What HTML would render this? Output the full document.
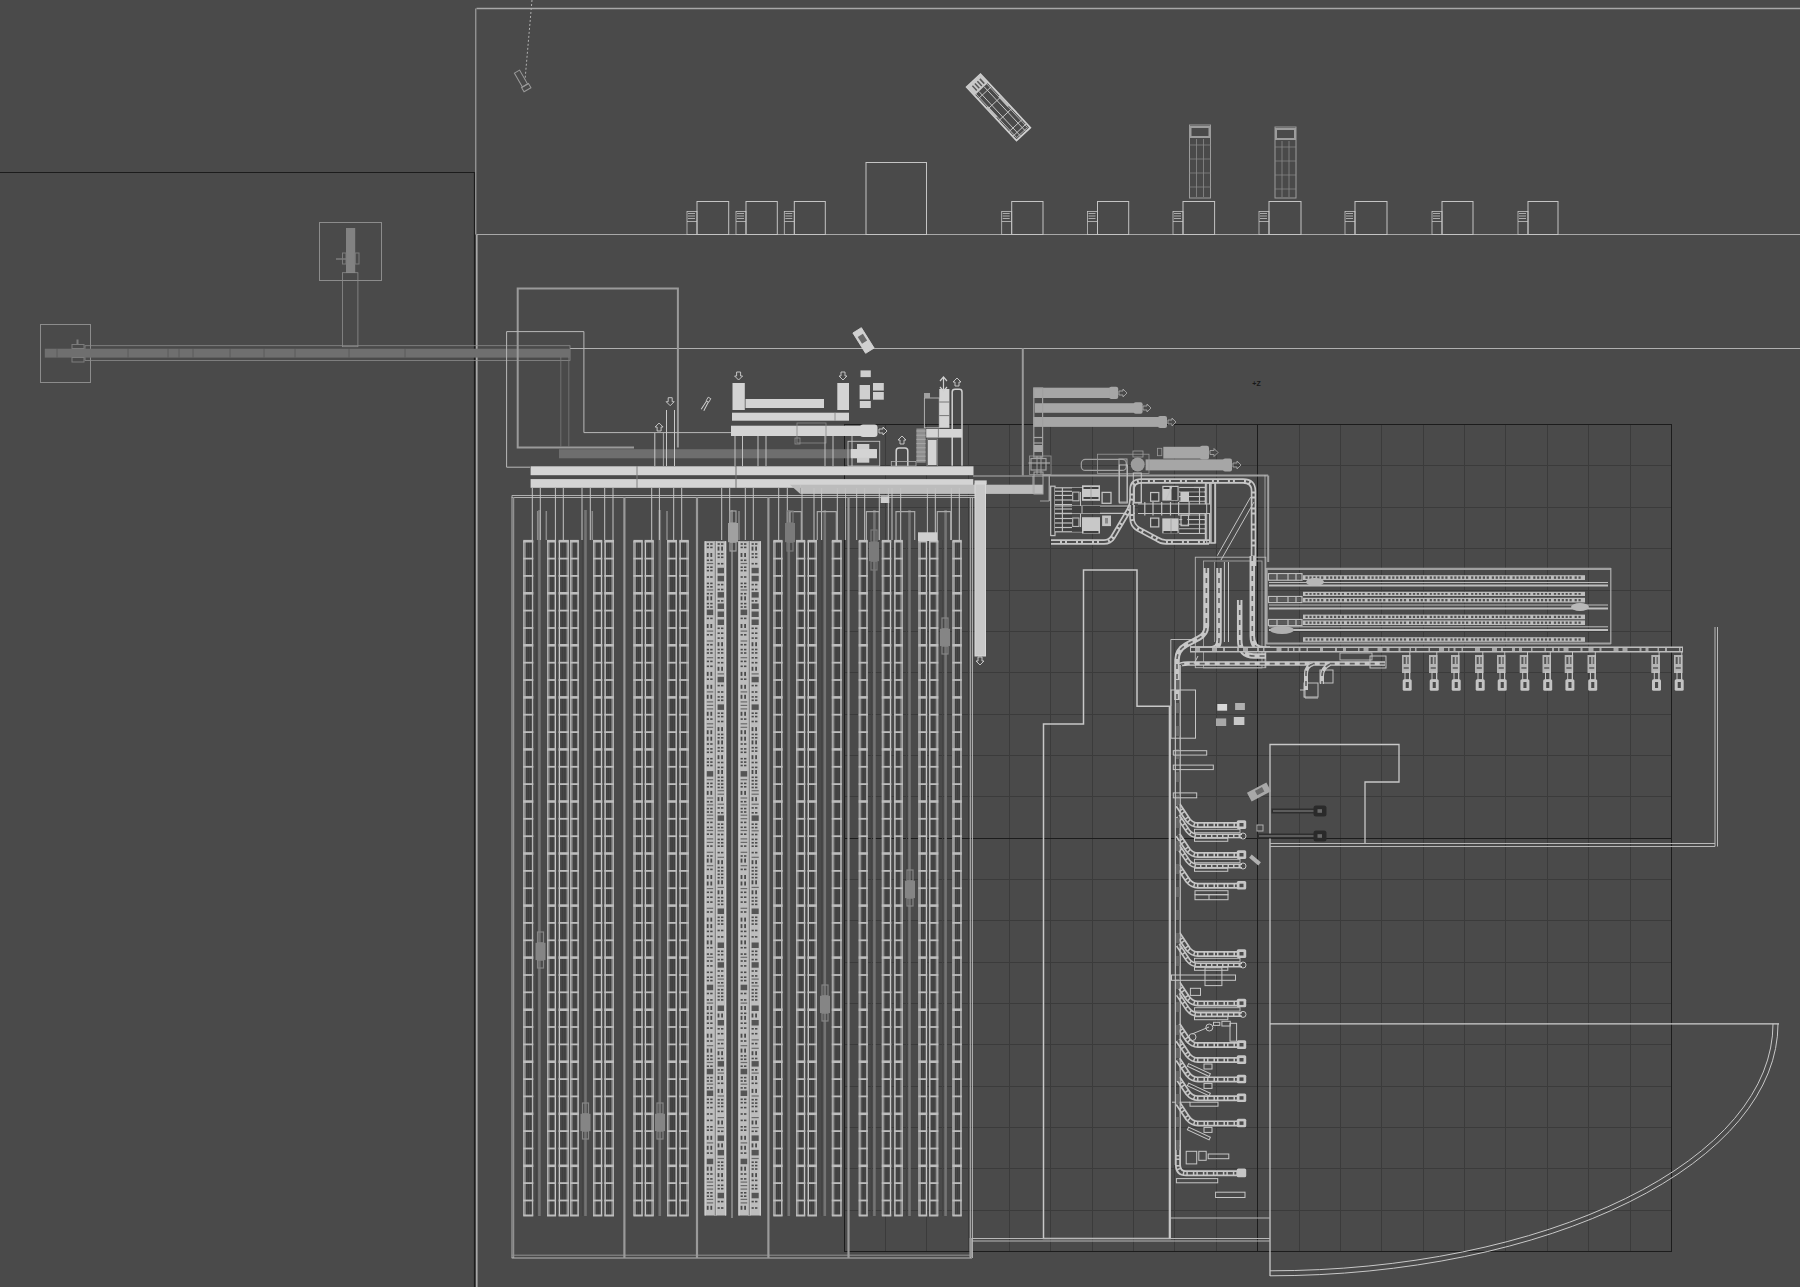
<!DOCTYPE html>
<html><head><meta charset="utf-8"><style>
html,body{margin:0;padding:0;background:#4a4a4a;width:1800px;height:1287px;overflow:hidden;}
svg{display:block;}
</style></head><body>
<svg width="1800" height="1287" viewBox="0 0 1800 1287" font-family="Liberation Sans, sans-serif">
<rect x="0" y="0" width="1800" height="1287" fill="#4a4a4a"/>
<line x1="885.5" y1="424.5" x2="885.5" y2="1251.5" stroke="#3b3b3b" stroke-width="1"/>
<line x1="926.5" y1="424.5" x2="926.5" y2="1251.5" stroke="#3b3b3b" stroke-width="1"/>
<line x1="968.5" y1="424.5" x2="968.5" y2="1251.5" stroke="#3b3b3b" stroke-width="1"/>
<line x1="1009.5" y1="424.5" x2="1009.5" y2="1251.5" stroke="#3b3b3b" stroke-width="1"/>
<line x1="1050.5" y1="424.5" x2="1050.5" y2="1251.5" stroke="#3b3b3b" stroke-width="1"/>
<line x1="1092.5" y1="424.5" x2="1092.5" y2="1251.5" stroke="#3b3b3b" stroke-width="1"/>
<line x1="1133.5" y1="424.5" x2="1133.5" y2="1251.5" stroke="#3b3b3b" stroke-width="1"/>
<line x1="1174.5" y1="424.5" x2="1174.5" y2="1251.5" stroke="#3b3b3b" stroke-width="1"/>
<line x1="1216.5" y1="424.5" x2="1216.5" y2="1251.5" stroke="#3b3b3b" stroke-width="1"/>
<line x1="1299.5" y1="424.5" x2="1299.5" y2="1251.5" stroke="#3b3b3b" stroke-width="1"/>
<line x1="1340.5" y1="424.5" x2="1340.5" y2="1251.5" stroke="#3b3b3b" stroke-width="1"/>
<line x1="1381.5" y1="424.5" x2="1381.5" y2="1251.5" stroke="#3b3b3b" stroke-width="1"/>
<line x1="1423.5" y1="424.5" x2="1423.5" y2="1251.5" stroke="#3b3b3b" stroke-width="1"/>
<line x1="1464.5" y1="424.5" x2="1464.5" y2="1251.5" stroke="#3b3b3b" stroke-width="1"/>
<line x1="1505.5" y1="424.5" x2="1505.5" y2="1251.5" stroke="#3b3b3b" stroke-width="1"/>
<line x1="1547.5" y1="424.5" x2="1547.5" y2="1251.5" stroke="#3b3b3b" stroke-width="1"/>
<line x1="1588.5" y1="424.5" x2="1588.5" y2="1251.5" stroke="#3b3b3b" stroke-width="1"/>
<line x1="1630.5" y1="424.5" x2="1630.5" y2="1251.5" stroke="#3b3b3b" stroke-width="1"/>
<line x1="844.5" y1="465.5" x2="1671.5" y2="465.5" stroke="#3b3b3b" stroke-width="1"/>
<line x1="844.5" y1="507.5" x2="1671.5" y2="507.5" stroke="#3b3b3b" stroke-width="1"/>
<line x1="844.5" y1="548.5" x2="1671.5" y2="548.5" stroke="#3b3b3b" stroke-width="1"/>
<line x1="844.5" y1="590.5" x2="1671.5" y2="590.5" stroke="#3b3b3b" stroke-width="1"/>
<line x1="844.5" y1="631.5" x2="1671.5" y2="631.5" stroke="#3b3b3b" stroke-width="1"/>
<line x1="844.5" y1="672.5" x2="1671.5" y2="672.5" stroke="#3b3b3b" stroke-width="1"/>
<line x1="844.5" y1="714.5" x2="1671.5" y2="714.5" stroke="#3b3b3b" stroke-width="1"/>
<line x1="844.5" y1="755.5" x2="1671.5" y2="755.5" stroke="#3b3b3b" stroke-width="1"/>
<line x1="844.5" y1="796.5" x2="1671.5" y2="796.5" stroke="#3b3b3b" stroke-width="1"/>
<line x1="844.5" y1="879.5" x2="1671.5" y2="879.5" stroke="#3b3b3b" stroke-width="1"/>
<line x1="844.5" y1="920.5" x2="1671.5" y2="920.5" stroke="#3b3b3b" stroke-width="1"/>
<line x1="844.5" y1="962.5" x2="1671.5" y2="962.5" stroke="#3b3b3b" stroke-width="1"/>
<line x1="844.5" y1="1003.5" x2="1671.5" y2="1003.5" stroke="#3b3b3b" stroke-width="1"/>
<line x1="844.5" y1="1044.5" x2="1671.5" y2="1044.5" stroke="#3b3b3b" stroke-width="1"/>
<line x1="844.5" y1="1086.5" x2="1671.5" y2="1086.5" stroke="#3b3b3b" stroke-width="1"/>
<line x1="844.5" y1="1127.5" x2="1671.5" y2="1127.5" stroke="#3b3b3b" stroke-width="1"/>
<line x1="844.5" y1="1168.5" x2="1671.5" y2="1168.5" stroke="#3b3b3b" stroke-width="1"/>
<line x1="844.5" y1="1210.5" x2="1671.5" y2="1210.5" stroke="#3b3b3b" stroke-width="1"/>
<rect x="844.5" y="424.5" width="827.0" height="827.0" stroke="#1c1c1c" stroke-width="1" fill="none"/>
<line x1="1257.5" y1="424.5" x2="1257.5" y2="1251.5" stroke="#1c1c1c" stroke-width="1"/>
<line x1="844.5" y1="838.5" x2="1671.5" y2="838.5" stroke="#1c1c1c" stroke-width="1"/>
<line x1="0.0" y1="172.5" x2="475.0" y2="172.5" stroke="#1c1c1c" stroke-width="1.2"/>
<line x1="474.5" y1="172.0" x2="474.5" y2="1287.0" stroke="#1c1c1c" stroke-width="1.2"/>
<line x1="475.8" y1="8.5" x2="475.8" y2="234.5" stroke="#b0b0b0" stroke-width="1"/>
<line x1="476.8" y1="234.5" x2="476.8" y2="1287.0" stroke="#a8a8a8" stroke-width="1.6"/>
<line x1="476.5" y1="8.5" x2="1800.0" y2="8.5" stroke="#a8a8a8" stroke-width="1.6"/>
<line x1="476.5" y1="234.5" x2="1800.0" y2="234.5" stroke="#a8a8a8" stroke-width="1"/>
<line x1="570.0" y1="348.5" x2="1800.0" y2="348.5" stroke="#b0b0b0" stroke-width="1"/>
<rect x="697.0" y="201.5" width="31.7" height="33.0" stroke="#c4c4c4" stroke-width="1" fill="none"/>
<rect x="687.0" y="211.5" width="10.0" height="23.0" stroke="#c4c4c4" stroke-width="0.8" fill="none"/>
<line x1="688.0" y1="213.5" x2="695.0" y2="213.5" stroke="#c4c4c4" stroke-width="0.8"/>
<line x1="688.0" y1="216.0" x2="695.0" y2="216.0" stroke="#c4c4c4" stroke-width="0.8"/>
<line x1="688.0" y1="218.5" x2="695.0" y2="218.5" stroke="#c4c4c4" stroke-width="0.8"/>
<line x1="687.0" y1="221.5" x2="697.0" y2="221.5" stroke="#c4c4c4" stroke-width="0.8"/>
<rect x="746.0" y="201.5" width="31.3" height="33.0" stroke="#c4c4c4" stroke-width="1" fill="none"/>
<rect x="736.0" y="211.5" width="10.0" height="23.0" stroke="#c4c4c4" stroke-width="0.8" fill="none"/>
<line x1="737.0" y1="213.5" x2="744.0" y2="213.5" stroke="#c4c4c4" stroke-width="0.8"/>
<line x1="737.0" y1="216.0" x2="744.0" y2="216.0" stroke="#c4c4c4" stroke-width="0.8"/>
<line x1="737.0" y1="218.5" x2="744.0" y2="218.5" stroke="#c4c4c4" stroke-width="0.8"/>
<line x1="736.0" y1="221.5" x2="746.0" y2="221.5" stroke="#c4c4c4" stroke-width="0.8"/>
<rect x="794.3" y="201.5" width="31.0" height="33.0" stroke="#c4c4c4" stroke-width="1" fill="none"/>
<rect x="784.3" y="211.5" width="10.0" height="23.0" stroke="#c4c4c4" stroke-width="0.8" fill="none"/>
<line x1="785.3" y1="213.5" x2="792.3" y2="213.5" stroke="#c4c4c4" stroke-width="0.8"/>
<line x1="785.3" y1="216.0" x2="792.3" y2="216.0" stroke="#c4c4c4" stroke-width="0.8"/>
<line x1="785.3" y1="218.5" x2="792.3" y2="218.5" stroke="#c4c4c4" stroke-width="0.8"/>
<line x1="784.3" y1="221.5" x2="794.3" y2="221.5" stroke="#c4c4c4" stroke-width="0.8"/>
<rect x="1011.7" y="201.5" width="31.3" height="33.0" stroke="#c4c4c4" stroke-width="1" fill="none"/>
<rect x="1001.7" y="211.5" width="10.0" height="23.0" stroke="#c4c4c4" stroke-width="0.8" fill="none"/>
<line x1="1002.7" y1="213.5" x2="1009.7" y2="213.5" stroke="#c4c4c4" stroke-width="0.8"/>
<line x1="1002.7" y1="216.0" x2="1009.7" y2="216.0" stroke="#c4c4c4" stroke-width="0.8"/>
<line x1="1002.7" y1="218.5" x2="1009.7" y2="218.5" stroke="#c4c4c4" stroke-width="0.8"/>
<line x1="1001.7" y1="221.5" x2="1011.7" y2="221.5" stroke="#c4c4c4" stroke-width="0.8"/>
<rect x="1097.5" y="201.5" width="31.2" height="33.0" stroke="#c4c4c4" stroke-width="1" fill="none"/>
<rect x="1087.5" y="211.5" width="10.0" height="23.0" stroke="#c4c4c4" stroke-width="0.8" fill="none"/>
<line x1="1088.5" y1="213.5" x2="1095.5" y2="213.5" stroke="#c4c4c4" stroke-width="0.8"/>
<line x1="1088.5" y1="216.0" x2="1095.5" y2="216.0" stroke="#c4c4c4" stroke-width="0.8"/>
<line x1="1088.5" y1="218.5" x2="1095.5" y2="218.5" stroke="#c4c4c4" stroke-width="0.8"/>
<line x1="1087.5" y1="221.5" x2="1097.5" y2="221.5" stroke="#c4c4c4" stroke-width="0.8"/>
<rect x="1183.0" y="201.5" width="31.6" height="33.0" stroke="#c4c4c4" stroke-width="1" fill="none"/>
<rect x="1173.0" y="211.5" width="10.0" height="23.0" stroke="#c4c4c4" stroke-width="0.8" fill="none"/>
<line x1="1174.0" y1="213.5" x2="1181.0" y2="213.5" stroke="#c4c4c4" stroke-width="0.8"/>
<line x1="1174.0" y1="216.0" x2="1181.0" y2="216.0" stroke="#c4c4c4" stroke-width="0.8"/>
<line x1="1174.0" y1="218.5" x2="1181.0" y2="218.5" stroke="#c4c4c4" stroke-width="0.8"/>
<line x1="1173.0" y1="221.5" x2="1183.0" y2="221.5" stroke="#c4c4c4" stroke-width="0.8"/>
<rect x="1269.0" y="201.5" width="32.0" height="33.0" stroke="#c4c4c4" stroke-width="1" fill="none"/>
<rect x="1259.0" y="211.5" width="10.0" height="23.0" stroke="#c4c4c4" stroke-width="0.8" fill="none"/>
<line x1="1260.0" y1="213.5" x2="1267.0" y2="213.5" stroke="#c4c4c4" stroke-width="0.8"/>
<line x1="1260.0" y1="216.0" x2="1267.0" y2="216.0" stroke="#c4c4c4" stroke-width="0.8"/>
<line x1="1260.0" y1="218.5" x2="1267.0" y2="218.5" stroke="#c4c4c4" stroke-width="0.8"/>
<line x1="1259.0" y1="221.5" x2="1269.0" y2="221.5" stroke="#c4c4c4" stroke-width="0.8"/>
<rect x="1355.0" y="201.5" width="32.0" height="33.0" stroke="#c4c4c4" stroke-width="1" fill="none"/>
<rect x="1345.0" y="211.5" width="10.0" height="23.0" stroke="#c4c4c4" stroke-width="0.8" fill="none"/>
<line x1="1346.0" y1="213.5" x2="1353.0" y2="213.5" stroke="#c4c4c4" stroke-width="0.8"/>
<line x1="1346.0" y1="216.0" x2="1353.0" y2="216.0" stroke="#c4c4c4" stroke-width="0.8"/>
<line x1="1346.0" y1="218.5" x2="1353.0" y2="218.5" stroke="#c4c4c4" stroke-width="0.8"/>
<line x1="1345.0" y1="221.5" x2="1355.0" y2="221.5" stroke="#c4c4c4" stroke-width="0.8"/>
<rect x="1442.0" y="201.5" width="31.0" height="33.0" stroke="#c4c4c4" stroke-width="1" fill="none"/>
<rect x="1432.0" y="211.5" width="10.0" height="23.0" stroke="#c4c4c4" stroke-width="0.8" fill="none"/>
<line x1="1433.0" y1="213.5" x2="1440.0" y2="213.5" stroke="#c4c4c4" stroke-width="0.8"/>
<line x1="1433.0" y1="216.0" x2="1440.0" y2="216.0" stroke="#c4c4c4" stroke-width="0.8"/>
<line x1="1433.0" y1="218.5" x2="1440.0" y2="218.5" stroke="#c4c4c4" stroke-width="0.8"/>
<line x1="1432.0" y1="221.5" x2="1442.0" y2="221.5" stroke="#c4c4c4" stroke-width="0.8"/>
<rect x="1528.0" y="201.5" width="30.0" height="33.0" stroke="#c4c4c4" stroke-width="1" fill="none"/>
<rect x="1518.0" y="211.5" width="10.0" height="23.0" stroke="#c4c4c4" stroke-width="0.8" fill="none"/>
<line x1="1519.0" y1="213.5" x2="1526.0" y2="213.5" stroke="#c4c4c4" stroke-width="0.8"/>
<line x1="1519.0" y1="216.0" x2="1526.0" y2="216.0" stroke="#c4c4c4" stroke-width="0.8"/>
<line x1="1519.0" y1="218.5" x2="1526.0" y2="218.5" stroke="#c4c4c4" stroke-width="0.8"/>
<line x1="1518.0" y1="221.5" x2="1528.0" y2="221.5" stroke="#c4c4c4" stroke-width="0.8"/>
<rect x="866.0" y="162.5" width="60.5" height="72.0" stroke="#c4c4c4" stroke-width="1" fill="none"/>
<rect x="1189.5" y="125.0" width="21.0" height="73.0" stroke="#9c9c9c" stroke-width="1" fill="none"/>
<rect x="1190.5" y="127.0" width="19.0" height="10.0" stroke="#9c9c9c" stroke-width="2" fill="none"/>
<line x1="1196.5" y1="139.0" x2="1196.5" y2="197.0" stroke="#8a8a8a" stroke-width="0.8"/>
<line x1="1203.5" y1="139.0" x2="1203.5" y2="197.0" stroke="#8a8a8a" stroke-width="0.8"/>
<line x1="1189.5" y1="145.0" x2="1210.5" y2="145.0" stroke="#8a8a8a" stroke-width="0.7"/>
<line x1="1189.5" y1="159.0" x2="1210.5" y2="159.0" stroke="#8a8a8a" stroke-width="0.7"/>
<line x1="1189.5" y1="173.0" x2="1210.5" y2="173.0" stroke="#8a8a8a" stroke-width="0.7"/>
<line x1="1189.5" y1="187.0" x2="1210.5" y2="187.0" stroke="#8a8a8a" stroke-width="0.7"/>
<rect x="1275.0" y="127.0" width="21.0" height="71.0" stroke="#9c9c9c" stroke-width="1" fill="none"/>
<rect x="1276.0" y="129.0" width="19.0" height="10.0" stroke="#9c9c9c" stroke-width="2" fill="none"/>
<line x1="1282.0" y1="141.0" x2="1282.0" y2="197.0" stroke="#8a8a8a" stroke-width="0.8"/>
<line x1="1289.0" y1="141.0" x2="1289.0" y2="197.0" stroke="#8a8a8a" stroke-width="0.8"/>
<line x1="1275.0" y1="147.0" x2="1296.0" y2="147.0" stroke="#8a8a8a" stroke-width="0.7"/>
<line x1="1275.0" y1="161.0" x2="1296.0" y2="161.0" stroke="#8a8a8a" stroke-width="0.7"/>
<line x1="1275.0" y1="175.0" x2="1296.0" y2="175.0" stroke="#8a8a8a" stroke-width="0.7"/>
<line x1="1275.0" y1="189.0" x2="1296.0" y2="189.0" stroke="#8a8a8a" stroke-width="0.7"/>
<g transform="translate(998.5,107.3) rotate(47)">
<rect x="-36.5" y="-9.4" width="73.0" height="18.8" stroke="#d0d0d0" stroke-width="1.8" fill="none"/>
<rect x="-34.5" y="-7.4" width="69.0" height="14.8" stroke="#c0c0c0" stroke-width="0.8" fill="none"/>
<rect x="-36.5" y="-9.4" width="11.5" height="18.8" fill="#c8c8c8"/>
<rect x="-33.5" y="-6.5" width="6.5" height="1.5" fill="#585858"/>
<rect x="-33.5" y="-3.1" width="6.5" height="1.5" fill="#585858"/>
<rect x="-33.5" y="0.3" width="6.5" height="1.5" fill="#585858"/>
<rect x="-33.5" y="3.7" width="6.5" height="1.5" fill="#585858"/>
<line x1="-25.0" y1="-3.5" x2="36.5" y2="-3.5" stroke="#c8c8c8" stroke-width="0.9"/>
<line x1="-25.0" y1="3.5" x2="36.5" y2="3.5" stroke="#c8c8c8" stroke-width="0.9"/>
<line x1="-20.0" y1="-9.4" x2="-20.0" y2="9.4" stroke="#c8c8c8" stroke-width="0.9"/>
<line x1="-6.0" y1="-9.4" x2="-6.0" y2="9.4" stroke="#c8c8c8" stroke-width="0.9"/>
<line x1="10.0" y1="-9.4" x2="10.0" y2="9.4" stroke="#c8c8c8" stroke-width="0.9"/>
<line x1="25.0" y1="-9.4" x2="25.0" y2="9.4" stroke="#c8c8c8" stroke-width="0.9"/>
<line x1="31.0" y1="-9.4" x2="31.0" y2="9.4" stroke="#c8c8c8" stroke-width="0.9"/>
<rect x="-8.0" y="-9.4" width="14.0" height="2.4" fill="#bcbcbc"/>
<rect x="-8.0" y="7.0" width="14.0" height="2.4" fill="#bcbcbc"/>
</g>
<path d="M532,0 L525,80" stroke="#b0b0b0" stroke-width="1" fill="none" stroke-dasharray="2,2"/>
<g transform="translate(523,82) rotate(-30)">
<rect x="-3.0" y="-12.0" width="6.0" height="16.0" stroke="#9a9a9a" stroke-width="1" fill="none"/>
<rect x="-4.0" y="4.0" width="8.0" height="5.0" stroke="#9a9a9a" stroke-width="1" fill="none"/>
</g>
<rect x="40.5" y="324.5" width="50.0" height="58.0" stroke="#8c8c8c" stroke-width="1" fill="none"/>
<rect x="85.0" y="345.7" width="485.0" height="14.8" stroke="#8c8c8c" stroke-width="0.8" fill="none"/>
<rect x="44.8" y="348.7" width="525.2" height="8.9" fill="#6f6f6f"/>
<line x1="57.0" y1="348.7" x2="57.0" y2="357.6" stroke="#555555" stroke-width="0.8"/>
<line x1="128.0" y1="348.7" x2="128.0" y2="357.6" stroke="#555555" stroke-width="0.8"/>
<line x1="168.0" y1="348.7" x2="168.0" y2="357.6" stroke="#555555" stroke-width="0.8"/>
<line x1="179.0" y1="348.7" x2="179.0" y2="357.6" stroke="#555555" stroke-width="0.8"/>
<line x1="193.0" y1="348.7" x2="193.0" y2="357.6" stroke="#555555" stroke-width="0.8"/>
<line x1="230.0" y1="348.7" x2="230.0" y2="357.6" stroke="#555555" stroke-width="0.8"/>
<line x1="264.0" y1="348.7" x2="264.0" y2="357.6" stroke="#555555" stroke-width="0.8"/>
<line x1="295.0" y1="348.7" x2="295.0" y2="357.6" stroke="#555555" stroke-width="0.8"/>
<line x1="349.0" y1="348.7" x2="349.0" y2="357.6" stroke="#555555" stroke-width="0.8"/>
<line x1="405.0" y1="348.7" x2="405.0" y2="357.6" stroke="#555555" stroke-width="0.8"/>
<rect x="319.5" y="222.5" width="62.0" height="58.0" stroke="#8c8c8c" stroke-width="1" fill="none"/>
<rect x="346.0" y="228.0" width="9.2" height="45.0" fill="#828282"/>
<rect x="342.4" y="272.7" width="15.5" height="74.0" stroke="#8c8c8c" stroke-width="0.8" fill="none"/>
<rect x="342.5" y="253.0" width="3.5" height="11.0" stroke="#7c7c7c" stroke-width="1" fill="none"/>
<rect x="355.2" y="253.0" width="3.8" height="11.0" stroke="#7c7c7c" stroke-width="1" fill="none"/>
<line x1="336.0" y1="259.0" x2="346.0" y2="259.0" stroke="#7c7c7c" stroke-width="1.5"/>
<rect x="72.0" y="344.5" width="12.0" height="4.0" stroke="#7c7c7c" stroke-width="1" fill="none"/>
<rect x="72.0" y="357.5" width="12.0" height="4.5" stroke="#7c7c7c" stroke-width="1" fill="none"/>
<rect x="76.5" y="339.5" width="2.0" height="5.0" fill="#7c7c7c"/>
<polyline points="634.0,447.5 517.7,447.5 517.7,288.5 677.9,288.5 677.9,447.5" stroke="#9a9a9a" stroke-width="2" fill="none"/>
<polyline points="530.0,467.2 506.6,467.2 506.6,331.6 583.9,331.6 583.9,432.6 731.0,432.6" stroke="#b8b8b8" stroke-width="1" fill="none"/>
<line x1="560.8" y1="357.0" x2="560.8" y2="447.0" stroke="#7a7a7a" stroke-width="0.8"/>
<line x1="568.8" y1="357.0" x2="568.8" y2="447.0" stroke="#7a7a7a" stroke-width="0.8"/>
<line x1="511.7" y1="495.5" x2="975.0" y2="495.5" stroke="#b0b0b0" stroke-width="1"/>
<line x1="511.7" y1="497.5" x2="975.0" y2="497.5" stroke="#b0b0b0" stroke-width="1"/>
<line x1="512.0" y1="496.0" x2="512.0" y2="1258.0" stroke="#b0b0b0" stroke-width="1"/>
<line x1="513.5" y1="497.0" x2="513.5" y2="1258.0" stroke="#909090" stroke-width="1.5"/>
<line x1="511.7" y1="1258.0" x2="972.0" y2="1258.0" stroke="#b8b8b8" stroke-width="1"/>
<line x1="511.7" y1="1255.2" x2="972.0" y2="1255.2" stroke="#909090" stroke-width="1"/>
<line x1="624.4" y1="497.0" x2="624.4" y2="1258.0" stroke="#9a9a9a" stroke-width="2.2"/>
<line x1="697.0" y1="497.0" x2="697.0" y2="1258.0" stroke="#9a9a9a" stroke-width="2.2"/>
<line x1="768.4" y1="497.0" x2="768.4" y2="1258.0" stroke="#9a9a9a" stroke-width="2.2"/>
<line x1="848.5" y1="497.0" x2="848.5" y2="1258.0" stroke="#9a9a9a" stroke-width="2.2"/>
<line x1="970.3" y1="497.0" x2="970.3" y2="1258.0" stroke="#b8b8b8" stroke-width="1"/>
<line x1="972.4" y1="497.0" x2="972.4" y2="1258.0" stroke="#b8b8b8" stroke-width="1"/>
<rect x="969.5" y="1238.0" width="2.5" height="19.0" fill="#999999"/>
<polygon points="1043.5,1238.5 1043.5,724.0 1083.5,724.0 1083.5,570.0 1137.0,570.0 1137.0,706.2 1170.0,706.2 1170.0,1238.5" stroke="#c8c8c8" stroke-width="1.5" fill="none"/>
<polyline points="1270.0,1276.0 1270.0,744.5 1399.0,744.5 1399.0,782.0 1365.0,782.0 1365.0,843.5" stroke="#c8c8c8" stroke-width="1.3" fill="none"/>
<line x1="1270.0" y1="843.5" x2="1715.0" y2="843.5" stroke="#b8b8b8" stroke-width="1"/>
<line x1="1270.0" y1="846.5" x2="1715.0" y2="846.5" stroke="#b8b8b8" stroke-width="1"/>
<line x1="1715.0" y1="627.0" x2="1715.0" y2="846.5" stroke="#b8b8b8" stroke-width="1"/>
<line x1="1717.5" y1="627.0" x2="1717.5" y2="846.5" stroke="#b8b8b8" stroke-width="1"/>
<line x1="972.0" y1="1238.5" x2="1270.0" y2="1238.5" stroke="#b8b8b8" stroke-width="1"/>
<line x1="972.0" y1="1241.0" x2="1270.0" y2="1241.0" stroke="#b8b8b8" stroke-width="1"/>
<line x1="1170.0" y1="1218.0" x2="1270.0" y2="1218.0" stroke="#b8b8b8" stroke-width="1.2"/>
<line x1="1270.0" y1="1023.8" x2="1779.0" y2="1023.8" stroke="#d0d0d0" stroke-width="1.2"/>
<path d="M1778,1023.8 A508,252 0 0 1 1270,1275.8" stroke="#c8c8c8" stroke-width="1" fill="none" />
<path d="M1773,1023.8 A503,247 0 0 1 1270,1270.8" stroke="#c8c8c8" stroke-width="1" fill="none" />
<line x1="539.4" y1="510.0" x2="539.4" y2="1216.0" stroke="#747474" stroke-width="2.6"/>
<line x1="536.4" y1="540.0" x2="536.4" y2="1216.0" stroke="#434343" stroke-width="1.2"/>
<line x1="585.5" y1="510.0" x2="585.5" y2="1216.0" stroke="#747474" stroke-width="2.6"/>
<line x1="582.5" y1="540.0" x2="582.5" y2="1216.0" stroke="#434343" stroke-width="1.2"/>
<line x1="659.8" y1="510.0" x2="659.8" y2="1216.0" stroke="#747474" stroke-width="2.6"/>
<line x1="656.8" y1="540.0" x2="656.8" y2="1216.0" stroke="#434343" stroke-width="1.2"/>
<line x1="788.8" y1="510.0" x2="788.8" y2="1216.0" stroke="#747474" stroke-width="2.6"/>
<line x1="785.8" y1="540.0" x2="785.8" y2="1216.0" stroke="#434343" stroke-width="1.2"/>
<line x1="824.8" y1="510.0" x2="824.8" y2="1216.0" stroke="#747474" stroke-width="2.6"/>
<line x1="821.8" y1="540.0" x2="821.8" y2="1216.0" stroke="#434343" stroke-width="1.2"/>
<line x1="874.4" y1="510.0" x2="874.4" y2="1216.0" stroke="#747474" stroke-width="2.6"/>
<line x1="871.4" y1="540.0" x2="871.4" y2="1216.0" stroke="#434343" stroke-width="1.2"/>
<line x1="909.5" y1="510.0" x2="909.5" y2="1216.0" stroke="#747474" stroke-width="2.6"/>
<line x1="906.5" y1="540.0" x2="906.5" y2="1216.0" stroke="#434343" stroke-width="1.2"/>
<line x1="945.6" y1="510.0" x2="945.6" y2="1216.0" stroke="#747474" stroke-width="2.6"/>
<line x1="942.6" y1="540.0" x2="942.6" y2="1216.0" stroke="#434343" stroke-width="1.2"/>
<rect x="523.2" y="541.2" width="10.1" height="674.3" fill="#3f3f3f"/>
<rect x="523.2" y="541.2" width="2.6" height="674.3" fill="#8e8e8e"/>
<line x1="523.7" y1="541.2" x2="523.7" y2="1215.5" stroke="#b0b0b0" stroke-width="1"/>
<line x1="532.5" y1="541.2" x2="532.5" y2="1215.5" stroke="#c8c8c8" stroke-width="1.4"/>
<line x1="527.3" y1="541.2" x2="527.3" y2="1215.5" stroke="#4c4c4c" stroke-width="0.7"/>
<line x1="529.5" y1="541.2" x2="529.5" y2="1215.5" stroke="#4c4c4c" stroke-width="0.7"/>
<line x1="531.7" y1="541.2" x2="531.7" y2="1215.5" stroke="#4c4c4c" stroke-width="0.7"/>
<line x1="523.2" y1="541.2" x2="533.3" y2="541.2" stroke="#bdbdbd" stroke-width="2.6"/>
<line x1="523.2" y1="558.6" x2="533.3" y2="558.6" stroke="#bdbdbd" stroke-width="1.8"/>
<line x1="523.2" y1="575.9" x2="533.3" y2="575.9" stroke="#bdbdbd" stroke-width="1.8"/>
<line x1="523.2" y1="593.3" x2="533.3" y2="593.3" stroke="#bdbdbd" stroke-width="2.6"/>
<line x1="523.2" y1="610.6" x2="533.3" y2="610.6" stroke="#bdbdbd" stroke-width="1.8"/>
<line x1="523.2" y1="628.0" x2="533.3" y2="628.0" stroke="#bdbdbd" stroke-width="1.8"/>
<line x1="523.2" y1="645.3" x2="533.3" y2="645.3" stroke="#bdbdbd" stroke-width="2.6"/>
<line x1="523.2" y1="662.7" x2="533.3" y2="662.7" stroke="#bdbdbd" stroke-width="1.8"/>
<line x1="523.2" y1="680.0" x2="533.3" y2="680.0" stroke="#bdbdbd" stroke-width="1.8"/>
<line x1="523.2" y1="697.4" x2="533.3" y2="697.4" stroke="#bdbdbd" stroke-width="2.6"/>
<line x1="523.2" y1="714.7" x2="533.3" y2="714.7" stroke="#bdbdbd" stroke-width="1.8"/>
<line x1="523.2" y1="732.1" x2="533.3" y2="732.1" stroke="#bdbdbd" stroke-width="1.8"/>
<line x1="523.2" y1="749.4" x2="533.3" y2="749.4" stroke="#bdbdbd" stroke-width="2.6"/>
<line x1="523.2" y1="766.8" x2="533.3" y2="766.8" stroke="#bdbdbd" stroke-width="1.8"/>
<line x1="523.2" y1="784.1" x2="533.3" y2="784.1" stroke="#bdbdbd" stroke-width="1.8"/>
<line x1="523.2" y1="801.5" x2="533.3" y2="801.5" stroke="#bdbdbd" stroke-width="2.6"/>
<line x1="523.2" y1="818.8" x2="533.3" y2="818.8" stroke="#bdbdbd" stroke-width="1.8"/>
<line x1="523.2" y1="836.2" x2="533.3" y2="836.2" stroke="#bdbdbd" stroke-width="1.8"/>
<line x1="523.2" y1="853.5" x2="533.3" y2="853.5" stroke="#bdbdbd" stroke-width="2.6"/>
<line x1="523.2" y1="870.9" x2="533.3" y2="870.9" stroke="#bdbdbd" stroke-width="1.8"/>
<line x1="523.2" y1="888.2" x2="533.3" y2="888.2" stroke="#bdbdbd" stroke-width="1.8"/>
<line x1="523.2" y1="905.6" x2="533.3" y2="905.6" stroke="#bdbdbd" stroke-width="2.6"/>
<line x1="523.2" y1="922.9" x2="533.3" y2="922.9" stroke="#bdbdbd" stroke-width="1.8"/>
<line x1="523.2" y1="940.3" x2="533.3" y2="940.3" stroke="#bdbdbd" stroke-width="1.8"/>
<line x1="523.2" y1="957.6" x2="533.3" y2="957.6" stroke="#bdbdbd" stroke-width="2.6"/>
<line x1="523.2" y1="975.0" x2="533.3" y2="975.0" stroke="#bdbdbd" stroke-width="1.8"/>
<line x1="523.2" y1="992.3" x2="533.3" y2="992.3" stroke="#bdbdbd" stroke-width="1.8"/>
<line x1="523.2" y1="1009.7" x2="533.3" y2="1009.7" stroke="#bdbdbd" stroke-width="2.6"/>
<line x1="523.2" y1="1027.0" x2="533.3" y2="1027.0" stroke="#bdbdbd" stroke-width="1.8"/>
<line x1="523.2" y1="1044.4" x2="533.3" y2="1044.4" stroke="#bdbdbd" stroke-width="1.8"/>
<line x1="523.2" y1="1061.7" x2="533.3" y2="1061.7" stroke="#bdbdbd" stroke-width="2.6"/>
<line x1="523.2" y1="1079.1" x2="533.3" y2="1079.1" stroke="#bdbdbd" stroke-width="1.8"/>
<line x1="523.2" y1="1096.4" x2="533.3" y2="1096.4" stroke="#bdbdbd" stroke-width="1.8"/>
<line x1="523.2" y1="1113.8" x2="533.3" y2="1113.8" stroke="#bdbdbd" stroke-width="2.6"/>
<line x1="523.2" y1="1131.1" x2="533.3" y2="1131.1" stroke="#bdbdbd" stroke-width="1.8"/>
<line x1="523.2" y1="1148.5" x2="533.3" y2="1148.5" stroke="#bdbdbd" stroke-width="1.8"/>
<line x1="523.2" y1="1165.8" x2="533.3" y2="1165.8" stroke="#bdbdbd" stroke-width="2.6"/>
<line x1="523.2" y1="1183.1" x2="533.3" y2="1183.1" stroke="#bdbdbd" stroke-width="1.8"/>
<line x1="523.2" y1="1200.5" x2="533.3" y2="1200.5" stroke="#bdbdbd" stroke-width="1.8"/>
<line x1="523.2" y1="1215.5" x2="533.3" y2="1215.5" stroke="#bdbdbd" stroke-width="2"/>
<rect x="547.0" y="541.2" width="9.1" height="674.3" fill="#3f3f3f"/>
<rect x="547.0" y="541.2" width="2.6" height="674.3" fill="#8e8e8e"/>
<line x1="547.5" y1="541.2" x2="547.5" y2="1215.5" stroke="#b0b0b0" stroke-width="1"/>
<line x1="555.3" y1="541.2" x2="555.3" y2="1215.5" stroke="#c8c8c8" stroke-width="1.4"/>
<line x1="551.1" y1="541.2" x2="551.1" y2="1215.5" stroke="#4c4c4c" stroke-width="0.7"/>
<line x1="553.3" y1="541.2" x2="553.3" y2="1215.5" stroke="#4c4c4c" stroke-width="0.7"/>
<line x1="547.0" y1="541.2" x2="556.1" y2="541.2" stroke="#bdbdbd" stroke-width="2.6"/>
<line x1="547.0" y1="558.6" x2="556.1" y2="558.6" stroke="#bdbdbd" stroke-width="1.8"/>
<line x1="547.0" y1="575.9" x2="556.1" y2="575.9" stroke="#bdbdbd" stroke-width="1.8"/>
<line x1="547.0" y1="593.3" x2="556.1" y2="593.3" stroke="#bdbdbd" stroke-width="2.6"/>
<line x1="547.0" y1="610.6" x2="556.1" y2="610.6" stroke="#bdbdbd" stroke-width="1.8"/>
<line x1="547.0" y1="628.0" x2="556.1" y2="628.0" stroke="#bdbdbd" stroke-width="1.8"/>
<line x1="547.0" y1="645.3" x2="556.1" y2="645.3" stroke="#bdbdbd" stroke-width="2.6"/>
<line x1="547.0" y1="662.7" x2="556.1" y2="662.7" stroke="#bdbdbd" stroke-width="1.8"/>
<line x1="547.0" y1="680.0" x2="556.1" y2="680.0" stroke="#bdbdbd" stroke-width="1.8"/>
<line x1="547.0" y1="697.4" x2="556.1" y2="697.4" stroke="#bdbdbd" stroke-width="2.6"/>
<line x1="547.0" y1="714.7" x2="556.1" y2="714.7" stroke="#bdbdbd" stroke-width="1.8"/>
<line x1="547.0" y1="732.1" x2="556.1" y2="732.1" stroke="#bdbdbd" stroke-width="1.8"/>
<line x1="547.0" y1="749.4" x2="556.1" y2="749.4" stroke="#bdbdbd" stroke-width="2.6"/>
<line x1="547.0" y1="766.8" x2="556.1" y2="766.8" stroke="#bdbdbd" stroke-width="1.8"/>
<line x1="547.0" y1="784.1" x2="556.1" y2="784.1" stroke="#bdbdbd" stroke-width="1.8"/>
<line x1="547.0" y1="801.5" x2="556.1" y2="801.5" stroke="#bdbdbd" stroke-width="2.6"/>
<line x1="547.0" y1="818.8" x2="556.1" y2="818.8" stroke="#bdbdbd" stroke-width="1.8"/>
<line x1="547.0" y1="836.2" x2="556.1" y2="836.2" stroke="#bdbdbd" stroke-width="1.8"/>
<line x1="547.0" y1="853.5" x2="556.1" y2="853.5" stroke="#bdbdbd" stroke-width="2.6"/>
<line x1="547.0" y1="870.9" x2="556.1" y2="870.9" stroke="#bdbdbd" stroke-width="1.8"/>
<line x1="547.0" y1="888.2" x2="556.1" y2="888.2" stroke="#bdbdbd" stroke-width="1.8"/>
<line x1="547.0" y1="905.6" x2="556.1" y2="905.6" stroke="#bdbdbd" stroke-width="2.6"/>
<line x1="547.0" y1="922.9" x2="556.1" y2="922.9" stroke="#bdbdbd" stroke-width="1.8"/>
<line x1="547.0" y1="940.3" x2="556.1" y2="940.3" stroke="#bdbdbd" stroke-width="1.8"/>
<line x1="547.0" y1="957.6" x2="556.1" y2="957.6" stroke="#bdbdbd" stroke-width="2.6"/>
<line x1="547.0" y1="975.0" x2="556.1" y2="975.0" stroke="#bdbdbd" stroke-width="1.8"/>
<line x1="547.0" y1="992.3" x2="556.1" y2="992.3" stroke="#bdbdbd" stroke-width="1.8"/>
<line x1="547.0" y1="1009.7" x2="556.1" y2="1009.7" stroke="#bdbdbd" stroke-width="2.6"/>
<line x1="547.0" y1="1027.0" x2="556.1" y2="1027.0" stroke="#bdbdbd" stroke-width="1.8"/>
<line x1="547.0" y1="1044.4" x2="556.1" y2="1044.4" stroke="#bdbdbd" stroke-width="1.8"/>
<line x1="547.0" y1="1061.7" x2="556.1" y2="1061.7" stroke="#bdbdbd" stroke-width="2.6"/>
<line x1="547.0" y1="1079.1" x2="556.1" y2="1079.1" stroke="#bdbdbd" stroke-width="1.8"/>
<line x1="547.0" y1="1096.4" x2="556.1" y2="1096.4" stroke="#bdbdbd" stroke-width="1.8"/>
<line x1="547.0" y1="1113.8" x2="556.1" y2="1113.8" stroke="#bdbdbd" stroke-width="2.6"/>
<line x1="547.0" y1="1131.1" x2="556.1" y2="1131.1" stroke="#bdbdbd" stroke-width="1.8"/>
<line x1="547.0" y1="1148.5" x2="556.1" y2="1148.5" stroke="#bdbdbd" stroke-width="1.8"/>
<line x1="547.0" y1="1165.8" x2="556.1" y2="1165.8" stroke="#bdbdbd" stroke-width="2.6"/>
<line x1="547.0" y1="1183.1" x2="556.1" y2="1183.1" stroke="#bdbdbd" stroke-width="1.8"/>
<line x1="547.0" y1="1200.5" x2="556.1" y2="1200.5" stroke="#bdbdbd" stroke-width="1.8"/>
<line x1="547.0" y1="1215.5" x2="556.1" y2="1215.5" stroke="#bdbdbd" stroke-width="2"/>
<rect x="558.6" y="541.2" width="10.3" height="674.3" fill="#3f3f3f"/>
<rect x="566.3" y="541.2" width="2.6" height="674.3" fill="#8e8e8e"/>
<line x1="568.4" y1="541.2" x2="568.4" y2="1215.5" stroke="#b0b0b0" stroke-width="1"/>
<line x1="559.4" y1="541.2" x2="559.4" y2="1215.5" stroke="#c8c8c8" stroke-width="1.4"/>
<line x1="561.6" y1="541.2" x2="561.6" y2="1215.5" stroke="#4c4c4c" stroke-width="0.7"/>
<line x1="563.8" y1="541.2" x2="563.8" y2="1215.5" stroke="#4c4c4c" stroke-width="0.7"/>
<line x1="566.0" y1="541.2" x2="566.0" y2="1215.5" stroke="#4c4c4c" stroke-width="0.7"/>
<line x1="558.6" y1="541.2" x2="568.9" y2="541.2" stroke="#bdbdbd" stroke-width="2.6"/>
<line x1="558.6" y1="558.6" x2="568.9" y2="558.6" stroke="#bdbdbd" stroke-width="1.8"/>
<line x1="558.6" y1="575.9" x2="568.9" y2="575.9" stroke="#bdbdbd" stroke-width="1.8"/>
<line x1="558.6" y1="593.3" x2="568.9" y2="593.3" stroke="#bdbdbd" stroke-width="2.6"/>
<line x1="558.6" y1="610.6" x2="568.9" y2="610.6" stroke="#bdbdbd" stroke-width="1.8"/>
<line x1="558.6" y1="628.0" x2="568.9" y2="628.0" stroke="#bdbdbd" stroke-width="1.8"/>
<line x1="558.6" y1="645.3" x2="568.9" y2="645.3" stroke="#bdbdbd" stroke-width="2.6"/>
<line x1="558.6" y1="662.7" x2="568.9" y2="662.7" stroke="#bdbdbd" stroke-width="1.8"/>
<line x1="558.6" y1="680.0" x2="568.9" y2="680.0" stroke="#bdbdbd" stroke-width="1.8"/>
<line x1="558.6" y1="697.4" x2="568.9" y2="697.4" stroke="#bdbdbd" stroke-width="2.6"/>
<line x1="558.6" y1="714.7" x2="568.9" y2="714.7" stroke="#bdbdbd" stroke-width="1.8"/>
<line x1="558.6" y1="732.1" x2="568.9" y2="732.1" stroke="#bdbdbd" stroke-width="1.8"/>
<line x1="558.6" y1="749.4" x2="568.9" y2="749.4" stroke="#bdbdbd" stroke-width="2.6"/>
<line x1="558.6" y1="766.8" x2="568.9" y2="766.8" stroke="#bdbdbd" stroke-width="1.8"/>
<line x1="558.6" y1="784.1" x2="568.9" y2="784.1" stroke="#bdbdbd" stroke-width="1.8"/>
<line x1="558.6" y1="801.5" x2="568.9" y2="801.5" stroke="#bdbdbd" stroke-width="2.6"/>
<line x1="558.6" y1="818.8" x2="568.9" y2="818.8" stroke="#bdbdbd" stroke-width="1.8"/>
<line x1="558.6" y1="836.2" x2="568.9" y2="836.2" stroke="#bdbdbd" stroke-width="1.8"/>
<line x1="558.6" y1="853.5" x2="568.9" y2="853.5" stroke="#bdbdbd" stroke-width="2.6"/>
<line x1="558.6" y1="870.9" x2="568.9" y2="870.9" stroke="#bdbdbd" stroke-width="1.8"/>
<line x1="558.6" y1="888.2" x2="568.9" y2="888.2" stroke="#bdbdbd" stroke-width="1.8"/>
<line x1="558.6" y1="905.6" x2="568.9" y2="905.6" stroke="#bdbdbd" stroke-width="2.6"/>
<line x1="558.6" y1="922.9" x2="568.9" y2="922.9" stroke="#bdbdbd" stroke-width="1.8"/>
<line x1="558.6" y1="940.3" x2="568.9" y2="940.3" stroke="#bdbdbd" stroke-width="1.8"/>
<line x1="558.6" y1="957.6" x2="568.9" y2="957.6" stroke="#bdbdbd" stroke-width="2.6"/>
<line x1="558.6" y1="975.0" x2="568.9" y2="975.0" stroke="#bdbdbd" stroke-width="1.8"/>
<line x1="558.6" y1="992.3" x2="568.9" y2="992.3" stroke="#bdbdbd" stroke-width="1.8"/>
<line x1="558.6" y1="1009.7" x2="568.9" y2="1009.7" stroke="#bdbdbd" stroke-width="2.6"/>
<line x1="558.6" y1="1027.0" x2="568.9" y2="1027.0" stroke="#bdbdbd" stroke-width="1.8"/>
<line x1="558.6" y1="1044.4" x2="568.9" y2="1044.4" stroke="#bdbdbd" stroke-width="1.8"/>
<line x1="558.6" y1="1061.7" x2="568.9" y2="1061.7" stroke="#bdbdbd" stroke-width="2.6"/>
<line x1="558.6" y1="1079.1" x2="568.9" y2="1079.1" stroke="#bdbdbd" stroke-width="1.8"/>
<line x1="558.6" y1="1096.4" x2="568.9" y2="1096.4" stroke="#bdbdbd" stroke-width="1.8"/>
<line x1="558.6" y1="1113.8" x2="568.9" y2="1113.8" stroke="#bdbdbd" stroke-width="2.6"/>
<line x1="558.6" y1="1131.1" x2="568.9" y2="1131.1" stroke="#bdbdbd" stroke-width="1.8"/>
<line x1="558.6" y1="1148.5" x2="568.9" y2="1148.5" stroke="#bdbdbd" stroke-width="1.8"/>
<line x1="558.6" y1="1165.8" x2="568.9" y2="1165.8" stroke="#bdbdbd" stroke-width="2.6"/>
<line x1="558.6" y1="1183.1" x2="568.9" y2="1183.1" stroke="#bdbdbd" stroke-width="1.8"/>
<line x1="558.6" y1="1200.5" x2="568.9" y2="1200.5" stroke="#bdbdbd" stroke-width="1.8"/>
<line x1="558.6" y1="1215.5" x2="568.9" y2="1215.5" stroke="#bdbdbd" stroke-width="2"/>
<rect x="570.0" y="541.2" width="8.9" height="674.3" fill="#3f3f3f"/>
<rect x="570.0" y="541.2" width="2.6" height="674.3" fill="#8e8e8e"/>
<line x1="570.5" y1="541.2" x2="570.5" y2="1215.5" stroke="#b0b0b0" stroke-width="1"/>
<line x1="578.1" y1="541.2" x2="578.1" y2="1215.5" stroke="#c8c8c8" stroke-width="1.4"/>
<line x1="574.1" y1="541.2" x2="574.1" y2="1215.5" stroke="#4c4c4c" stroke-width="0.7"/>
<line x1="576.3" y1="541.2" x2="576.3" y2="1215.5" stroke="#4c4c4c" stroke-width="0.7"/>
<line x1="570.0" y1="541.2" x2="578.9" y2="541.2" stroke="#bdbdbd" stroke-width="2.6"/>
<line x1="570.0" y1="558.6" x2="578.9" y2="558.6" stroke="#bdbdbd" stroke-width="1.8"/>
<line x1="570.0" y1="575.9" x2="578.9" y2="575.9" stroke="#bdbdbd" stroke-width="1.8"/>
<line x1="570.0" y1="593.3" x2="578.9" y2="593.3" stroke="#bdbdbd" stroke-width="2.6"/>
<line x1="570.0" y1="610.6" x2="578.9" y2="610.6" stroke="#bdbdbd" stroke-width="1.8"/>
<line x1="570.0" y1="628.0" x2="578.9" y2="628.0" stroke="#bdbdbd" stroke-width="1.8"/>
<line x1="570.0" y1="645.3" x2="578.9" y2="645.3" stroke="#bdbdbd" stroke-width="2.6"/>
<line x1="570.0" y1="662.7" x2="578.9" y2="662.7" stroke="#bdbdbd" stroke-width="1.8"/>
<line x1="570.0" y1="680.0" x2="578.9" y2="680.0" stroke="#bdbdbd" stroke-width="1.8"/>
<line x1="570.0" y1="697.4" x2="578.9" y2="697.4" stroke="#bdbdbd" stroke-width="2.6"/>
<line x1="570.0" y1="714.7" x2="578.9" y2="714.7" stroke="#bdbdbd" stroke-width="1.8"/>
<line x1="570.0" y1="732.1" x2="578.9" y2="732.1" stroke="#bdbdbd" stroke-width="1.8"/>
<line x1="570.0" y1="749.4" x2="578.9" y2="749.4" stroke="#bdbdbd" stroke-width="2.6"/>
<line x1="570.0" y1="766.8" x2="578.9" y2="766.8" stroke="#bdbdbd" stroke-width="1.8"/>
<line x1="570.0" y1="784.1" x2="578.9" y2="784.1" stroke="#bdbdbd" stroke-width="1.8"/>
<line x1="570.0" y1="801.5" x2="578.9" y2="801.5" stroke="#bdbdbd" stroke-width="2.6"/>
<line x1="570.0" y1="818.8" x2="578.9" y2="818.8" stroke="#bdbdbd" stroke-width="1.8"/>
<line x1="570.0" y1="836.2" x2="578.9" y2="836.2" stroke="#bdbdbd" stroke-width="1.8"/>
<line x1="570.0" y1="853.5" x2="578.9" y2="853.5" stroke="#bdbdbd" stroke-width="2.6"/>
<line x1="570.0" y1="870.9" x2="578.9" y2="870.9" stroke="#bdbdbd" stroke-width="1.8"/>
<line x1="570.0" y1="888.2" x2="578.9" y2="888.2" stroke="#bdbdbd" stroke-width="1.8"/>
<line x1="570.0" y1="905.6" x2="578.9" y2="905.6" stroke="#bdbdbd" stroke-width="2.6"/>
<line x1="570.0" y1="922.9" x2="578.9" y2="922.9" stroke="#bdbdbd" stroke-width="1.8"/>
<line x1="570.0" y1="940.3" x2="578.9" y2="940.3" stroke="#bdbdbd" stroke-width="1.8"/>
<line x1="570.0" y1="957.6" x2="578.9" y2="957.6" stroke="#bdbdbd" stroke-width="2.6"/>
<line x1="570.0" y1="975.0" x2="578.9" y2="975.0" stroke="#bdbdbd" stroke-width="1.8"/>
<line x1="570.0" y1="992.3" x2="578.9" y2="992.3" stroke="#bdbdbd" stroke-width="1.8"/>
<line x1="570.0" y1="1009.7" x2="578.9" y2="1009.7" stroke="#bdbdbd" stroke-width="2.6"/>
<line x1="570.0" y1="1027.0" x2="578.9" y2="1027.0" stroke="#bdbdbd" stroke-width="1.8"/>
<line x1="570.0" y1="1044.4" x2="578.9" y2="1044.4" stroke="#bdbdbd" stroke-width="1.8"/>
<line x1="570.0" y1="1061.7" x2="578.9" y2="1061.7" stroke="#bdbdbd" stroke-width="2.6"/>
<line x1="570.0" y1="1079.1" x2="578.9" y2="1079.1" stroke="#bdbdbd" stroke-width="1.8"/>
<line x1="570.0" y1="1096.4" x2="578.9" y2="1096.4" stroke="#bdbdbd" stroke-width="1.8"/>
<line x1="570.0" y1="1113.8" x2="578.9" y2="1113.8" stroke="#bdbdbd" stroke-width="2.6"/>
<line x1="570.0" y1="1131.1" x2="578.9" y2="1131.1" stroke="#bdbdbd" stroke-width="1.8"/>
<line x1="570.0" y1="1148.5" x2="578.9" y2="1148.5" stroke="#bdbdbd" stroke-width="1.8"/>
<line x1="570.0" y1="1165.8" x2="578.9" y2="1165.8" stroke="#bdbdbd" stroke-width="2.6"/>
<line x1="570.0" y1="1183.1" x2="578.9" y2="1183.1" stroke="#bdbdbd" stroke-width="1.8"/>
<line x1="570.0" y1="1200.5" x2="578.9" y2="1200.5" stroke="#bdbdbd" stroke-width="1.8"/>
<line x1="570.0" y1="1215.5" x2="578.9" y2="1215.5" stroke="#bdbdbd" stroke-width="2"/>
<rect x="593.0" y="541.2" width="9.3" height="674.3" fill="#3f3f3f"/>
<rect x="593.0" y="541.2" width="2.6" height="674.3" fill="#8e8e8e"/>
<line x1="593.5" y1="541.2" x2="593.5" y2="1215.5" stroke="#b0b0b0" stroke-width="1"/>
<line x1="601.5" y1="541.2" x2="601.5" y2="1215.5" stroke="#c8c8c8" stroke-width="1.4"/>
<line x1="597.1" y1="541.2" x2="597.1" y2="1215.5" stroke="#4c4c4c" stroke-width="0.7"/>
<line x1="599.3" y1="541.2" x2="599.3" y2="1215.5" stroke="#4c4c4c" stroke-width="0.7"/>
<line x1="593.0" y1="541.2" x2="602.3" y2="541.2" stroke="#bdbdbd" stroke-width="2.6"/>
<line x1="593.0" y1="558.6" x2="602.3" y2="558.6" stroke="#bdbdbd" stroke-width="1.8"/>
<line x1="593.0" y1="575.9" x2="602.3" y2="575.9" stroke="#bdbdbd" stroke-width="1.8"/>
<line x1="593.0" y1="593.3" x2="602.3" y2="593.3" stroke="#bdbdbd" stroke-width="2.6"/>
<line x1="593.0" y1="610.6" x2="602.3" y2="610.6" stroke="#bdbdbd" stroke-width="1.8"/>
<line x1="593.0" y1="628.0" x2="602.3" y2="628.0" stroke="#bdbdbd" stroke-width="1.8"/>
<line x1="593.0" y1="645.3" x2="602.3" y2="645.3" stroke="#bdbdbd" stroke-width="2.6"/>
<line x1="593.0" y1="662.7" x2="602.3" y2="662.7" stroke="#bdbdbd" stroke-width="1.8"/>
<line x1="593.0" y1="680.0" x2="602.3" y2="680.0" stroke="#bdbdbd" stroke-width="1.8"/>
<line x1="593.0" y1="697.4" x2="602.3" y2="697.4" stroke="#bdbdbd" stroke-width="2.6"/>
<line x1="593.0" y1="714.7" x2="602.3" y2="714.7" stroke="#bdbdbd" stroke-width="1.8"/>
<line x1="593.0" y1="732.1" x2="602.3" y2="732.1" stroke="#bdbdbd" stroke-width="1.8"/>
<line x1="593.0" y1="749.4" x2="602.3" y2="749.4" stroke="#bdbdbd" stroke-width="2.6"/>
<line x1="593.0" y1="766.8" x2="602.3" y2="766.8" stroke="#bdbdbd" stroke-width="1.8"/>
<line x1="593.0" y1="784.1" x2="602.3" y2="784.1" stroke="#bdbdbd" stroke-width="1.8"/>
<line x1="593.0" y1="801.5" x2="602.3" y2="801.5" stroke="#bdbdbd" stroke-width="2.6"/>
<line x1="593.0" y1="818.8" x2="602.3" y2="818.8" stroke="#bdbdbd" stroke-width="1.8"/>
<line x1="593.0" y1="836.2" x2="602.3" y2="836.2" stroke="#bdbdbd" stroke-width="1.8"/>
<line x1="593.0" y1="853.5" x2="602.3" y2="853.5" stroke="#bdbdbd" stroke-width="2.6"/>
<line x1="593.0" y1="870.9" x2="602.3" y2="870.9" stroke="#bdbdbd" stroke-width="1.8"/>
<line x1="593.0" y1="888.2" x2="602.3" y2="888.2" stroke="#bdbdbd" stroke-width="1.8"/>
<line x1="593.0" y1="905.6" x2="602.3" y2="905.6" stroke="#bdbdbd" stroke-width="2.6"/>
<line x1="593.0" y1="922.9" x2="602.3" y2="922.9" stroke="#bdbdbd" stroke-width="1.8"/>
<line x1="593.0" y1="940.3" x2="602.3" y2="940.3" stroke="#bdbdbd" stroke-width="1.8"/>
<line x1="593.0" y1="957.6" x2="602.3" y2="957.6" stroke="#bdbdbd" stroke-width="2.6"/>
<line x1="593.0" y1="975.0" x2="602.3" y2="975.0" stroke="#bdbdbd" stroke-width="1.8"/>
<line x1="593.0" y1="992.3" x2="602.3" y2="992.3" stroke="#bdbdbd" stroke-width="1.8"/>
<line x1="593.0" y1="1009.7" x2="602.3" y2="1009.7" stroke="#bdbdbd" stroke-width="2.6"/>
<line x1="593.0" y1="1027.0" x2="602.3" y2="1027.0" stroke="#bdbdbd" stroke-width="1.8"/>
<line x1="593.0" y1="1044.4" x2="602.3" y2="1044.4" stroke="#bdbdbd" stroke-width="1.8"/>
<line x1="593.0" y1="1061.7" x2="602.3" y2="1061.7" stroke="#bdbdbd" stroke-width="2.6"/>
<line x1="593.0" y1="1079.1" x2="602.3" y2="1079.1" stroke="#bdbdbd" stroke-width="1.8"/>
<line x1="593.0" y1="1096.4" x2="602.3" y2="1096.4" stroke="#bdbdbd" stroke-width="1.8"/>
<line x1="593.0" y1="1113.8" x2="602.3" y2="1113.8" stroke="#bdbdbd" stroke-width="2.6"/>
<line x1="593.0" y1="1131.1" x2="602.3" y2="1131.1" stroke="#bdbdbd" stroke-width="1.8"/>
<line x1="593.0" y1="1148.5" x2="602.3" y2="1148.5" stroke="#bdbdbd" stroke-width="1.8"/>
<line x1="593.0" y1="1165.8" x2="602.3" y2="1165.8" stroke="#bdbdbd" stroke-width="2.6"/>
<line x1="593.0" y1="1183.1" x2="602.3" y2="1183.1" stroke="#bdbdbd" stroke-width="1.8"/>
<line x1="593.0" y1="1200.5" x2="602.3" y2="1200.5" stroke="#bdbdbd" stroke-width="1.8"/>
<line x1="593.0" y1="1215.5" x2="602.3" y2="1215.5" stroke="#bdbdbd" stroke-width="2"/>
<rect x="604.3" y="541.2" width="9.7" height="674.3" fill="#3f3f3f"/>
<rect x="611.4" y="541.2" width="2.6" height="674.3" fill="#8e8e8e"/>
<line x1="613.5" y1="541.2" x2="613.5" y2="1215.5" stroke="#b0b0b0" stroke-width="1"/>
<line x1="605.1" y1="541.2" x2="605.1" y2="1215.5" stroke="#c8c8c8" stroke-width="1.4"/>
<line x1="607.3" y1="541.2" x2="607.3" y2="1215.5" stroke="#4c4c4c" stroke-width="0.7"/>
<line x1="609.5" y1="541.2" x2="609.5" y2="1215.5" stroke="#4c4c4c" stroke-width="0.7"/>
<line x1="604.3" y1="541.2" x2="614.0" y2="541.2" stroke="#bdbdbd" stroke-width="2.6"/>
<line x1="604.3" y1="558.6" x2="614.0" y2="558.6" stroke="#bdbdbd" stroke-width="1.8"/>
<line x1="604.3" y1="575.9" x2="614.0" y2="575.9" stroke="#bdbdbd" stroke-width="1.8"/>
<line x1="604.3" y1="593.3" x2="614.0" y2="593.3" stroke="#bdbdbd" stroke-width="2.6"/>
<line x1="604.3" y1="610.6" x2="614.0" y2="610.6" stroke="#bdbdbd" stroke-width="1.8"/>
<line x1="604.3" y1="628.0" x2="614.0" y2="628.0" stroke="#bdbdbd" stroke-width="1.8"/>
<line x1="604.3" y1="645.3" x2="614.0" y2="645.3" stroke="#bdbdbd" stroke-width="2.6"/>
<line x1="604.3" y1="662.7" x2="614.0" y2="662.7" stroke="#bdbdbd" stroke-width="1.8"/>
<line x1="604.3" y1="680.0" x2="614.0" y2="680.0" stroke="#bdbdbd" stroke-width="1.8"/>
<line x1="604.3" y1="697.4" x2="614.0" y2="697.4" stroke="#bdbdbd" stroke-width="2.6"/>
<line x1="604.3" y1="714.7" x2="614.0" y2="714.7" stroke="#bdbdbd" stroke-width="1.8"/>
<line x1="604.3" y1="732.1" x2="614.0" y2="732.1" stroke="#bdbdbd" stroke-width="1.8"/>
<line x1="604.3" y1="749.4" x2="614.0" y2="749.4" stroke="#bdbdbd" stroke-width="2.6"/>
<line x1="604.3" y1="766.8" x2="614.0" y2="766.8" stroke="#bdbdbd" stroke-width="1.8"/>
<line x1="604.3" y1="784.1" x2="614.0" y2="784.1" stroke="#bdbdbd" stroke-width="1.8"/>
<line x1="604.3" y1="801.5" x2="614.0" y2="801.5" stroke="#bdbdbd" stroke-width="2.6"/>
<line x1="604.3" y1="818.8" x2="614.0" y2="818.8" stroke="#bdbdbd" stroke-width="1.8"/>
<line x1="604.3" y1="836.2" x2="614.0" y2="836.2" stroke="#bdbdbd" stroke-width="1.8"/>
<line x1="604.3" y1="853.5" x2="614.0" y2="853.5" stroke="#bdbdbd" stroke-width="2.6"/>
<line x1="604.3" y1="870.9" x2="614.0" y2="870.9" stroke="#bdbdbd" stroke-width="1.8"/>
<line x1="604.3" y1="888.2" x2="614.0" y2="888.2" stroke="#bdbdbd" stroke-width="1.8"/>
<line x1="604.3" y1="905.6" x2="614.0" y2="905.6" stroke="#bdbdbd" stroke-width="2.6"/>
<line x1="604.3" y1="922.9" x2="614.0" y2="922.9" stroke="#bdbdbd" stroke-width="1.8"/>
<line x1="604.3" y1="940.3" x2="614.0" y2="940.3" stroke="#bdbdbd" stroke-width="1.8"/>
<line x1="604.3" y1="957.6" x2="614.0" y2="957.6" stroke="#bdbdbd" stroke-width="2.6"/>
<line x1="604.3" y1="975.0" x2="614.0" y2="975.0" stroke="#bdbdbd" stroke-width="1.8"/>
<line x1="604.3" y1="992.3" x2="614.0" y2="992.3" stroke="#bdbdbd" stroke-width="1.8"/>
<line x1="604.3" y1="1009.7" x2="614.0" y2="1009.7" stroke="#bdbdbd" stroke-width="2.6"/>
<line x1="604.3" y1="1027.0" x2="614.0" y2="1027.0" stroke="#bdbdbd" stroke-width="1.8"/>
<line x1="604.3" y1="1044.4" x2="614.0" y2="1044.4" stroke="#bdbdbd" stroke-width="1.8"/>
<line x1="604.3" y1="1061.7" x2="614.0" y2="1061.7" stroke="#bdbdbd" stroke-width="2.6"/>
<line x1="604.3" y1="1079.1" x2="614.0" y2="1079.1" stroke="#bdbdbd" stroke-width="1.8"/>
<line x1="604.3" y1="1096.4" x2="614.0" y2="1096.4" stroke="#bdbdbd" stroke-width="1.8"/>
<line x1="604.3" y1="1113.8" x2="614.0" y2="1113.8" stroke="#bdbdbd" stroke-width="2.6"/>
<line x1="604.3" y1="1131.1" x2="614.0" y2="1131.1" stroke="#bdbdbd" stroke-width="1.8"/>
<line x1="604.3" y1="1148.5" x2="614.0" y2="1148.5" stroke="#bdbdbd" stroke-width="1.8"/>
<line x1="604.3" y1="1165.8" x2="614.0" y2="1165.8" stroke="#bdbdbd" stroke-width="2.6"/>
<line x1="604.3" y1="1183.1" x2="614.0" y2="1183.1" stroke="#bdbdbd" stroke-width="1.8"/>
<line x1="604.3" y1="1200.5" x2="614.0" y2="1200.5" stroke="#bdbdbd" stroke-width="1.8"/>
<line x1="604.3" y1="1215.5" x2="614.0" y2="1215.5" stroke="#bdbdbd" stroke-width="2"/>
<rect x="633.4" y="541.2" width="9.4" height="674.3" fill="#3f3f3f"/>
<rect x="633.4" y="541.2" width="2.6" height="674.3" fill="#8e8e8e"/>
<line x1="633.9" y1="541.2" x2="633.9" y2="1215.5" stroke="#b0b0b0" stroke-width="1"/>
<line x1="642.0" y1="541.2" x2="642.0" y2="1215.5" stroke="#c8c8c8" stroke-width="1.4"/>
<line x1="637.5" y1="541.2" x2="637.5" y2="1215.5" stroke="#4c4c4c" stroke-width="0.7"/>
<line x1="639.7" y1="541.2" x2="639.7" y2="1215.5" stroke="#4c4c4c" stroke-width="0.7"/>
<line x1="633.4" y1="541.2" x2="642.8" y2="541.2" stroke="#bdbdbd" stroke-width="2.6"/>
<line x1="633.4" y1="558.6" x2="642.8" y2="558.6" stroke="#bdbdbd" stroke-width="1.8"/>
<line x1="633.4" y1="575.9" x2="642.8" y2="575.9" stroke="#bdbdbd" stroke-width="1.8"/>
<line x1="633.4" y1="593.3" x2="642.8" y2="593.3" stroke="#bdbdbd" stroke-width="2.6"/>
<line x1="633.4" y1="610.6" x2="642.8" y2="610.6" stroke="#bdbdbd" stroke-width="1.8"/>
<line x1="633.4" y1="628.0" x2="642.8" y2="628.0" stroke="#bdbdbd" stroke-width="1.8"/>
<line x1="633.4" y1="645.3" x2="642.8" y2="645.3" stroke="#bdbdbd" stroke-width="2.6"/>
<line x1="633.4" y1="662.7" x2="642.8" y2="662.7" stroke="#bdbdbd" stroke-width="1.8"/>
<line x1="633.4" y1="680.0" x2="642.8" y2="680.0" stroke="#bdbdbd" stroke-width="1.8"/>
<line x1="633.4" y1="697.4" x2="642.8" y2="697.4" stroke="#bdbdbd" stroke-width="2.6"/>
<line x1="633.4" y1="714.7" x2="642.8" y2="714.7" stroke="#bdbdbd" stroke-width="1.8"/>
<line x1="633.4" y1="732.1" x2="642.8" y2="732.1" stroke="#bdbdbd" stroke-width="1.8"/>
<line x1="633.4" y1="749.4" x2="642.8" y2="749.4" stroke="#bdbdbd" stroke-width="2.6"/>
<line x1="633.4" y1="766.8" x2="642.8" y2="766.8" stroke="#bdbdbd" stroke-width="1.8"/>
<line x1="633.4" y1="784.1" x2="642.8" y2="784.1" stroke="#bdbdbd" stroke-width="1.8"/>
<line x1="633.4" y1="801.5" x2="642.8" y2="801.5" stroke="#bdbdbd" stroke-width="2.6"/>
<line x1="633.4" y1="818.8" x2="642.8" y2="818.8" stroke="#bdbdbd" stroke-width="1.8"/>
<line x1="633.4" y1="836.2" x2="642.8" y2="836.2" stroke="#bdbdbd" stroke-width="1.8"/>
<line x1="633.4" y1="853.5" x2="642.8" y2="853.5" stroke="#bdbdbd" stroke-width="2.6"/>
<line x1="633.4" y1="870.9" x2="642.8" y2="870.9" stroke="#bdbdbd" stroke-width="1.8"/>
<line x1="633.4" y1="888.2" x2="642.8" y2="888.2" stroke="#bdbdbd" stroke-width="1.8"/>
<line x1="633.4" y1="905.6" x2="642.8" y2="905.6" stroke="#bdbdbd" stroke-width="2.6"/>
<line x1="633.4" y1="922.9" x2="642.8" y2="922.9" stroke="#bdbdbd" stroke-width="1.8"/>
<line x1="633.4" y1="940.3" x2="642.8" y2="940.3" stroke="#bdbdbd" stroke-width="1.8"/>
<line x1="633.4" y1="957.6" x2="642.8" y2="957.6" stroke="#bdbdbd" stroke-width="2.6"/>
<line x1="633.4" y1="975.0" x2="642.8" y2="975.0" stroke="#bdbdbd" stroke-width="1.8"/>
<line x1="633.4" y1="992.3" x2="642.8" y2="992.3" stroke="#bdbdbd" stroke-width="1.8"/>
<line x1="633.4" y1="1009.7" x2="642.8" y2="1009.7" stroke="#bdbdbd" stroke-width="2.6"/>
<line x1="633.4" y1="1027.0" x2="642.8" y2="1027.0" stroke="#bdbdbd" stroke-width="1.8"/>
<line x1="633.4" y1="1044.4" x2="642.8" y2="1044.4" stroke="#bdbdbd" stroke-width="1.8"/>
<line x1="633.4" y1="1061.7" x2="642.8" y2="1061.7" stroke="#bdbdbd" stroke-width="2.6"/>
<line x1="633.4" y1="1079.1" x2="642.8" y2="1079.1" stroke="#bdbdbd" stroke-width="1.8"/>
<line x1="633.4" y1="1096.4" x2="642.8" y2="1096.4" stroke="#bdbdbd" stroke-width="1.8"/>
<line x1="633.4" y1="1113.8" x2="642.8" y2="1113.8" stroke="#bdbdbd" stroke-width="2.6"/>
<line x1="633.4" y1="1131.1" x2="642.8" y2="1131.1" stroke="#bdbdbd" stroke-width="1.8"/>
<line x1="633.4" y1="1148.5" x2="642.8" y2="1148.5" stroke="#bdbdbd" stroke-width="1.8"/>
<line x1="633.4" y1="1165.8" x2="642.8" y2="1165.8" stroke="#bdbdbd" stroke-width="2.6"/>
<line x1="633.4" y1="1183.1" x2="642.8" y2="1183.1" stroke="#bdbdbd" stroke-width="1.8"/>
<line x1="633.4" y1="1200.5" x2="642.8" y2="1200.5" stroke="#bdbdbd" stroke-width="1.8"/>
<line x1="633.4" y1="1215.5" x2="642.8" y2="1215.5" stroke="#bdbdbd" stroke-width="2"/>
<rect x="644.6" y="541.2" width="9.2" height="674.3" fill="#3f3f3f"/>
<rect x="651.2" y="541.2" width="2.6" height="674.3" fill="#8e8e8e"/>
<line x1="653.3" y1="541.2" x2="653.3" y2="1215.5" stroke="#b0b0b0" stroke-width="1"/>
<line x1="645.4" y1="541.2" x2="645.4" y2="1215.5" stroke="#c8c8c8" stroke-width="1.4"/>
<line x1="647.6" y1="541.2" x2="647.6" y2="1215.5" stroke="#4c4c4c" stroke-width="0.7"/>
<line x1="649.8" y1="541.2" x2="649.8" y2="1215.5" stroke="#4c4c4c" stroke-width="0.7"/>
<line x1="644.6" y1="541.2" x2="653.8" y2="541.2" stroke="#bdbdbd" stroke-width="2.6"/>
<line x1="644.6" y1="558.6" x2="653.8" y2="558.6" stroke="#bdbdbd" stroke-width="1.8"/>
<line x1="644.6" y1="575.9" x2="653.8" y2="575.9" stroke="#bdbdbd" stroke-width="1.8"/>
<line x1="644.6" y1="593.3" x2="653.8" y2="593.3" stroke="#bdbdbd" stroke-width="2.6"/>
<line x1="644.6" y1="610.6" x2="653.8" y2="610.6" stroke="#bdbdbd" stroke-width="1.8"/>
<line x1="644.6" y1="628.0" x2="653.8" y2="628.0" stroke="#bdbdbd" stroke-width="1.8"/>
<line x1="644.6" y1="645.3" x2="653.8" y2="645.3" stroke="#bdbdbd" stroke-width="2.6"/>
<line x1="644.6" y1="662.7" x2="653.8" y2="662.7" stroke="#bdbdbd" stroke-width="1.8"/>
<line x1="644.6" y1="680.0" x2="653.8" y2="680.0" stroke="#bdbdbd" stroke-width="1.8"/>
<line x1="644.6" y1="697.4" x2="653.8" y2="697.4" stroke="#bdbdbd" stroke-width="2.6"/>
<line x1="644.6" y1="714.7" x2="653.8" y2="714.7" stroke="#bdbdbd" stroke-width="1.8"/>
<line x1="644.6" y1="732.1" x2="653.8" y2="732.1" stroke="#bdbdbd" stroke-width="1.8"/>
<line x1="644.6" y1="749.4" x2="653.8" y2="749.4" stroke="#bdbdbd" stroke-width="2.6"/>
<line x1="644.6" y1="766.8" x2="653.8" y2="766.8" stroke="#bdbdbd" stroke-width="1.8"/>
<line x1="644.6" y1="784.1" x2="653.8" y2="784.1" stroke="#bdbdbd" stroke-width="1.8"/>
<line x1="644.6" y1="801.5" x2="653.8" y2="801.5" stroke="#bdbdbd" stroke-width="2.6"/>
<line x1="644.6" y1="818.8" x2="653.8" y2="818.8" stroke="#bdbdbd" stroke-width="1.8"/>
<line x1="644.6" y1="836.2" x2="653.8" y2="836.2" stroke="#bdbdbd" stroke-width="1.8"/>
<line x1="644.6" y1="853.5" x2="653.8" y2="853.5" stroke="#bdbdbd" stroke-width="2.6"/>
<line x1="644.6" y1="870.9" x2="653.8" y2="870.9" stroke="#bdbdbd" stroke-width="1.8"/>
<line x1="644.6" y1="888.2" x2="653.8" y2="888.2" stroke="#bdbdbd" stroke-width="1.8"/>
<line x1="644.6" y1="905.6" x2="653.8" y2="905.6" stroke="#bdbdbd" stroke-width="2.6"/>
<line x1="644.6" y1="922.9" x2="653.8" y2="922.9" stroke="#bdbdbd" stroke-width="1.8"/>
<line x1="644.6" y1="940.3" x2="653.8" y2="940.3" stroke="#bdbdbd" stroke-width="1.8"/>
<line x1="644.6" y1="957.6" x2="653.8" y2="957.6" stroke="#bdbdbd" stroke-width="2.6"/>
<line x1="644.6" y1="975.0" x2="653.8" y2="975.0" stroke="#bdbdbd" stroke-width="1.8"/>
<line x1="644.6" y1="992.3" x2="653.8" y2="992.3" stroke="#bdbdbd" stroke-width="1.8"/>
<line x1="644.6" y1="1009.7" x2="653.8" y2="1009.7" stroke="#bdbdbd" stroke-width="2.6"/>
<line x1="644.6" y1="1027.0" x2="653.8" y2="1027.0" stroke="#bdbdbd" stroke-width="1.8"/>
<line x1="644.6" y1="1044.4" x2="653.8" y2="1044.4" stroke="#bdbdbd" stroke-width="1.8"/>
<line x1="644.6" y1="1061.7" x2="653.8" y2="1061.7" stroke="#bdbdbd" stroke-width="2.6"/>
<line x1="644.6" y1="1079.1" x2="653.8" y2="1079.1" stroke="#bdbdbd" stroke-width="1.8"/>
<line x1="644.6" y1="1096.4" x2="653.8" y2="1096.4" stroke="#bdbdbd" stroke-width="1.8"/>
<line x1="644.6" y1="1113.8" x2="653.8" y2="1113.8" stroke="#bdbdbd" stroke-width="2.6"/>
<line x1="644.6" y1="1131.1" x2="653.8" y2="1131.1" stroke="#bdbdbd" stroke-width="1.8"/>
<line x1="644.6" y1="1148.5" x2="653.8" y2="1148.5" stroke="#bdbdbd" stroke-width="1.8"/>
<line x1="644.6" y1="1165.8" x2="653.8" y2="1165.8" stroke="#bdbdbd" stroke-width="2.6"/>
<line x1="644.6" y1="1183.1" x2="653.8" y2="1183.1" stroke="#bdbdbd" stroke-width="1.8"/>
<line x1="644.6" y1="1200.5" x2="653.8" y2="1200.5" stroke="#bdbdbd" stroke-width="1.8"/>
<line x1="644.6" y1="1215.5" x2="653.8" y2="1215.5" stroke="#bdbdbd" stroke-width="2"/>
<rect x="667.0" y="541.2" width="10.0" height="674.3" fill="#3f3f3f"/>
<rect x="667.0" y="541.2" width="2.6" height="674.3" fill="#8e8e8e"/>
<line x1="667.5" y1="541.2" x2="667.5" y2="1215.5" stroke="#b0b0b0" stroke-width="1"/>
<line x1="676.2" y1="541.2" x2="676.2" y2="1215.5" stroke="#c8c8c8" stroke-width="1.4"/>
<line x1="671.1" y1="541.2" x2="671.1" y2="1215.5" stroke="#4c4c4c" stroke-width="0.7"/>
<line x1="673.3" y1="541.2" x2="673.3" y2="1215.5" stroke="#4c4c4c" stroke-width="0.7"/>
<line x1="667.0" y1="541.2" x2="677.0" y2="541.2" stroke="#bdbdbd" stroke-width="2.6"/>
<line x1="667.0" y1="558.6" x2="677.0" y2="558.6" stroke="#bdbdbd" stroke-width="1.8"/>
<line x1="667.0" y1="575.9" x2="677.0" y2="575.9" stroke="#bdbdbd" stroke-width="1.8"/>
<line x1="667.0" y1="593.3" x2="677.0" y2="593.3" stroke="#bdbdbd" stroke-width="2.6"/>
<line x1="667.0" y1="610.6" x2="677.0" y2="610.6" stroke="#bdbdbd" stroke-width="1.8"/>
<line x1="667.0" y1="628.0" x2="677.0" y2="628.0" stroke="#bdbdbd" stroke-width="1.8"/>
<line x1="667.0" y1="645.3" x2="677.0" y2="645.3" stroke="#bdbdbd" stroke-width="2.6"/>
<line x1="667.0" y1="662.7" x2="677.0" y2="662.7" stroke="#bdbdbd" stroke-width="1.8"/>
<line x1="667.0" y1="680.0" x2="677.0" y2="680.0" stroke="#bdbdbd" stroke-width="1.8"/>
<line x1="667.0" y1="697.4" x2="677.0" y2="697.4" stroke="#bdbdbd" stroke-width="2.6"/>
<line x1="667.0" y1="714.7" x2="677.0" y2="714.7" stroke="#bdbdbd" stroke-width="1.8"/>
<line x1="667.0" y1="732.1" x2="677.0" y2="732.1" stroke="#bdbdbd" stroke-width="1.8"/>
<line x1="667.0" y1="749.4" x2="677.0" y2="749.4" stroke="#bdbdbd" stroke-width="2.6"/>
<line x1="667.0" y1="766.8" x2="677.0" y2="766.8" stroke="#bdbdbd" stroke-width="1.8"/>
<line x1="667.0" y1="784.1" x2="677.0" y2="784.1" stroke="#bdbdbd" stroke-width="1.8"/>
<line x1="667.0" y1="801.5" x2="677.0" y2="801.5" stroke="#bdbdbd" stroke-width="2.6"/>
<line x1="667.0" y1="818.8" x2="677.0" y2="818.8" stroke="#bdbdbd" stroke-width="1.8"/>
<line x1="667.0" y1="836.2" x2="677.0" y2="836.2" stroke="#bdbdbd" stroke-width="1.8"/>
<line x1="667.0" y1="853.5" x2="677.0" y2="853.5" stroke="#bdbdbd" stroke-width="2.6"/>
<line x1="667.0" y1="870.9" x2="677.0" y2="870.9" stroke="#bdbdbd" stroke-width="1.8"/>
<line x1="667.0" y1="888.2" x2="677.0" y2="888.2" stroke="#bdbdbd" stroke-width="1.8"/>
<line x1="667.0" y1="905.6" x2="677.0" y2="905.6" stroke="#bdbdbd" stroke-width="2.6"/>
<line x1="667.0" y1="922.9" x2="677.0" y2="922.9" stroke="#bdbdbd" stroke-width="1.8"/>
<line x1="667.0" y1="940.3" x2="677.0" y2="940.3" stroke="#bdbdbd" stroke-width="1.8"/>
<line x1="667.0" y1="957.6" x2="677.0" y2="957.6" stroke="#bdbdbd" stroke-width="2.6"/>
<line x1="667.0" y1="975.0" x2="677.0" y2="975.0" stroke="#bdbdbd" stroke-width="1.8"/>
<line x1="667.0" y1="992.3" x2="677.0" y2="992.3" stroke="#bdbdbd" stroke-width="1.8"/>
<line x1="667.0" y1="1009.7" x2="677.0" y2="1009.7" stroke="#bdbdbd" stroke-width="2.6"/>
<line x1="667.0" y1="1027.0" x2="677.0" y2="1027.0" stroke="#bdbdbd" stroke-width="1.8"/>
<line x1="667.0" y1="1044.4" x2="677.0" y2="1044.4" stroke="#bdbdbd" stroke-width="1.8"/>
<line x1="667.0" y1="1061.7" x2="677.0" y2="1061.7" stroke="#bdbdbd" stroke-width="2.6"/>
<line x1="667.0" y1="1079.1" x2="677.0" y2="1079.1" stroke="#bdbdbd" stroke-width="1.8"/>
<line x1="667.0" y1="1096.4" x2="677.0" y2="1096.4" stroke="#bdbdbd" stroke-width="1.8"/>
<line x1="667.0" y1="1113.8" x2="677.0" y2="1113.8" stroke="#bdbdbd" stroke-width="2.6"/>
<line x1="667.0" y1="1131.1" x2="677.0" y2="1131.1" stroke="#bdbdbd" stroke-width="1.8"/>
<line x1="667.0" y1="1148.5" x2="677.0" y2="1148.5" stroke="#bdbdbd" stroke-width="1.8"/>
<line x1="667.0" y1="1165.8" x2="677.0" y2="1165.8" stroke="#bdbdbd" stroke-width="2.6"/>
<line x1="667.0" y1="1183.1" x2="677.0" y2="1183.1" stroke="#bdbdbd" stroke-width="1.8"/>
<line x1="667.0" y1="1200.5" x2="677.0" y2="1200.5" stroke="#bdbdbd" stroke-width="1.8"/>
<line x1="667.0" y1="1215.5" x2="677.0" y2="1215.5" stroke="#bdbdbd" stroke-width="2"/>
<rect x="679.3" y="541.2" width="9.5" height="674.3" fill="#3f3f3f"/>
<rect x="686.2" y="541.2" width="2.6" height="674.3" fill="#8e8e8e"/>
<line x1="688.3" y1="541.2" x2="688.3" y2="1215.5" stroke="#b0b0b0" stroke-width="1"/>
<line x1="680.1" y1="541.2" x2="680.1" y2="1215.5" stroke="#c8c8c8" stroke-width="1.4"/>
<line x1="682.3" y1="541.2" x2="682.3" y2="1215.5" stroke="#4c4c4c" stroke-width="0.7"/>
<line x1="684.5" y1="541.2" x2="684.5" y2="1215.5" stroke="#4c4c4c" stroke-width="0.7"/>
<line x1="679.3" y1="541.2" x2="688.8" y2="541.2" stroke="#bdbdbd" stroke-width="2.6"/>
<line x1="679.3" y1="558.6" x2="688.8" y2="558.6" stroke="#bdbdbd" stroke-width="1.8"/>
<line x1="679.3" y1="575.9" x2="688.8" y2="575.9" stroke="#bdbdbd" stroke-width="1.8"/>
<line x1="679.3" y1="593.3" x2="688.8" y2="593.3" stroke="#bdbdbd" stroke-width="2.6"/>
<line x1="679.3" y1="610.6" x2="688.8" y2="610.6" stroke="#bdbdbd" stroke-width="1.8"/>
<line x1="679.3" y1="628.0" x2="688.8" y2="628.0" stroke="#bdbdbd" stroke-width="1.8"/>
<line x1="679.3" y1="645.3" x2="688.8" y2="645.3" stroke="#bdbdbd" stroke-width="2.6"/>
<line x1="679.3" y1="662.7" x2="688.8" y2="662.7" stroke="#bdbdbd" stroke-width="1.8"/>
<line x1="679.3" y1="680.0" x2="688.8" y2="680.0" stroke="#bdbdbd" stroke-width="1.8"/>
<line x1="679.3" y1="697.4" x2="688.8" y2="697.4" stroke="#bdbdbd" stroke-width="2.6"/>
<line x1="679.3" y1="714.7" x2="688.8" y2="714.7" stroke="#bdbdbd" stroke-width="1.8"/>
<line x1="679.3" y1="732.1" x2="688.8" y2="732.1" stroke="#bdbdbd" stroke-width="1.8"/>
<line x1="679.3" y1="749.4" x2="688.8" y2="749.4" stroke="#bdbdbd" stroke-width="2.6"/>
<line x1="679.3" y1="766.8" x2="688.8" y2="766.8" stroke="#bdbdbd" stroke-width="1.8"/>
<line x1="679.3" y1="784.1" x2="688.8" y2="784.1" stroke="#bdbdbd" stroke-width="1.8"/>
<line x1="679.3" y1="801.5" x2="688.8" y2="801.5" stroke="#bdbdbd" stroke-width="2.6"/>
<line x1="679.3" y1="818.8" x2="688.8" y2="818.8" stroke="#bdbdbd" stroke-width="1.8"/>
<line x1="679.3" y1="836.2" x2="688.8" y2="836.2" stroke="#bdbdbd" stroke-width="1.8"/>
<line x1="679.3" y1="853.5" x2="688.8" y2="853.5" stroke="#bdbdbd" stroke-width="2.6"/>
<line x1="679.3" y1="870.9" x2="688.8" y2="870.9" stroke="#bdbdbd" stroke-width="1.8"/>
<line x1="679.3" y1="888.2" x2="688.8" y2="888.2" stroke="#bdbdbd" stroke-width="1.8"/>
<line x1="679.3" y1="905.6" x2="688.8" y2="905.6" stroke="#bdbdbd" stroke-width="2.6"/>
<line x1="679.3" y1="922.9" x2="688.8" y2="922.9" stroke="#bdbdbd" stroke-width="1.8"/>
<line x1="679.3" y1="940.3" x2="688.8" y2="940.3" stroke="#bdbdbd" stroke-width="1.8"/>
<line x1="679.3" y1="957.6" x2="688.8" y2="957.6" stroke="#bdbdbd" stroke-width="2.6"/>
<line x1="679.3" y1="975.0" x2="688.8" y2="975.0" stroke="#bdbdbd" stroke-width="1.8"/>
<line x1="679.3" y1="992.3" x2="688.8" y2="992.3" stroke="#bdbdbd" stroke-width="1.8"/>
<line x1="679.3" y1="1009.7" x2="688.8" y2="1009.7" stroke="#bdbdbd" stroke-width="2.6"/>
<line x1="679.3" y1="1027.0" x2="688.8" y2="1027.0" stroke="#bdbdbd" stroke-width="1.8"/>
<line x1="679.3" y1="1044.4" x2="688.8" y2="1044.4" stroke="#bdbdbd" stroke-width="1.8"/>
<line x1="679.3" y1="1061.7" x2="688.8" y2="1061.7" stroke="#bdbdbd" stroke-width="2.6"/>
<line x1="679.3" y1="1079.1" x2="688.8" y2="1079.1" stroke="#bdbdbd" stroke-width="1.8"/>
<line x1="679.3" y1="1096.4" x2="688.8" y2="1096.4" stroke="#bdbdbd" stroke-width="1.8"/>
<line x1="679.3" y1="1113.8" x2="688.8" y2="1113.8" stroke="#bdbdbd" stroke-width="2.6"/>
<line x1="679.3" y1="1131.1" x2="688.8" y2="1131.1" stroke="#bdbdbd" stroke-width="1.8"/>
<line x1="679.3" y1="1148.5" x2="688.8" y2="1148.5" stroke="#bdbdbd" stroke-width="1.8"/>
<line x1="679.3" y1="1165.8" x2="688.8" y2="1165.8" stroke="#bdbdbd" stroke-width="2.6"/>
<line x1="679.3" y1="1183.1" x2="688.8" y2="1183.1" stroke="#bdbdbd" stroke-width="1.8"/>
<line x1="679.3" y1="1200.5" x2="688.8" y2="1200.5" stroke="#bdbdbd" stroke-width="1.8"/>
<line x1="679.3" y1="1215.5" x2="688.8" y2="1215.5" stroke="#bdbdbd" stroke-width="2"/>
<rect x="773.3" y="541.2" width="9.3" height="674.3" fill="#3f3f3f"/>
<rect x="773.3" y="541.2" width="2.6" height="674.3" fill="#8e8e8e"/>
<line x1="773.8" y1="541.2" x2="773.8" y2="1215.5" stroke="#b0b0b0" stroke-width="1"/>
<line x1="781.8" y1="541.2" x2="781.8" y2="1215.5" stroke="#c8c8c8" stroke-width="1.4"/>
<line x1="777.4" y1="541.2" x2="777.4" y2="1215.5" stroke="#4c4c4c" stroke-width="0.7"/>
<line x1="779.6" y1="541.2" x2="779.6" y2="1215.5" stroke="#4c4c4c" stroke-width="0.7"/>
<line x1="773.3" y1="541.2" x2="782.6" y2="541.2" stroke="#bdbdbd" stroke-width="2.6"/>
<line x1="773.3" y1="558.6" x2="782.6" y2="558.6" stroke="#bdbdbd" stroke-width="1.8"/>
<line x1="773.3" y1="575.9" x2="782.6" y2="575.9" stroke="#bdbdbd" stroke-width="1.8"/>
<line x1="773.3" y1="593.3" x2="782.6" y2="593.3" stroke="#bdbdbd" stroke-width="2.6"/>
<line x1="773.3" y1="610.6" x2="782.6" y2="610.6" stroke="#bdbdbd" stroke-width="1.8"/>
<line x1="773.3" y1="628.0" x2="782.6" y2="628.0" stroke="#bdbdbd" stroke-width="1.8"/>
<line x1="773.3" y1="645.3" x2="782.6" y2="645.3" stroke="#bdbdbd" stroke-width="2.6"/>
<line x1="773.3" y1="662.7" x2="782.6" y2="662.7" stroke="#bdbdbd" stroke-width="1.8"/>
<line x1="773.3" y1="680.0" x2="782.6" y2="680.0" stroke="#bdbdbd" stroke-width="1.8"/>
<line x1="773.3" y1="697.4" x2="782.6" y2="697.4" stroke="#bdbdbd" stroke-width="2.6"/>
<line x1="773.3" y1="714.7" x2="782.6" y2="714.7" stroke="#bdbdbd" stroke-width="1.8"/>
<line x1="773.3" y1="732.1" x2="782.6" y2="732.1" stroke="#bdbdbd" stroke-width="1.8"/>
<line x1="773.3" y1="749.4" x2="782.6" y2="749.4" stroke="#bdbdbd" stroke-width="2.6"/>
<line x1="773.3" y1="766.8" x2="782.6" y2="766.8" stroke="#bdbdbd" stroke-width="1.8"/>
<line x1="773.3" y1="784.1" x2="782.6" y2="784.1" stroke="#bdbdbd" stroke-width="1.8"/>
<line x1="773.3" y1="801.5" x2="782.6" y2="801.5" stroke="#bdbdbd" stroke-width="2.6"/>
<line x1="773.3" y1="818.8" x2="782.6" y2="818.8" stroke="#bdbdbd" stroke-width="1.8"/>
<line x1="773.3" y1="836.2" x2="782.6" y2="836.2" stroke="#bdbdbd" stroke-width="1.8"/>
<line x1="773.3" y1="853.5" x2="782.6" y2="853.5" stroke="#bdbdbd" stroke-width="2.6"/>
<line x1="773.3" y1="870.9" x2="782.6" y2="870.9" stroke="#bdbdbd" stroke-width="1.8"/>
<line x1="773.3" y1="888.2" x2="782.6" y2="888.2" stroke="#bdbdbd" stroke-width="1.8"/>
<line x1="773.3" y1="905.6" x2="782.6" y2="905.6" stroke="#bdbdbd" stroke-width="2.6"/>
<line x1="773.3" y1="922.9" x2="782.6" y2="922.9" stroke="#bdbdbd" stroke-width="1.8"/>
<line x1="773.3" y1="940.3" x2="782.6" y2="940.3" stroke="#bdbdbd" stroke-width="1.8"/>
<line x1="773.3" y1="957.6" x2="782.6" y2="957.6" stroke="#bdbdbd" stroke-width="2.6"/>
<line x1="773.3" y1="975.0" x2="782.6" y2="975.0" stroke="#bdbdbd" stroke-width="1.8"/>
<line x1="773.3" y1="992.3" x2="782.6" y2="992.3" stroke="#bdbdbd" stroke-width="1.8"/>
<line x1="773.3" y1="1009.7" x2="782.6" y2="1009.7" stroke="#bdbdbd" stroke-width="2.6"/>
<line x1="773.3" y1="1027.0" x2="782.6" y2="1027.0" stroke="#bdbdbd" stroke-width="1.8"/>
<line x1="773.3" y1="1044.4" x2="782.6" y2="1044.4" stroke="#bdbdbd" stroke-width="1.8"/>
<line x1="773.3" y1="1061.7" x2="782.6" y2="1061.7" stroke="#bdbdbd" stroke-width="2.6"/>
<line x1="773.3" y1="1079.1" x2="782.6" y2="1079.1" stroke="#bdbdbd" stroke-width="1.8"/>
<line x1="773.3" y1="1096.4" x2="782.6" y2="1096.4" stroke="#bdbdbd" stroke-width="1.8"/>
<line x1="773.3" y1="1113.8" x2="782.6" y2="1113.8" stroke="#bdbdbd" stroke-width="2.6"/>
<line x1="773.3" y1="1131.1" x2="782.6" y2="1131.1" stroke="#bdbdbd" stroke-width="1.8"/>
<line x1="773.3" y1="1148.5" x2="782.6" y2="1148.5" stroke="#bdbdbd" stroke-width="1.8"/>
<line x1="773.3" y1="1165.8" x2="782.6" y2="1165.8" stroke="#bdbdbd" stroke-width="2.6"/>
<line x1="773.3" y1="1183.1" x2="782.6" y2="1183.1" stroke="#bdbdbd" stroke-width="1.8"/>
<line x1="773.3" y1="1200.5" x2="782.6" y2="1200.5" stroke="#bdbdbd" stroke-width="1.8"/>
<line x1="773.3" y1="1215.5" x2="782.6" y2="1215.5" stroke="#bdbdbd" stroke-width="2"/>
<rect x="796.0" y="541.2" width="9.3" height="674.3" fill="#3f3f3f"/>
<rect x="796.0" y="541.2" width="2.6" height="674.3" fill="#8e8e8e"/>
<line x1="796.5" y1="541.2" x2="796.5" y2="1215.5" stroke="#b0b0b0" stroke-width="1"/>
<line x1="804.5" y1="541.2" x2="804.5" y2="1215.5" stroke="#c8c8c8" stroke-width="1.4"/>
<line x1="800.1" y1="541.2" x2="800.1" y2="1215.5" stroke="#4c4c4c" stroke-width="0.7"/>
<line x1="802.3" y1="541.2" x2="802.3" y2="1215.5" stroke="#4c4c4c" stroke-width="0.7"/>
<line x1="796.0" y1="541.2" x2="805.3" y2="541.2" stroke="#bdbdbd" stroke-width="2.6"/>
<line x1="796.0" y1="558.6" x2="805.3" y2="558.6" stroke="#bdbdbd" stroke-width="1.8"/>
<line x1="796.0" y1="575.9" x2="805.3" y2="575.9" stroke="#bdbdbd" stroke-width="1.8"/>
<line x1="796.0" y1="593.3" x2="805.3" y2="593.3" stroke="#bdbdbd" stroke-width="2.6"/>
<line x1="796.0" y1="610.6" x2="805.3" y2="610.6" stroke="#bdbdbd" stroke-width="1.8"/>
<line x1="796.0" y1="628.0" x2="805.3" y2="628.0" stroke="#bdbdbd" stroke-width="1.8"/>
<line x1="796.0" y1="645.3" x2="805.3" y2="645.3" stroke="#bdbdbd" stroke-width="2.6"/>
<line x1="796.0" y1="662.7" x2="805.3" y2="662.7" stroke="#bdbdbd" stroke-width="1.8"/>
<line x1="796.0" y1="680.0" x2="805.3" y2="680.0" stroke="#bdbdbd" stroke-width="1.8"/>
<line x1="796.0" y1="697.4" x2="805.3" y2="697.4" stroke="#bdbdbd" stroke-width="2.6"/>
<line x1="796.0" y1="714.7" x2="805.3" y2="714.7" stroke="#bdbdbd" stroke-width="1.8"/>
<line x1="796.0" y1="732.1" x2="805.3" y2="732.1" stroke="#bdbdbd" stroke-width="1.8"/>
<line x1="796.0" y1="749.4" x2="805.3" y2="749.4" stroke="#bdbdbd" stroke-width="2.6"/>
<line x1="796.0" y1="766.8" x2="805.3" y2="766.8" stroke="#bdbdbd" stroke-width="1.8"/>
<line x1="796.0" y1="784.1" x2="805.3" y2="784.1" stroke="#bdbdbd" stroke-width="1.8"/>
<line x1="796.0" y1="801.5" x2="805.3" y2="801.5" stroke="#bdbdbd" stroke-width="2.6"/>
<line x1="796.0" y1="818.8" x2="805.3" y2="818.8" stroke="#bdbdbd" stroke-width="1.8"/>
<line x1="796.0" y1="836.2" x2="805.3" y2="836.2" stroke="#bdbdbd" stroke-width="1.8"/>
<line x1="796.0" y1="853.5" x2="805.3" y2="853.5" stroke="#bdbdbd" stroke-width="2.6"/>
<line x1="796.0" y1="870.9" x2="805.3" y2="870.9" stroke="#bdbdbd" stroke-width="1.8"/>
<line x1="796.0" y1="888.2" x2="805.3" y2="888.2" stroke="#bdbdbd" stroke-width="1.8"/>
<line x1="796.0" y1="905.6" x2="805.3" y2="905.6" stroke="#bdbdbd" stroke-width="2.6"/>
<line x1="796.0" y1="922.9" x2="805.3" y2="922.9" stroke="#bdbdbd" stroke-width="1.8"/>
<line x1="796.0" y1="940.3" x2="805.3" y2="940.3" stroke="#bdbdbd" stroke-width="1.8"/>
<line x1="796.0" y1="957.6" x2="805.3" y2="957.6" stroke="#bdbdbd" stroke-width="2.6"/>
<line x1="796.0" y1="975.0" x2="805.3" y2="975.0" stroke="#bdbdbd" stroke-width="1.8"/>
<line x1="796.0" y1="992.3" x2="805.3" y2="992.3" stroke="#bdbdbd" stroke-width="1.8"/>
<line x1="796.0" y1="1009.7" x2="805.3" y2="1009.7" stroke="#bdbdbd" stroke-width="2.6"/>
<line x1="796.0" y1="1027.0" x2="805.3" y2="1027.0" stroke="#bdbdbd" stroke-width="1.8"/>
<line x1="796.0" y1="1044.4" x2="805.3" y2="1044.4" stroke="#bdbdbd" stroke-width="1.8"/>
<line x1="796.0" y1="1061.7" x2="805.3" y2="1061.7" stroke="#bdbdbd" stroke-width="2.6"/>
<line x1="796.0" y1="1079.1" x2="805.3" y2="1079.1" stroke="#bdbdbd" stroke-width="1.8"/>
<line x1="796.0" y1="1096.4" x2="805.3" y2="1096.4" stroke="#bdbdbd" stroke-width="1.8"/>
<line x1="796.0" y1="1113.8" x2="805.3" y2="1113.8" stroke="#bdbdbd" stroke-width="2.6"/>
<line x1="796.0" y1="1131.1" x2="805.3" y2="1131.1" stroke="#bdbdbd" stroke-width="1.8"/>
<line x1="796.0" y1="1148.5" x2="805.3" y2="1148.5" stroke="#bdbdbd" stroke-width="1.8"/>
<line x1="796.0" y1="1165.8" x2="805.3" y2="1165.8" stroke="#bdbdbd" stroke-width="2.6"/>
<line x1="796.0" y1="1183.1" x2="805.3" y2="1183.1" stroke="#bdbdbd" stroke-width="1.8"/>
<line x1="796.0" y1="1200.5" x2="805.3" y2="1200.5" stroke="#bdbdbd" stroke-width="1.8"/>
<line x1="796.0" y1="1215.5" x2="805.3" y2="1215.5" stroke="#bdbdbd" stroke-width="2"/>
<rect x="807.5" y="541.2" width="9.5" height="674.3" fill="#3f3f3f"/>
<rect x="814.4" y="541.2" width="2.6" height="674.3" fill="#8e8e8e"/>
<line x1="816.5" y1="541.2" x2="816.5" y2="1215.5" stroke="#b0b0b0" stroke-width="1"/>
<line x1="808.3" y1="541.2" x2="808.3" y2="1215.5" stroke="#c8c8c8" stroke-width="1.4"/>
<line x1="810.5" y1="541.2" x2="810.5" y2="1215.5" stroke="#4c4c4c" stroke-width="0.7"/>
<line x1="812.7" y1="541.2" x2="812.7" y2="1215.5" stroke="#4c4c4c" stroke-width="0.7"/>
<line x1="807.5" y1="541.2" x2="817.0" y2="541.2" stroke="#bdbdbd" stroke-width="2.6"/>
<line x1="807.5" y1="558.6" x2="817.0" y2="558.6" stroke="#bdbdbd" stroke-width="1.8"/>
<line x1="807.5" y1="575.9" x2="817.0" y2="575.9" stroke="#bdbdbd" stroke-width="1.8"/>
<line x1="807.5" y1="593.3" x2="817.0" y2="593.3" stroke="#bdbdbd" stroke-width="2.6"/>
<line x1="807.5" y1="610.6" x2="817.0" y2="610.6" stroke="#bdbdbd" stroke-width="1.8"/>
<line x1="807.5" y1="628.0" x2="817.0" y2="628.0" stroke="#bdbdbd" stroke-width="1.8"/>
<line x1="807.5" y1="645.3" x2="817.0" y2="645.3" stroke="#bdbdbd" stroke-width="2.6"/>
<line x1="807.5" y1="662.7" x2="817.0" y2="662.7" stroke="#bdbdbd" stroke-width="1.8"/>
<line x1="807.5" y1="680.0" x2="817.0" y2="680.0" stroke="#bdbdbd" stroke-width="1.8"/>
<line x1="807.5" y1="697.4" x2="817.0" y2="697.4" stroke="#bdbdbd" stroke-width="2.6"/>
<line x1="807.5" y1="714.7" x2="817.0" y2="714.7" stroke="#bdbdbd" stroke-width="1.8"/>
<line x1="807.5" y1="732.1" x2="817.0" y2="732.1" stroke="#bdbdbd" stroke-width="1.8"/>
<line x1="807.5" y1="749.4" x2="817.0" y2="749.4" stroke="#bdbdbd" stroke-width="2.6"/>
<line x1="807.5" y1="766.8" x2="817.0" y2="766.8" stroke="#bdbdbd" stroke-width="1.8"/>
<line x1="807.5" y1="784.1" x2="817.0" y2="784.1" stroke="#bdbdbd" stroke-width="1.8"/>
<line x1="807.5" y1="801.5" x2="817.0" y2="801.5" stroke="#bdbdbd" stroke-width="2.6"/>
<line x1="807.5" y1="818.8" x2="817.0" y2="818.8" stroke="#bdbdbd" stroke-width="1.8"/>
<line x1="807.5" y1="836.2" x2="817.0" y2="836.2" stroke="#bdbdbd" stroke-width="1.8"/>
<line x1="807.5" y1="853.5" x2="817.0" y2="853.5" stroke="#bdbdbd" stroke-width="2.6"/>
<line x1="807.5" y1="870.9" x2="817.0" y2="870.9" stroke="#bdbdbd" stroke-width="1.8"/>
<line x1="807.5" y1="888.2" x2="817.0" y2="888.2" stroke="#bdbdbd" stroke-width="1.8"/>
<line x1="807.5" y1="905.6" x2="817.0" y2="905.6" stroke="#bdbdbd" stroke-width="2.6"/>
<line x1="807.5" y1="922.9" x2="817.0" y2="922.9" stroke="#bdbdbd" stroke-width="1.8"/>
<line x1="807.5" y1="940.3" x2="817.0" y2="940.3" stroke="#bdbdbd" stroke-width="1.8"/>
<line x1="807.5" y1="957.6" x2="817.0" y2="957.6" stroke="#bdbdbd" stroke-width="2.6"/>
<line x1="807.5" y1="975.0" x2="817.0" y2="975.0" stroke="#bdbdbd" stroke-width="1.8"/>
<line x1="807.5" y1="992.3" x2="817.0" y2="992.3" stroke="#bdbdbd" stroke-width="1.8"/>
<line x1="807.5" y1="1009.7" x2="817.0" y2="1009.7" stroke="#bdbdbd" stroke-width="2.6"/>
<line x1="807.5" y1="1027.0" x2="817.0" y2="1027.0" stroke="#bdbdbd" stroke-width="1.8"/>
<line x1="807.5" y1="1044.4" x2="817.0" y2="1044.4" stroke="#bdbdbd" stroke-width="1.8"/>
<line x1="807.5" y1="1061.7" x2="817.0" y2="1061.7" stroke="#bdbdbd" stroke-width="2.6"/>
<line x1="807.5" y1="1079.1" x2="817.0" y2="1079.1" stroke="#bdbdbd" stroke-width="1.8"/>
<line x1="807.5" y1="1096.4" x2="817.0" y2="1096.4" stroke="#bdbdbd" stroke-width="1.8"/>
<line x1="807.5" y1="1113.8" x2="817.0" y2="1113.8" stroke="#bdbdbd" stroke-width="2.6"/>
<line x1="807.5" y1="1131.1" x2="817.0" y2="1131.1" stroke="#bdbdbd" stroke-width="1.8"/>
<line x1="807.5" y1="1148.5" x2="817.0" y2="1148.5" stroke="#bdbdbd" stroke-width="1.8"/>
<line x1="807.5" y1="1165.8" x2="817.0" y2="1165.8" stroke="#bdbdbd" stroke-width="2.6"/>
<line x1="807.5" y1="1183.1" x2="817.0" y2="1183.1" stroke="#bdbdbd" stroke-width="1.8"/>
<line x1="807.5" y1="1200.5" x2="817.0" y2="1200.5" stroke="#bdbdbd" stroke-width="1.8"/>
<line x1="807.5" y1="1215.5" x2="817.0" y2="1215.5" stroke="#bdbdbd" stroke-width="2"/>
<rect x="831.8" y="541.2" width="10.0" height="674.3" fill="#3f3f3f"/>
<rect x="831.8" y="541.2" width="2.6" height="674.3" fill="#8e8e8e"/>
<line x1="832.3" y1="541.2" x2="832.3" y2="1215.5" stroke="#b0b0b0" stroke-width="1"/>
<line x1="841.0" y1="541.2" x2="841.0" y2="1215.5" stroke="#c8c8c8" stroke-width="1.4"/>
<line x1="835.9" y1="541.2" x2="835.9" y2="1215.5" stroke="#4c4c4c" stroke-width="0.7"/>
<line x1="838.1" y1="541.2" x2="838.1" y2="1215.5" stroke="#4c4c4c" stroke-width="0.7"/>
<line x1="831.8" y1="541.2" x2="841.8" y2="541.2" stroke="#bdbdbd" stroke-width="2.6"/>
<line x1="831.8" y1="558.6" x2="841.8" y2="558.6" stroke="#bdbdbd" stroke-width="1.8"/>
<line x1="831.8" y1="575.9" x2="841.8" y2="575.9" stroke="#bdbdbd" stroke-width="1.8"/>
<line x1="831.8" y1="593.3" x2="841.8" y2="593.3" stroke="#bdbdbd" stroke-width="2.6"/>
<line x1="831.8" y1="610.6" x2="841.8" y2="610.6" stroke="#bdbdbd" stroke-width="1.8"/>
<line x1="831.8" y1="628.0" x2="841.8" y2="628.0" stroke="#bdbdbd" stroke-width="1.8"/>
<line x1="831.8" y1="645.3" x2="841.8" y2="645.3" stroke="#bdbdbd" stroke-width="2.6"/>
<line x1="831.8" y1="662.7" x2="841.8" y2="662.7" stroke="#bdbdbd" stroke-width="1.8"/>
<line x1="831.8" y1="680.0" x2="841.8" y2="680.0" stroke="#bdbdbd" stroke-width="1.8"/>
<line x1="831.8" y1="697.4" x2="841.8" y2="697.4" stroke="#bdbdbd" stroke-width="2.6"/>
<line x1="831.8" y1="714.7" x2="841.8" y2="714.7" stroke="#bdbdbd" stroke-width="1.8"/>
<line x1="831.8" y1="732.1" x2="841.8" y2="732.1" stroke="#bdbdbd" stroke-width="1.8"/>
<line x1="831.8" y1="749.4" x2="841.8" y2="749.4" stroke="#bdbdbd" stroke-width="2.6"/>
<line x1="831.8" y1="766.8" x2="841.8" y2="766.8" stroke="#bdbdbd" stroke-width="1.8"/>
<line x1="831.8" y1="784.1" x2="841.8" y2="784.1" stroke="#bdbdbd" stroke-width="1.8"/>
<line x1="831.8" y1="801.5" x2="841.8" y2="801.5" stroke="#bdbdbd" stroke-width="2.6"/>
<line x1="831.8" y1="818.8" x2="841.8" y2="818.8" stroke="#bdbdbd" stroke-width="1.8"/>
<line x1="831.8" y1="836.2" x2="841.8" y2="836.2" stroke="#bdbdbd" stroke-width="1.8"/>
<line x1="831.8" y1="853.5" x2="841.8" y2="853.5" stroke="#bdbdbd" stroke-width="2.6"/>
<line x1="831.8" y1="870.9" x2="841.8" y2="870.9" stroke="#bdbdbd" stroke-width="1.8"/>
<line x1="831.8" y1="888.2" x2="841.8" y2="888.2" stroke="#bdbdbd" stroke-width="1.8"/>
<line x1="831.8" y1="905.6" x2="841.8" y2="905.6" stroke="#bdbdbd" stroke-width="2.6"/>
<line x1="831.8" y1="922.9" x2="841.8" y2="922.9" stroke="#bdbdbd" stroke-width="1.8"/>
<line x1="831.8" y1="940.3" x2="841.8" y2="940.3" stroke="#bdbdbd" stroke-width="1.8"/>
<line x1="831.8" y1="957.6" x2="841.8" y2="957.6" stroke="#bdbdbd" stroke-width="2.6"/>
<line x1="831.8" y1="975.0" x2="841.8" y2="975.0" stroke="#bdbdbd" stroke-width="1.8"/>
<line x1="831.8" y1="992.3" x2="841.8" y2="992.3" stroke="#bdbdbd" stroke-width="1.8"/>
<line x1="831.8" y1="1009.7" x2="841.8" y2="1009.7" stroke="#bdbdbd" stroke-width="2.6"/>
<line x1="831.8" y1="1027.0" x2="841.8" y2="1027.0" stroke="#bdbdbd" stroke-width="1.8"/>
<line x1="831.8" y1="1044.4" x2="841.8" y2="1044.4" stroke="#bdbdbd" stroke-width="1.8"/>
<line x1="831.8" y1="1061.7" x2="841.8" y2="1061.7" stroke="#bdbdbd" stroke-width="2.6"/>
<line x1="831.8" y1="1079.1" x2="841.8" y2="1079.1" stroke="#bdbdbd" stroke-width="1.8"/>
<line x1="831.8" y1="1096.4" x2="841.8" y2="1096.4" stroke="#bdbdbd" stroke-width="1.8"/>
<line x1="831.8" y1="1113.8" x2="841.8" y2="1113.8" stroke="#bdbdbd" stroke-width="2.6"/>
<line x1="831.8" y1="1131.1" x2="841.8" y2="1131.1" stroke="#bdbdbd" stroke-width="1.8"/>
<line x1="831.8" y1="1148.5" x2="841.8" y2="1148.5" stroke="#bdbdbd" stroke-width="1.8"/>
<line x1="831.8" y1="1165.8" x2="841.8" y2="1165.8" stroke="#bdbdbd" stroke-width="2.6"/>
<line x1="831.8" y1="1183.1" x2="841.8" y2="1183.1" stroke="#bdbdbd" stroke-width="1.8"/>
<line x1="831.8" y1="1200.5" x2="841.8" y2="1200.5" stroke="#bdbdbd" stroke-width="1.8"/>
<line x1="831.8" y1="1215.5" x2="841.8" y2="1215.5" stroke="#bdbdbd" stroke-width="2"/>
<rect x="858.7" y="541.2" width="9.1" height="674.3" fill="#3f3f3f"/>
<rect x="858.7" y="541.2" width="2.6" height="674.3" fill="#8e8e8e"/>
<line x1="859.2" y1="541.2" x2="859.2" y2="1215.5" stroke="#b0b0b0" stroke-width="1"/>
<line x1="867.0" y1="541.2" x2="867.0" y2="1215.5" stroke="#c8c8c8" stroke-width="1.4"/>
<line x1="862.8" y1="541.2" x2="862.8" y2="1215.5" stroke="#4c4c4c" stroke-width="0.7"/>
<line x1="865.0" y1="541.2" x2="865.0" y2="1215.5" stroke="#4c4c4c" stroke-width="0.7"/>
<line x1="858.7" y1="541.2" x2="867.8" y2="541.2" stroke="#bdbdbd" stroke-width="2.6"/>
<line x1="858.7" y1="558.6" x2="867.8" y2="558.6" stroke="#bdbdbd" stroke-width="1.8"/>
<line x1="858.7" y1="575.9" x2="867.8" y2="575.9" stroke="#bdbdbd" stroke-width="1.8"/>
<line x1="858.7" y1="593.3" x2="867.8" y2="593.3" stroke="#bdbdbd" stroke-width="2.6"/>
<line x1="858.7" y1="610.6" x2="867.8" y2="610.6" stroke="#bdbdbd" stroke-width="1.8"/>
<line x1="858.7" y1="628.0" x2="867.8" y2="628.0" stroke="#bdbdbd" stroke-width="1.8"/>
<line x1="858.7" y1="645.3" x2="867.8" y2="645.3" stroke="#bdbdbd" stroke-width="2.6"/>
<line x1="858.7" y1="662.7" x2="867.8" y2="662.7" stroke="#bdbdbd" stroke-width="1.8"/>
<line x1="858.7" y1="680.0" x2="867.8" y2="680.0" stroke="#bdbdbd" stroke-width="1.8"/>
<line x1="858.7" y1="697.4" x2="867.8" y2="697.4" stroke="#bdbdbd" stroke-width="2.6"/>
<line x1="858.7" y1="714.7" x2="867.8" y2="714.7" stroke="#bdbdbd" stroke-width="1.8"/>
<line x1="858.7" y1="732.1" x2="867.8" y2="732.1" stroke="#bdbdbd" stroke-width="1.8"/>
<line x1="858.7" y1="749.4" x2="867.8" y2="749.4" stroke="#bdbdbd" stroke-width="2.6"/>
<line x1="858.7" y1="766.8" x2="867.8" y2="766.8" stroke="#bdbdbd" stroke-width="1.8"/>
<line x1="858.7" y1="784.1" x2="867.8" y2="784.1" stroke="#bdbdbd" stroke-width="1.8"/>
<line x1="858.7" y1="801.5" x2="867.8" y2="801.5" stroke="#bdbdbd" stroke-width="2.6"/>
<line x1="858.7" y1="818.8" x2="867.8" y2="818.8" stroke="#bdbdbd" stroke-width="1.8"/>
<line x1="858.7" y1="836.2" x2="867.8" y2="836.2" stroke="#bdbdbd" stroke-width="1.8"/>
<line x1="858.7" y1="853.5" x2="867.8" y2="853.5" stroke="#bdbdbd" stroke-width="2.6"/>
<line x1="858.7" y1="870.9" x2="867.8" y2="870.9" stroke="#bdbdbd" stroke-width="1.8"/>
<line x1="858.7" y1="888.2" x2="867.8" y2="888.2" stroke="#bdbdbd" stroke-width="1.8"/>
<line x1="858.7" y1="905.6" x2="867.8" y2="905.6" stroke="#bdbdbd" stroke-width="2.6"/>
<line x1="858.7" y1="922.9" x2="867.8" y2="922.9" stroke="#bdbdbd" stroke-width="1.8"/>
<line x1="858.7" y1="940.3" x2="867.8" y2="940.3" stroke="#bdbdbd" stroke-width="1.8"/>
<line x1="858.7" y1="957.6" x2="867.8" y2="957.6" stroke="#bdbdbd" stroke-width="2.6"/>
<line x1="858.7" y1="975.0" x2="867.8" y2="975.0" stroke="#bdbdbd" stroke-width="1.8"/>
<line x1="858.7" y1="992.3" x2="867.8" y2="992.3" stroke="#bdbdbd" stroke-width="1.8"/>
<line x1="858.7" y1="1009.7" x2="867.8" y2="1009.7" stroke="#bdbdbd" stroke-width="2.6"/>
<line x1="858.7" y1="1027.0" x2="867.8" y2="1027.0" stroke="#bdbdbd" stroke-width="1.8"/>
<line x1="858.7" y1="1044.4" x2="867.8" y2="1044.4" stroke="#bdbdbd" stroke-width="1.8"/>
<line x1="858.7" y1="1061.7" x2="867.8" y2="1061.7" stroke="#bdbdbd" stroke-width="2.6"/>
<line x1="858.7" y1="1079.1" x2="867.8" y2="1079.1" stroke="#bdbdbd" stroke-width="1.8"/>
<line x1="858.7" y1="1096.4" x2="867.8" y2="1096.4" stroke="#bdbdbd" stroke-width="1.8"/>
<line x1="858.7" y1="1113.8" x2="867.8" y2="1113.8" stroke="#bdbdbd" stroke-width="2.6"/>
<line x1="858.7" y1="1131.1" x2="867.8" y2="1131.1" stroke="#bdbdbd" stroke-width="1.8"/>
<line x1="858.7" y1="1148.5" x2="867.8" y2="1148.5" stroke="#bdbdbd" stroke-width="1.8"/>
<line x1="858.7" y1="1165.8" x2="867.8" y2="1165.8" stroke="#bdbdbd" stroke-width="2.6"/>
<line x1="858.7" y1="1183.1" x2="867.8" y2="1183.1" stroke="#bdbdbd" stroke-width="1.8"/>
<line x1="858.7" y1="1200.5" x2="867.8" y2="1200.5" stroke="#bdbdbd" stroke-width="1.8"/>
<line x1="858.7" y1="1215.5" x2="867.8" y2="1215.5" stroke="#bdbdbd" stroke-width="2"/>
<rect x="881.8" y="541.2" width="9.5" height="674.3" fill="#3f3f3f"/>
<rect x="881.8" y="541.2" width="2.6" height="674.3" fill="#8e8e8e"/>
<line x1="882.3" y1="541.2" x2="882.3" y2="1215.5" stroke="#b0b0b0" stroke-width="1"/>
<line x1="890.5" y1="541.2" x2="890.5" y2="1215.5" stroke="#c8c8c8" stroke-width="1.4"/>
<line x1="885.9" y1="541.2" x2="885.9" y2="1215.5" stroke="#4c4c4c" stroke-width="0.7"/>
<line x1="888.1" y1="541.2" x2="888.1" y2="1215.5" stroke="#4c4c4c" stroke-width="0.7"/>
<line x1="881.8" y1="541.2" x2="891.3" y2="541.2" stroke="#bdbdbd" stroke-width="2.6"/>
<line x1="881.8" y1="558.6" x2="891.3" y2="558.6" stroke="#bdbdbd" stroke-width="1.8"/>
<line x1="881.8" y1="575.9" x2="891.3" y2="575.9" stroke="#bdbdbd" stroke-width="1.8"/>
<line x1="881.8" y1="593.3" x2="891.3" y2="593.3" stroke="#bdbdbd" stroke-width="2.6"/>
<line x1="881.8" y1="610.6" x2="891.3" y2="610.6" stroke="#bdbdbd" stroke-width="1.8"/>
<line x1="881.8" y1="628.0" x2="891.3" y2="628.0" stroke="#bdbdbd" stroke-width="1.8"/>
<line x1="881.8" y1="645.3" x2="891.3" y2="645.3" stroke="#bdbdbd" stroke-width="2.6"/>
<line x1="881.8" y1="662.7" x2="891.3" y2="662.7" stroke="#bdbdbd" stroke-width="1.8"/>
<line x1="881.8" y1="680.0" x2="891.3" y2="680.0" stroke="#bdbdbd" stroke-width="1.8"/>
<line x1="881.8" y1="697.4" x2="891.3" y2="697.4" stroke="#bdbdbd" stroke-width="2.6"/>
<line x1="881.8" y1="714.7" x2="891.3" y2="714.7" stroke="#bdbdbd" stroke-width="1.8"/>
<line x1="881.8" y1="732.1" x2="891.3" y2="732.1" stroke="#bdbdbd" stroke-width="1.8"/>
<line x1="881.8" y1="749.4" x2="891.3" y2="749.4" stroke="#bdbdbd" stroke-width="2.6"/>
<line x1="881.8" y1="766.8" x2="891.3" y2="766.8" stroke="#bdbdbd" stroke-width="1.8"/>
<line x1="881.8" y1="784.1" x2="891.3" y2="784.1" stroke="#bdbdbd" stroke-width="1.8"/>
<line x1="881.8" y1="801.5" x2="891.3" y2="801.5" stroke="#bdbdbd" stroke-width="2.6"/>
<line x1="881.8" y1="818.8" x2="891.3" y2="818.8" stroke="#bdbdbd" stroke-width="1.8"/>
<line x1="881.8" y1="836.2" x2="891.3" y2="836.2" stroke="#bdbdbd" stroke-width="1.8"/>
<line x1="881.8" y1="853.5" x2="891.3" y2="853.5" stroke="#bdbdbd" stroke-width="2.6"/>
<line x1="881.8" y1="870.9" x2="891.3" y2="870.9" stroke="#bdbdbd" stroke-width="1.8"/>
<line x1="881.8" y1="888.2" x2="891.3" y2="888.2" stroke="#bdbdbd" stroke-width="1.8"/>
<line x1="881.8" y1="905.6" x2="891.3" y2="905.6" stroke="#bdbdbd" stroke-width="2.6"/>
<line x1="881.8" y1="922.9" x2="891.3" y2="922.9" stroke="#bdbdbd" stroke-width="1.8"/>
<line x1="881.8" y1="940.3" x2="891.3" y2="940.3" stroke="#bdbdbd" stroke-width="1.8"/>
<line x1="881.8" y1="957.6" x2="891.3" y2="957.6" stroke="#bdbdbd" stroke-width="2.6"/>
<line x1="881.8" y1="975.0" x2="891.3" y2="975.0" stroke="#bdbdbd" stroke-width="1.8"/>
<line x1="881.8" y1="992.3" x2="891.3" y2="992.3" stroke="#bdbdbd" stroke-width="1.8"/>
<line x1="881.8" y1="1009.7" x2="891.3" y2="1009.7" stroke="#bdbdbd" stroke-width="2.6"/>
<line x1="881.8" y1="1027.0" x2="891.3" y2="1027.0" stroke="#bdbdbd" stroke-width="1.8"/>
<line x1="881.8" y1="1044.4" x2="891.3" y2="1044.4" stroke="#bdbdbd" stroke-width="1.8"/>
<line x1="881.8" y1="1061.7" x2="891.3" y2="1061.7" stroke="#bdbdbd" stroke-width="2.6"/>
<line x1="881.8" y1="1079.1" x2="891.3" y2="1079.1" stroke="#bdbdbd" stroke-width="1.8"/>
<line x1="881.8" y1="1096.4" x2="891.3" y2="1096.4" stroke="#bdbdbd" stroke-width="1.8"/>
<line x1="881.8" y1="1113.8" x2="891.3" y2="1113.8" stroke="#bdbdbd" stroke-width="2.6"/>
<line x1="881.8" y1="1131.1" x2="891.3" y2="1131.1" stroke="#bdbdbd" stroke-width="1.8"/>
<line x1="881.8" y1="1148.5" x2="891.3" y2="1148.5" stroke="#bdbdbd" stroke-width="1.8"/>
<line x1="881.8" y1="1165.8" x2="891.3" y2="1165.8" stroke="#bdbdbd" stroke-width="2.6"/>
<line x1="881.8" y1="1183.1" x2="891.3" y2="1183.1" stroke="#bdbdbd" stroke-width="1.8"/>
<line x1="881.8" y1="1200.5" x2="891.3" y2="1200.5" stroke="#bdbdbd" stroke-width="1.8"/>
<line x1="881.8" y1="1215.5" x2="891.3" y2="1215.5" stroke="#bdbdbd" stroke-width="2"/>
<rect x="894.1" y="541.2" width="8.8" height="674.3" fill="#3f3f3f"/>
<rect x="900.3" y="541.2" width="2.6" height="674.3" fill="#8e8e8e"/>
<line x1="902.4" y1="541.2" x2="902.4" y2="1215.5" stroke="#b0b0b0" stroke-width="1"/>
<line x1="894.9" y1="541.2" x2="894.9" y2="1215.5" stroke="#c8c8c8" stroke-width="1.4"/>
<line x1="897.1" y1="541.2" x2="897.1" y2="1215.5" stroke="#4c4c4c" stroke-width="0.7"/>
<line x1="899.3" y1="541.2" x2="899.3" y2="1215.5" stroke="#4c4c4c" stroke-width="0.7"/>
<line x1="894.1" y1="541.2" x2="902.9" y2="541.2" stroke="#bdbdbd" stroke-width="2.6"/>
<line x1="894.1" y1="558.6" x2="902.9" y2="558.6" stroke="#bdbdbd" stroke-width="1.8"/>
<line x1="894.1" y1="575.9" x2="902.9" y2="575.9" stroke="#bdbdbd" stroke-width="1.8"/>
<line x1="894.1" y1="593.3" x2="902.9" y2="593.3" stroke="#bdbdbd" stroke-width="2.6"/>
<line x1="894.1" y1="610.6" x2="902.9" y2="610.6" stroke="#bdbdbd" stroke-width="1.8"/>
<line x1="894.1" y1="628.0" x2="902.9" y2="628.0" stroke="#bdbdbd" stroke-width="1.8"/>
<line x1="894.1" y1="645.3" x2="902.9" y2="645.3" stroke="#bdbdbd" stroke-width="2.6"/>
<line x1="894.1" y1="662.7" x2="902.9" y2="662.7" stroke="#bdbdbd" stroke-width="1.8"/>
<line x1="894.1" y1="680.0" x2="902.9" y2="680.0" stroke="#bdbdbd" stroke-width="1.8"/>
<line x1="894.1" y1="697.4" x2="902.9" y2="697.4" stroke="#bdbdbd" stroke-width="2.6"/>
<line x1="894.1" y1="714.7" x2="902.9" y2="714.7" stroke="#bdbdbd" stroke-width="1.8"/>
<line x1="894.1" y1="732.1" x2="902.9" y2="732.1" stroke="#bdbdbd" stroke-width="1.8"/>
<line x1="894.1" y1="749.4" x2="902.9" y2="749.4" stroke="#bdbdbd" stroke-width="2.6"/>
<line x1="894.1" y1="766.8" x2="902.9" y2="766.8" stroke="#bdbdbd" stroke-width="1.8"/>
<line x1="894.1" y1="784.1" x2="902.9" y2="784.1" stroke="#bdbdbd" stroke-width="1.8"/>
<line x1="894.1" y1="801.5" x2="902.9" y2="801.5" stroke="#bdbdbd" stroke-width="2.6"/>
<line x1="894.1" y1="818.8" x2="902.9" y2="818.8" stroke="#bdbdbd" stroke-width="1.8"/>
<line x1="894.1" y1="836.2" x2="902.9" y2="836.2" stroke="#bdbdbd" stroke-width="1.8"/>
<line x1="894.1" y1="853.5" x2="902.9" y2="853.5" stroke="#bdbdbd" stroke-width="2.6"/>
<line x1="894.1" y1="870.9" x2="902.9" y2="870.9" stroke="#bdbdbd" stroke-width="1.8"/>
<line x1="894.1" y1="888.2" x2="902.9" y2="888.2" stroke="#bdbdbd" stroke-width="1.8"/>
<line x1="894.1" y1="905.6" x2="902.9" y2="905.6" stroke="#bdbdbd" stroke-width="2.6"/>
<line x1="894.1" y1="922.9" x2="902.9" y2="922.9" stroke="#bdbdbd" stroke-width="1.8"/>
<line x1="894.1" y1="940.3" x2="902.9" y2="940.3" stroke="#bdbdbd" stroke-width="1.8"/>
<line x1="894.1" y1="957.6" x2="902.9" y2="957.6" stroke="#bdbdbd" stroke-width="2.6"/>
<line x1="894.1" y1="975.0" x2="902.9" y2="975.0" stroke="#bdbdbd" stroke-width="1.8"/>
<line x1="894.1" y1="992.3" x2="902.9" y2="992.3" stroke="#bdbdbd" stroke-width="1.8"/>
<line x1="894.1" y1="1009.7" x2="902.9" y2="1009.7" stroke="#bdbdbd" stroke-width="2.6"/>
<line x1="894.1" y1="1027.0" x2="902.9" y2="1027.0" stroke="#bdbdbd" stroke-width="1.8"/>
<line x1="894.1" y1="1044.4" x2="902.9" y2="1044.4" stroke="#bdbdbd" stroke-width="1.8"/>
<line x1="894.1" y1="1061.7" x2="902.9" y2="1061.7" stroke="#bdbdbd" stroke-width="2.6"/>
<line x1="894.1" y1="1079.1" x2="902.9" y2="1079.1" stroke="#bdbdbd" stroke-width="1.8"/>
<line x1="894.1" y1="1096.4" x2="902.9" y2="1096.4" stroke="#bdbdbd" stroke-width="1.8"/>
<line x1="894.1" y1="1113.8" x2="902.9" y2="1113.8" stroke="#bdbdbd" stroke-width="2.6"/>
<line x1="894.1" y1="1131.1" x2="902.9" y2="1131.1" stroke="#bdbdbd" stroke-width="1.8"/>
<line x1="894.1" y1="1148.5" x2="902.9" y2="1148.5" stroke="#bdbdbd" stroke-width="1.8"/>
<line x1="894.1" y1="1165.8" x2="902.9" y2="1165.8" stroke="#bdbdbd" stroke-width="2.6"/>
<line x1="894.1" y1="1183.1" x2="902.9" y2="1183.1" stroke="#bdbdbd" stroke-width="1.8"/>
<line x1="894.1" y1="1200.5" x2="902.9" y2="1200.5" stroke="#bdbdbd" stroke-width="1.8"/>
<line x1="894.1" y1="1215.5" x2="902.9" y2="1215.5" stroke="#bdbdbd" stroke-width="2"/>
<rect x="918.4" y="541.2" width="8.8" height="674.3" fill="#3f3f3f"/>
<rect x="918.4" y="541.2" width="2.6" height="674.3" fill="#8e8e8e"/>
<line x1="918.9" y1="541.2" x2="918.9" y2="1215.5" stroke="#b0b0b0" stroke-width="1"/>
<line x1="926.4" y1="541.2" x2="926.4" y2="1215.5" stroke="#c8c8c8" stroke-width="1.4"/>
<line x1="922.5" y1="541.2" x2="922.5" y2="1215.5" stroke="#4c4c4c" stroke-width="0.7"/>
<line x1="924.7" y1="541.2" x2="924.7" y2="1215.5" stroke="#4c4c4c" stroke-width="0.7"/>
<line x1="918.4" y1="541.2" x2="927.2" y2="541.2" stroke="#bdbdbd" stroke-width="2.6"/>
<line x1="918.4" y1="558.6" x2="927.2" y2="558.6" stroke="#bdbdbd" stroke-width="1.8"/>
<line x1="918.4" y1="575.9" x2="927.2" y2="575.9" stroke="#bdbdbd" stroke-width="1.8"/>
<line x1="918.4" y1="593.3" x2="927.2" y2="593.3" stroke="#bdbdbd" stroke-width="2.6"/>
<line x1="918.4" y1="610.6" x2="927.2" y2="610.6" stroke="#bdbdbd" stroke-width="1.8"/>
<line x1="918.4" y1="628.0" x2="927.2" y2="628.0" stroke="#bdbdbd" stroke-width="1.8"/>
<line x1="918.4" y1="645.3" x2="927.2" y2="645.3" stroke="#bdbdbd" stroke-width="2.6"/>
<line x1="918.4" y1="662.7" x2="927.2" y2="662.7" stroke="#bdbdbd" stroke-width="1.8"/>
<line x1="918.4" y1="680.0" x2="927.2" y2="680.0" stroke="#bdbdbd" stroke-width="1.8"/>
<line x1="918.4" y1="697.4" x2="927.2" y2="697.4" stroke="#bdbdbd" stroke-width="2.6"/>
<line x1="918.4" y1="714.7" x2="927.2" y2="714.7" stroke="#bdbdbd" stroke-width="1.8"/>
<line x1="918.4" y1="732.1" x2="927.2" y2="732.1" stroke="#bdbdbd" stroke-width="1.8"/>
<line x1="918.4" y1="749.4" x2="927.2" y2="749.4" stroke="#bdbdbd" stroke-width="2.6"/>
<line x1="918.4" y1="766.8" x2="927.2" y2="766.8" stroke="#bdbdbd" stroke-width="1.8"/>
<line x1="918.4" y1="784.1" x2="927.2" y2="784.1" stroke="#bdbdbd" stroke-width="1.8"/>
<line x1="918.4" y1="801.5" x2="927.2" y2="801.5" stroke="#bdbdbd" stroke-width="2.6"/>
<line x1="918.4" y1="818.8" x2="927.2" y2="818.8" stroke="#bdbdbd" stroke-width="1.8"/>
<line x1="918.4" y1="836.2" x2="927.2" y2="836.2" stroke="#bdbdbd" stroke-width="1.8"/>
<line x1="918.4" y1="853.5" x2="927.2" y2="853.5" stroke="#bdbdbd" stroke-width="2.6"/>
<line x1="918.4" y1="870.9" x2="927.2" y2="870.9" stroke="#bdbdbd" stroke-width="1.8"/>
<line x1="918.4" y1="888.2" x2="927.2" y2="888.2" stroke="#bdbdbd" stroke-width="1.8"/>
<line x1="918.4" y1="905.6" x2="927.2" y2="905.6" stroke="#bdbdbd" stroke-width="2.6"/>
<line x1="918.4" y1="922.9" x2="927.2" y2="922.9" stroke="#bdbdbd" stroke-width="1.8"/>
<line x1="918.4" y1="940.3" x2="927.2" y2="940.3" stroke="#bdbdbd" stroke-width="1.8"/>
<line x1="918.4" y1="957.6" x2="927.2" y2="957.6" stroke="#bdbdbd" stroke-width="2.6"/>
<line x1="918.4" y1="975.0" x2="927.2" y2="975.0" stroke="#bdbdbd" stroke-width="1.8"/>
<line x1="918.4" y1="992.3" x2="927.2" y2="992.3" stroke="#bdbdbd" stroke-width="1.8"/>
<line x1="918.4" y1="1009.7" x2="927.2" y2="1009.7" stroke="#bdbdbd" stroke-width="2.6"/>
<line x1="918.4" y1="1027.0" x2="927.2" y2="1027.0" stroke="#bdbdbd" stroke-width="1.8"/>
<line x1="918.4" y1="1044.4" x2="927.2" y2="1044.4" stroke="#bdbdbd" stroke-width="1.8"/>
<line x1="918.4" y1="1061.7" x2="927.2" y2="1061.7" stroke="#bdbdbd" stroke-width="2.6"/>
<line x1="918.4" y1="1079.1" x2="927.2" y2="1079.1" stroke="#bdbdbd" stroke-width="1.8"/>
<line x1="918.4" y1="1096.4" x2="927.2" y2="1096.4" stroke="#bdbdbd" stroke-width="1.8"/>
<line x1="918.4" y1="1113.8" x2="927.2" y2="1113.8" stroke="#bdbdbd" stroke-width="2.6"/>
<line x1="918.4" y1="1131.1" x2="927.2" y2="1131.1" stroke="#bdbdbd" stroke-width="1.8"/>
<line x1="918.4" y1="1148.5" x2="927.2" y2="1148.5" stroke="#bdbdbd" stroke-width="1.8"/>
<line x1="918.4" y1="1165.8" x2="927.2" y2="1165.8" stroke="#bdbdbd" stroke-width="2.6"/>
<line x1="918.4" y1="1183.1" x2="927.2" y2="1183.1" stroke="#bdbdbd" stroke-width="1.8"/>
<line x1="918.4" y1="1200.5" x2="927.2" y2="1200.5" stroke="#bdbdbd" stroke-width="1.8"/>
<line x1="918.4" y1="1215.5" x2="927.2" y2="1215.5" stroke="#bdbdbd" stroke-width="2"/>
<rect x="929.0" y="541.2" width="9.3" height="674.3" fill="#3f3f3f"/>
<rect x="935.7" y="541.2" width="2.6" height="674.3" fill="#8e8e8e"/>
<line x1="937.8" y1="541.2" x2="937.8" y2="1215.5" stroke="#b0b0b0" stroke-width="1"/>
<line x1="929.8" y1="541.2" x2="929.8" y2="1215.5" stroke="#c8c8c8" stroke-width="1.4"/>
<line x1="932.0" y1="541.2" x2="932.0" y2="1215.5" stroke="#4c4c4c" stroke-width="0.7"/>
<line x1="934.2" y1="541.2" x2="934.2" y2="1215.5" stroke="#4c4c4c" stroke-width="0.7"/>
<line x1="929.0" y1="541.2" x2="938.3" y2="541.2" stroke="#bdbdbd" stroke-width="2.6"/>
<line x1="929.0" y1="558.6" x2="938.3" y2="558.6" stroke="#bdbdbd" stroke-width="1.8"/>
<line x1="929.0" y1="575.9" x2="938.3" y2="575.9" stroke="#bdbdbd" stroke-width="1.8"/>
<line x1="929.0" y1="593.3" x2="938.3" y2="593.3" stroke="#bdbdbd" stroke-width="2.6"/>
<line x1="929.0" y1="610.6" x2="938.3" y2="610.6" stroke="#bdbdbd" stroke-width="1.8"/>
<line x1="929.0" y1="628.0" x2="938.3" y2="628.0" stroke="#bdbdbd" stroke-width="1.8"/>
<line x1="929.0" y1="645.3" x2="938.3" y2="645.3" stroke="#bdbdbd" stroke-width="2.6"/>
<line x1="929.0" y1="662.7" x2="938.3" y2="662.7" stroke="#bdbdbd" stroke-width="1.8"/>
<line x1="929.0" y1="680.0" x2="938.3" y2="680.0" stroke="#bdbdbd" stroke-width="1.8"/>
<line x1="929.0" y1="697.4" x2="938.3" y2="697.4" stroke="#bdbdbd" stroke-width="2.6"/>
<line x1="929.0" y1="714.7" x2="938.3" y2="714.7" stroke="#bdbdbd" stroke-width="1.8"/>
<line x1="929.0" y1="732.1" x2="938.3" y2="732.1" stroke="#bdbdbd" stroke-width="1.8"/>
<line x1="929.0" y1="749.4" x2="938.3" y2="749.4" stroke="#bdbdbd" stroke-width="2.6"/>
<line x1="929.0" y1="766.8" x2="938.3" y2="766.8" stroke="#bdbdbd" stroke-width="1.8"/>
<line x1="929.0" y1="784.1" x2="938.3" y2="784.1" stroke="#bdbdbd" stroke-width="1.8"/>
<line x1="929.0" y1="801.5" x2="938.3" y2="801.5" stroke="#bdbdbd" stroke-width="2.6"/>
<line x1="929.0" y1="818.8" x2="938.3" y2="818.8" stroke="#bdbdbd" stroke-width="1.8"/>
<line x1="929.0" y1="836.2" x2="938.3" y2="836.2" stroke="#bdbdbd" stroke-width="1.8"/>
<line x1="929.0" y1="853.5" x2="938.3" y2="853.5" stroke="#bdbdbd" stroke-width="2.6"/>
<line x1="929.0" y1="870.9" x2="938.3" y2="870.9" stroke="#bdbdbd" stroke-width="1.8"/>
<line x1="929.0" y1="888.2" x2="938.3" y2="888.2" stroke="#bdbdbd" stroke-width="1.8"/>
<line x1="929.0" y1="905.6" x2="938.3" y2="905.6" stroke="#bdbdbd" stroke-width="2.6"/>
<line x1="929.0" y1="922.9" x2="938.3" y2="922.9" stroke="#bdbdbd" stroke-width="1.8"/>
<line x1="929.0" y1="940.3" x2="938.3" y2="940.3" stroke="#bdbdbd" stroke-width="1.8"/>
<line x1="929.0" y1="957.6" x2="938.3" y2="957.6" stroke="#bdbdbd" stroke-width="2.6"/>
<line x1="929.0" y1="975.0" x2="938.3" y2="975.0" stroke="#bdbdbd" stroke-width="1.8"/>
<line x1="929.0" y1="992.3" x2="938.3" y2="992.3" stroke="#bdbdbd" stroke-width="1.8"/>
<line x1="929.0" y1="1009.7" x2="938.3" y2="1009.7" stroke="#bdbdbd" stroke-width="2.6"/>
<line x1="929.0" y1="1027.0" x2="938.3" y2="1027.0" stroke="#bdbdbd" stroke-width="1.8"/>
<line x1="929.0" y1="1044.4" x2="938.3" y2="1044.4" stroke="#bdbdbd" stroke-width="1.8"/>
<line x1="929.0" y1="1061.7" x2="938.3" y2="1061.7" stroke="#bdbdbd" stroke-width="2.6"/>
<line x1="929.0" y1="1079.1" x2="938.3" y2="1079.1" stroke="#bdbdbd" stroke-width="1.8"/>
<line x1="929.0" y1="1096.4" x2="938.3" y2="1096.4" stroke="#bdbdbd" stroke-width="1.8"/>
<line x1="929.0" y1="1113.8" x2="938.3" y2="1113.8" stroke="#bdbdbd" stroke-width="2.6"/>
<line x1="929.0" y1="1131.1" x2="938.3" y2="1131.1" stroke="#bdbdbd" stroke-width="1.8"/>
<line x1="929.0" y1="1148.5" x2="938.3" y2="1148.5" stroke="#bdbdbd" stroke-width="1.8"/>
<line x1="929.0" y1="1165.8" x2="938.3" y2="1165.8" stroke="#bdbdbd" stroke-width="2.6"/>
<line x1="929.0" y1="1183.1" x2="938.3" y2="1183.1" stroke="#bdbdbd" stroke-width="1.8"/>
<line x1="929.0" y1="1200.5" x2="938.3" y2="1200.5" stroke="#bdbdbd" stroke-width="1.8"/>
<line x1="929.0" y1="1215.5" x2="938.3" y2="1215.5" stroke="#bdbdbd" stroke-width="2"/>
<rect x="952.4" y="541.2" width="9.4" height="674.3" fill="#3f3f3f"/>
<rect x="952.4" y="541.2" width="2.6" height="674.3" fill="#8e8e8e"/>
<line x1="952.9" y1="541.2" x2="952.9" y2="1215.5" stroke="#b0b0b0" stroke-width="1"/>
<line x1="961.0" y1="541.2" x2="961.0" y2="1215.5" stroke="#c8c8c8" stroke-width="1.4"/>
<line x1="956.5" y1="541.2" x2="956.5" y2="1215.5" stroke="#4c4c4c" stroke-width="0.7"/>
<line x1="958.7" y1="541.2" x2="958.7" y2="1215.5" stroke="#4c4c4c" stroke-width="0.7"/>
<line x1="952.4" y1="541.2" x2="961.8" y2="541.2" stroke="#bdbdbd" stroke-width="2.6"/>
<line x1="952.4" y1="558.6" x2="961.8" y2="558.6" stroke="#bdbdbd" stroke-width="1.8"/>
<line x1="952.4" y1="575.9" x2="961.8" y2="575.9" stroke="#bdbdbd" stroke-width="1.8"/>
<line x1="952.4" y1="593.3" x2="961.8" y2="593.3" stroke="#bdbdbd" stroke-width="2.6"/>
<line x1="952.4" y1="610.6" x2="961.8" y2="610.6" stroke="#bdbdbd" stroke-width="1.8"/>
<line x1="952.4" y1="628.0" x2="961.8" y2="628.0" stroke="#bdbdbd" stroke-width="1.8"/>
<line x1="952.4" y1="645.3" x2="961.8" y2="645.3" stroke="#bdbdbd" stroke-width="2.6"/>
<line x1="952.4" y1="662.7" x2="961.8" y2="662.7" stroke="#bdbdbd" stroke-width="1.8"/>
<line x1="952.4" y1="680.0" x2="961.8" y2="680.0" stroke="#bdbdbd" stroke-width="1.8"/>
<line x1="952.4" y1="697.4" x2="961.8" y2="697.4" stroke="#bdbdbd" stroke-width="2.6"/>
<line x1="952.4" y1="714.7" x2="961.8" y2="714.7" stroke="#bdbdbd" stroke-width="1.8"/>
<line x1="952.4" y1="732.1" x2="961.8" y2="732.1" stroke="#bdbdbd" stroke-width="1.8"/>
<line x1="952.4" y1="749.4" x2="961.8" y2="749.4" stroke="#bdbdbd" stroke-width="2.6"/>
<line x1="952.4" y1="766.8" x2="961.8" y2="766.8" stroke="#bdbdbd" stroke-width="1.8"/>
<line x1="952.4" y1="784.1" x2="961.8" y2="784.1" stroke="#bdbdbd" stroke-width="1.8"/>
<line x1="952.4" y1="801.5" x2="961.8" y2="801.5" stroke="#bdbdbd" stroke-width="2.6"/>
<line x1="952.4" y1="818.8" x2="961.8" y2="818.8" stroke="#bdbdbd" stroke-width="1.8"/>
<line x1="952.4" y1="836.2" x2="961.8" y2="836.2" stroke="#bdbdbd" stroke-width="1.8"/>
<line x1="952.4" y1="853.5" x2="961.8" y2="853.5" stroke="#bdbdbd" stroke-width="2.6"/>
<line x1="952.4" y1="870.9" x2="961.8" y2="870.9" stroke="#bdbdbd" stroke-width="1.8"/>
<line x1="952.4" y1="888.2" x2="961.8" y2="888.2" stroke="#bdbdbd" stroke-width="1.8"/>
<line x1="952.4" y1="905.6" x2="961.8" y2="905.6" stroke="#bdbdbd" stroke-width="2.6"/>
<line x1="952.4" y1="922.9" x2="961.8" y2="922.9" stroke="#bdbdbd" stroke-width="1.8"/>
<line x1="952.4" y1="940.3" x2="961.8" y2="940.3" stroke="#bdbdbd" stroke-width="1.8"/>
<line x1="952.4" y1="957.6" x2="961.8" y2="957.6" stroke="#bdbdbd" stroke-width="2.6"/>
<line x1="952.4" y1="975.0" x2="961.8" y2="975.0" stroke="#bdbdbd" stroke-width="1.8"/>
<line x1="952.4" y1="992.3" x2="961.8" y2="992.3" stroke="#bdbdbd" stroke-width="1.8"/>
<line x1="952.4" y1="1009.7" x2="961.8" y2="1009.7" stroke="#bdbdbd" stroke-width="2.6"/>
<line x1="952.4" y1="1027.0" x2="961.8" y2="1027.0" stroke="#bdbdbd" stroke-width="1.8"/>
<line x1="952.4" y1="1044.4" x2="961.8" y2="1044.4" stroke="#bdbdbd" stroke-width="1.8"/>
<line x1="952.4" y1="1061.7" x2="961.8" y2="1061.7" stroke="#bdbdbd" stroke-width="2.6"/>
<line x1="952.4" y1="1079.1" x2="961.8" y2="1079.1" stroke="#bdbdbd" stroke-width="1.8"/>
<line x1="952.4" y1="1096.4" x2="961.8" y2="1096.4" stroke="#bdbdbd" stroke-width="1.8"/>
<line x1="952.4" y1="1113.8" x2="961.8" y2="1113.8" stroke="#bdbdbd" stroke-width="2.6"/>
<line x1="952.4" y1="1131.1" x2="961.8" y2="1131.1" stroke="#bdbdbd" stroke-width="1.8"/>
<line x1="952.4" y1="1148.5" x2="961.8" y2="1148.5" stroke="#bdbdbd" stroke-width="1.8"/>
<line x1="952.4" y1="1165.8" x2="961.8" y2="1165.8" stroke="#bdbdbd" stroke-width="2.6"/>
<line x1="952.4" y1="1183.1" x2="961.8" y2="1183.1" stroke="#bdbdbd" stroke-width="1.8"/>
<line x1="952.4" y1="1200.5" x2="961.8" y2="1200.5" stroke="#bdbdbd" stroke-width="1.8"/>
<line x1="952.4" y1="1215.5" x2="961.8" y2="1215.5" stroke="#bdbdbd" stroke-width="2"/>
<rect x="704.6" y="541.2" width="10.8" height="674.3" fill="#bdbdbd"/>
<line x1="705.2" y1="541.2" x2="705.2" y2="1215.5" stroke="#d0d0d0" stroke-width="1.2"/>
<line x1="714.8" y1="541.2" x2="714.8" y2="1215.5" stroke="#d0d0d0" stroke-width="1.2"/>
<rect x="706.8" y="543.2" width="2.2" height="1.6" fill="#4a4a4a"/>
<rect x="710.2" y="543.2" width="2.4" height="1.6" fill="#4a4a4a"/>
<rect x="706.8" y="546.6" width="2.2" height="1.6" fill="#4a4a4a"/>
<rect x="710.2" y="546.6" width="2.4" height="1.6" fill="#4a4a4a"/>
<rect x="706.8" y="553.0" width="1.8" height="4.0" fill="#4a4a4a"/>
<rect x="710.4" y="553.0" width="1.8" height="4.0" fill="#4a4a4a"/>
<rect x="706.8" y="559.5" width="2.2" height="1.6" fill="#4a4a4a"/>
<rect x="710.2" y="559.5" width="2.4" height="1.6" fill="#4a4a4a"/>
<rect x="706.8" y="562.9" width="6.4" height="1.2" fill="#6a6a6a"/>
<rect x="706.8" y="566.4" width="2.2" height="1.6" fill="#4a4a4a"/>
<rect x="710.2" y="566.4" width="2.4" height="1.6" fill="#4a4a4a"/>
<rect x="706.8" y="569.8" width="2.2" height="1.6" fill="#4a4a4a"/>
<rect x="710.2" y="569.8" width="2.4" height="1.6" fill="#4a4a4a"/>
<rect x="706.8" y="576.2" width="2.2" height="1.6" fill="#4a4a4a"/>
<rect x="710.2" y="576.2" width="2.4" height="1.6" fill="#4a4a4a"/>
<rect x="706.8" y="582.6" width="2.2" height="1.6" fill="#4a4a4a"/>
<rect x="710.2" y="582.6" width="2.4" height="1.6" fill="#4a4a4a"/>
<rect x="706.8" y="586.0" width="2.2" height="1.6" fill="#4a4a4a"/>
<rect x="710.2" y="586.0" width="2.4" height="1.6" fill="#4a4a4a"/>
<rect x="706.8" y="589.4" width="6.4" height="1.2" fill="#6a6a6a"/>
<rect x="706.8" y="592.9" width="2.2" height="1.6" fill="#4a4a4a"/>
<rect x="710.2" y="592.9" width="2.4" height="1.6" fill="#4a4a4a"/>
<rect x="706.8" y="596.3" width="1.8" height="4.0" fill="#4a4a4a"/>
<rect x="710.4" y="596.3" width="1.8" height="4.0" fill="#4a4a4a"/>
<rect x="706.8" y="602.8" width="2.2" height="1.6" fill="#4a4a4a"/>
<rect x="710.2" y="602.8" width="2.4" height="1.6" fill="#4a4a4a"/>
<rect x="706.8" y="606.2" width="2.2" height="1.6" fill="#4a4a4a"/>
<rect x="710.2" y="606.2" width="2.4" height="1.6" fill="#4a4a4a"/>
<rect x="706.8" y="609.6" width="6.4" height="5.5" fill="#555555"/>
<rect x="706.8" y="617.6" width="2.2" height="1.6" fill="#4a4a4a"/>
<rect x="710.2" y="617.6" width="2.4" height="1.6" fill="#4a4a4a"/>
<rect x="706.8" y="624.0" width="1.8" height="4.0" fill="#4a4a4a"/>
<rect x="710.4" y="624.0" width="1.8" height="4.0" fill="#4a4a4a"/>
<rect x="706.8" y="630.5" width="6.4" height="1.2" fill="#6a6a6a"/>
<rect x="706.8" y="634.0" width="2.2" height="1.6" fill="#4a4a4a"/>
<rect x="710.2" y="634.0" width="2.4" height="1.6" fill="#4a4a4a"/>
<rect x="706.8" y="640.4" width="6.4" height="1.2" fill="#6a6a6a"/>
<rect x="706.8" y="643.9" width="2.2" height="1.6" fill="#4a4a4a"/>
<rect x="710.2" y="643.9" width="2.4" height="1.6" fill="#4a4a4a"/>
<rect x="706.8" y="648.8" width="2.2" height="1.6" fill="#4a4a4a"/>
<rect x="710.2" y="648.8" width="2.4" height="1.6" fill="#4a4a4a"/>
<rect x="706.8" y="652.2" width="2.2" height="1.6" fill="#4a4a4a"/>
<rect x="710.2" y="652.2" width="2.4" height="1.6" fill="#4a4a4a"/>
<rect x="706.8" y="657.1" width="6.4" height="1.2" fill="#6a6a6a"/>
<rect x="706.8" y="660.6" width="2.2" height="1.6" fill="#4a4a4a"/>
<rect x="710.2" y="660.6" width="2.4" height="1.6" fill="#4a4a4a"/>
<rect x="706.8" y="665.5" width="2.2" height="1.6" fill="#4a4a4a"/>
<rect x="710.2" y="665.5" width="2.4" height="1.6" fill="#4a4a4a"/>
<rect x="706.8" y="671.9" width="1.8" height="4.0" fill="#4a4a4a"/>
<rect x="710.4" y="671.9" width="1.8" height="4.0" fill="#4a4a4a"/>
<rect x="706.8" y="678.4" width="2.2" height="1.6" fill="#4a4a4a"/>
<rect x="710.2" y="678.4" width="2.4" height="1.6" fill="#4a4a4a"/>
<rect x="706.8" y="684.8" width="1.8" height="4.0" fill="#4a4a4a"/>
<rect x="710.4" y="684.8" width="1.8" height="4.0" fill="#4a4a4a"/>
<rect x="706.8" y="691.3" width="6.4" height="1.2" fill="#6a6a6a"/>
<rect x="706.8" y="694.8" width="1.8" height="4.0" fill="#4a4a4a"/>
<rect x="710.4" y="694.8" width="1.8" height="4.0" fill="#4a4a4a"/>
<rect x="706.8" y="701.3" width="6.4" height="1.2" fill="#6a6a6a"/>
<rect x="706.8" y="704.8" width="6.4" height="1.2" fill="#6a6a6a"/>
<rect x="706.8" y="708.3" width="6.4" height="1.2" fill="#6a6a6a"/>
<rect x="706.8" y="711.8" width="1.8" height="4.0" fill="#4a4a4a"/>
<rect x="710.4" y="711.8" width="1.8" height="4.0" fill="#4a4a4a"/>
<rect x="706.8" y="718.3" width="2.2" height="1.6" fill="#4a4a4a"/>
<rect x="710.2" y="718.3" width="2.4" height="1.6" fill="#4a4a4a"/>
<rect x="706.8" y="723.2" width="6.4" height="1.2" fill="#6a6a6a"/>
<rect x="706.8" y="726.7" width="6.4" height="1.2" fill="#6a6a6a"/>
<rect x="706.8" y="730.2" width="1.8" height="4.0" fill="#4a4a4a"/>
<rect x="710.4" y="730.2" width="1.8" height="4.0" fill="#4a4a4a"/>
<rect x="706.8" y="736.7" width="1.8" height="4.0" fill="#4a4a4a"/>
<rect x="710.4" y="736.7" width="1.8" height="4.0" fill="#4a4a4a"/>
<rect x="706.8" y="743.2" width="2.2" height="1.6" fill="#4a4a4a"/>
<rect x="710.2" y="743.2" width="2.4" height="1.6" fill="#4a4a4a"/>
<rect x="706.8" y="748.1" width="2.2" height="1.6" fill="#4a4a4a"/>
<rect x="710.2" y="748.1" width="2.4" height="1.6" fill="#4a4a4a"/>
<rect x="706.8" y="751.5" width="2.2" height="1.6" fill="#4a4a4a"/>
<rect x="710.2" y="751.5" width="2.4" height="1.6" fill="#4a4a4a"/>
<rect x="706.8" y="757.9" width="2.2" height="1.6" fill="#4a4a4a"/>
<rect x="710.2" y="757.9" width="2.4" height="1.6" fill="#4a4a4a"/>
<rect x="706.8" y="761.3" width="2.2" height="1.6" fill="#4a4a4a"/>
<rect x="710.2" y="761.3" width="2.4" height="1.6" fill="#4a4a4a"/>
<rect x="706.8" y="764.7" width="2.2" height="1.6" fill="#4a4a4a"/>
<rect x="710.2" y="764.7" width="2.4" height="1.6" fill="#4a4a4a"/>
<rect x="706.8" y="771.1" width="6.4" height="5.5" fill="#555555"/>
<rect x="706.8" y="779.1" width="6.4" height="1.2" fill="#6a6a6a"/>
<rect x="706.8" y="782.6" width="2.2" height="1.6" fill="#4a4a4a"/>
<rect x="710.2" y="782.6" width="2.4" height="1.6" fill="#4a4a4a"/>
<rect x="706.8" y="786.0" width="2.2" height="1.6" fill="#4a4a4a"/>
<rect x="710.2" y="786.0" width="2.4" height="1.6" fill="#4a4a4a"/>
<rect x="706.8" y="790.9" width="1.8" height="4.0" fill="#4a4a4a"/>
<rect x="710.4" y="790.9" width="1.8" height="4.0" fill="#4a4a4a"/>
<rect x="706.8" y="797.4" width="6.4" height="1.2" fill="#6a6a6a"/>
<rect x="706.8" y="800.9" width="2.2" height="1.6" fill="#4a4a4a"/>
<rect x="710.2" y="800.9" width="2.4" height="1.6" fill="#4a4a4a"/>
<rect x="706.8" y="804.3" width="6.4" height="1.2" fill="#6a6a6a"/>
<rect x="706.8" y="807.8" width="2.2" height="1.6" fill="#4a4a4a"/>
<rect x="710.2" y="807.8" width="2.4" height="1.6" fill="#4a4a4a"/>
<rect x="706.8" y="811.2" width="2.2" height="1.6" fill="#4a4a4a"/>
<rect x="710.2" y="811.2" width="2.4" height="1.6" fill="#4a4a4a"/>
<rect x="706.8" y="814.6" width="6.4" height="1.2" fill="#6a6a6a"/>
<rect x="706.8" y="818.1" width="6.4" height="1.2" fill="#6a6a6a"/>
<rect x="706.8" y="821.6" width="2.2" height="1.6" fill="#4a4a4a"/>
<rect x="710.2" y="821.6" width="2.4" height="1.6" fill="#4a4a4a"/>
<rect x="706.8" y="826.5" width="2.2" height="1.6" fill="#4a4a4a"/>
<rect x="710.2" y="826.5" width="2.4" height="1.6" fill="#4a4a4a"/>
<rect x="706.8" y="829.9" width="6.4" height="1.2" fill="#6a6a6a"/>
<rect x="706.8" y="833.4" width="2.2" height="1.6" fill="#4a4a4a"/>
<rect x="710.2" y="833.4" width="2.4" height="1.6" fill="#4a4a4a"/>
<rect x="706.8" y="838.3" width="6.4" height="1.2" fill="#6a6a6a"/>
<rect x="706.8" y="841.8" width="6.4" height="1.2" fill="#6a6a6a"/>
<rect x="706.8" y="845.3" width="2.2" height="1.6" fill="#4a4a4a"/>
<rect x="710.2" y="845.3" width="2.4" height="1.6" fill="#4a4a4a"/>
<rect x="706.8" y="851.7" width="6.4" height="1.2" fill="#6a6a6a"/>
<rect x="706.8" y="855.2" width="2.2" height="1.6" fill="#4a4a4a"/>
<rect x="710.2" y="855.2" width="2.4" height="1.6" fill="#4a4a4a"/>
<rect x="706.8" y="858.6" width="1.8" height="4.0" fill="#4a4a4a"/>
<rect x="710.4" y="858.6" width="1.8" height="4.0" fill="#4a4a4a"/>
<rect x="706.8" y="865.1" width="6.4" height="1.2" fill="#6a6a6a"/>
<rect x="706.8" y="868.6" width="2.2" height="1.6" fill="#4a4a4a"/>
<rect x="710.2" y="868.6" width="2.4" height="1.6" fill="#4a4a4a"/>
<rect x="706.8" y="875.0" width="1.8" height="4.0" fill="#4a4a4a"/>
<rect x="710.4" y="875.0" width="1.8" height="4.0" fill="#4a4a4a"/>
<rect x="706.8" y="881.5" width="1.8" height="4.0" fill="#4a4a4a"/>
<rect x="710.4" y="881.5" width="1.8" height="4.0" fill="#4a4a4a"/>
<rect x="706.8" y="888.0" width="6.4" height="1.2" fill="#6a6a6a"/>
<rect x="706.8" y="891.5" width="2.2" height="1.6" fill="#4a4a4a"/>
<rect x="710.2" y="891.5" width="2.4" height="1.6" fill="#4a4a4a"/>
<rect x="706.8" y="896.4" width="2.2" height="1.6" fill="#4a4a4a"/>
<rect x="710.2" y="896.4" width="2.4" height="1.6" fill="#4a4a4a"/>
<rect x="706.8" y="901.3" width="2.2" height="1.6" fill="#4a4a4a"/>
<rect x="710.2" y="901.3" width="2.4" height="1.6" fill="#4a4a4a"/>
<rect x="706.8" y="907.7" width="6.4" height="1.2" fill="#6a6a6a"/>
<rect x="706.8" y="911.2" width="2.2" height="1.6" fill="#4a4a4a"/>
<rect x="710.2" y="911.2" width="2.4" height="1.6" fill="#4a4a4a"/>
<rect x="706.8" y="917.6" width="1.8" height="4.0" fill="#4a4a4a"/>
<rect x="710.4" y="917.6" width="1.8" height="4.0" fill="#4a4a4a"/>
<rect x="706.8" y="924.1" width="1.8" height="4.0" fill="#4a4a4a"/>
<rect x="710.4" y="924.1" width="1.8" height="4.0" fill="#4a4a4a"/>
<rect x="706.8" y="930.6" width="2.2" height="1.6" fill="#4a4a4a"/>
<rect x="710.2" y="930.6" width="2.4" height="1.6" fill="#4a4a4a"/>
<rect x="706.8" y="935.5" width="2.2" height="1.6" fill="#4a4a4a"/>
<rect x="710.2" y="935.5" width="2.4" height="1.6" fill="#4a4a4a"/>
<rect x="706.8" y="940.4" width="1.8" height="4.0" fill="#4a4a4a"/>
<rect x="710.4" y="940.4" width="1.8" height="4.0" fill="#4a4a4a"/>
<rect x="706.8" y="946.9" width="2.2" height="1.6" fill="#4a4a4a"/>
<rect x="710.2" y="946.9" width="2.4" height="1.6" fill="#4a4a4a"/>
<rect x="706.8" y="953.3" width="2.2" height="1.6" fill="#4a4a4a"/>
<rect x="710.2" y="953.3" width="2.4" height="1.6" fill="#4a4a4a"/>
<rect x="706.8" y="956.7" width="6.4" height="1.2" fill="#6a6a6a"/>
<rect x="706.8" y="960.2" width="2.2" height="1.6" fill="#4a4a4a"/>
<rect x="710.2" y="960.2" width="2.4" height="1.6" fill="#4a4a4a"/>
<rect x="706.8" y="965.1" width="2.2" height="1.6" fill="#4a4a4a"/>
<rect x="710.2" y="965.1" width="2.4" height="1.6" fill="#4a4a4a"/>
<rect x="706.8" y="971.5" width="2.2" height="1.6" fill="#4a4a4a"/>
<rect x="710.2" y="971.5" width="2.4" height="1.6" fill="#4a4a4a"/>
<rect x="706.8" y="976.4" width="2.2" height="1.6" fill="#4a4a4a"/>
<rect x="710.2" y="976.4" width="2.4" height="1.6" fill="#4a4a4a"/>
<rect x="706.8" y="979.8" width="2.2" height="1.6" fill="#4a4a4a"/>
<rect x="710.2" y="979.8" width="2.4" height="1.6" fill="#4a4a4a"/>
<rect x="706.8" y="984.7" width="6.4" height="5.5" fill="#555555"/>
<rect x="706.8" y="992.7" width="2.2" height="1.6" fill="#4a4a4a"/>
<rect x="710.2" y="992.7" width="2.4" height="1.6" fill="#4a4a4a"/>
<rect x="706.8" y="999.1" width="2.2" height="1.6" fill="#4a4a4a"/>
<rect x="710.2" y="999.1" width="2.4" height="1.6" fill="#4a4a4a"/>
<rect x="706.8" y="1002.5" width="6.4" height="1.2" fill="#6a6a6a"/>
<rect x="706.8" y="1006.0" width="1.8" height="4.0" fill="#4a4a4a"/>
<rect x="710.4" y="1006.0" width="1.8" height="4.0" fill="#4a4a4a"/>
<rect x="706.8" y="1012.5" width="2.2" height="1.6" fill="#4a4a4a"/>
<rect x="710.2" y="1012.5" width="2.4" height="1.6" fill="#4a4a4a"/>
<rect x="706.8" y="1015.9" width="1.8" height="4.0" fill="#4a4a4a"/>
<rect x="710.4" y="1015.9" width="1.8" height="4.0" fill="#4a4a4a"/>
<rect x="706.8" y="1022.4" width="2.2" height="1.6" fill="#4a4a4a"/>
<rect x="710.2" y="1022.4" width="2.4" height="1.6" fill="#4a4a4a"/>
<rect x="706.8" y="1027.3" width="2.2" height="1.6" fill="#4a4a4a"/>
<rect x="710.2" y="1027.3" width="2.4" height="1.6" fill="#4a4a4a"/>
<rect x="706.8" y="1033.7" width="1.8" height="4.0" fill="#4a4a4a"/>
<rect x="710.4" y="1033.7" width="1.8" height="4.0" fill="#4a4a4a"/>
<rect x="706.8" y="1040.2" width="2.2" height="1.6" fill="#4a4a4a"/>
<rect x="710.2" y="1040.2" width="2.4" height="1.6" fill="#4a4a4a"/>
<rect x="706.8" y="1045.1" width="6.4" height="1.2" fill="#6a6a6a"/>
<rect x="706.8" y="1048.6" width="1.8" height="4.0" fill="#4a4a4a"/>
<rect x="710.4" y="1048.6" width="1.8" height="4.0" fill="#4a4a4a"/>
<rect x="706.8" y="1055.1" width="2.2" height="1.6" fill="#4a4a4a"/>
<rect x="710.2" y="1055.1" width="2.4" height="1.6" fill="#4a4a4a"/>
<rect x="706.8" y="1058.5" width="2.2" height="1.6" fill="#4a4a4a"/>
<rect x="710.2" y="1058.5" width="2.4" height="1.6" fill="#4a4a4a"/>
<rect x="706.8" y="1061.9" width="6.4" height="1.2" fill="#6a6a6a"/>
<rect x="706.8" y="1065.4" width="2.2" height="1.6" fill="#4a4a4a"/>
<rect x="710.2" y="1065.4" width="2.4" height="1.6" fill="#4a4a4a"/>
<rect x="706.8" y="1068.8" width="6.4" height="5.5" fill="#555555"/>
<rect x="706.8" y="1076.8" width="2.2" height="1.6" fill="#4a4a4a"/>
<rect x="710.2" y="1076.8" width="2.4" height="1.6" fill="#4a4a4a"/>
<rect x="706.8" y="1080.2" width="2.2" height="1.6" fill="#4a4a4a"/>
<rect x="710.2" y="1080.2" width="2.4" height="1.6" fill="#4a4a4a"/>
<rect x="706.8" y="1083.6" width="6.4" height="1.2" fill="#6a6a6a"/>
<rect x="706.8" y="1087.1" width="2.2" height="1.6" fill="#4a4a4a"/>
<rect x="710.2" y="1087.1" width="2.4" height="1.6" fill="#4a4a4a"/>
<rect x="706.8" y="1090.5" width="6.4" height="5.5" fill="#555555"/>
<rect x="706.8" y="1098.5" width="2.2" height="1.6" fill="#4a4a4a"/>
<rect x="710.2" y="1098.5" width="2.4" height="1.6" fill="#4a4a4a"/>
<rect x="706.8" y="1101.9" width="2.2" height="1.6" fill="#4a4a4a"/>
<rect x="710.2" y="1101.9" width="2.4" height="1.6" fill="#4a4a4a"/>
<rect x="706.8" y="1106.8" width="2.2" height="1.6" fill="#4a4a4a"/>
<rect x="710.2" y="1106.8" width="2.4" height="1.6" fill="#4a4a4a"/>
<rect x="706.8" y="1113.2" width="2.2" height="1.6" fill="#4a4a4a"/>
<rect x="710.2" y="1113.2" width="2.4" height="1.6" fill="#4a4a4a"/>
<rect x="706.8" y="1119.6" width="2.2" height="1.6" fill="#4a4a4a"/>
<rect x="710.2" y="1119.6" width="2.4" height="1.6" fill="#4a4a4a"/>
<rect x="706.8" y="1126.0" width="2.2" height="1.6" fill="#4a4a4a"/>
<rect x="710.2" y="1126.0" width="2.4" height="1.6" fill="#4a4a4a"/>
<rect x="706.8" y="1129.4" width="2.2" height="1.6" fill="#4a4a4a"/>
<rect x="710.2" y="1129.4" width="2.4" height="1.6" fill="#4a4a4a"/>
<rect x="706.8" y="1135.8" width="1.8" height="4.0" fill="#4a4a4a"/>
<rect x="710.4" y="1135.8" width="1.8" height="4.0" fill="#4a4a4a"/>
<rect x="706.8" y="1142.3" width="6.4" height="1.2" fill="#6a6a6a"/>
<rect x="706.8" y="1145.8" width="1.8" height="4.0" fill="#4a4a4a"/>
<rect x="710.4" y="1145.8" width="1.8" height="4.0" fill="#4a4a4a"/>
<rect x="706.8" y="1152.3" width="2.2" height="1.6" fill="#4a4a4a"/>
<rect x="710.2" y="1152.3" width="2.4" height="1.6" fill="#4a4a4a"/>
<rect x="706.8" y="1158.7" width="6.4" height="5.5" fill="#555555"/>
<rect x="706.8" y="1166.7" width="1.8" height="4.0" fill="#4a4a4a"/>
<rect x="710.4" y="1166.7" width="1.8" height="4.0" fill="#4a4a4a"/>
<rect x="706.8" y="1173.2" width="2.2" height="1.6" fill="#4a4a4a"/>
<rect x="710.2" y="1173.2" width="2.4" height="1.6" fill="#4a4a4a"/>
<rect x="706.8" y="1178.1" width="2.2" height="1.6" fill="#4a4a4a"/>
<rect x="710.2" y="1178.1" width="2.4" height="1.6" fill="#4a4a4a"/>
<rect x="706.8" y="1181.5" width="6.4" height="1.2" fill="#6a6a6a"/>
<rect x="706.8" y="1185.0" width="6.4" height="1.2" fill="#6a6a6a"/>
<rect x="706.8" y="1188.5" width="6.4" height="1.2" fill="#6a6a6a"/>
<rect x="706.8" y="1192.0" width="2.2" height="1.6" fill="#4a4a4a"/>
<rect x="710.2" y="1192.0" width="2.4" height="1.6" fill="#4a4a4a"/>
<rect x="706.8" y="1195.4" width="2.2" height="1.6" fill="#4a4a4a"/>
<rect x="710.2" y="1195.4" width="2.4" height="1.6" fill="#4a4a4a"/>
<rect x="706.8" y="1198.8" width="6.4" height="1.2" fill="#6a6a6a"/>
<rect x="706.8" y="1202.3" width="6.4" height="1.2" fill="#6a6a6a"/>
<rect x="706.8" y="1205.8" width="1.8" height="4.0" fill="#4a4a4a"/>
<rect x="710.4" y="1205.8" width="1.8" height="4.0" fill="#4a4a4a"/>
<rect x="715.4" y="541.2" width="10.8" height="674.3" fill="#bdbdbd"/>
<line x1="716.0" y1="541.2" x2="716.0" y2="1215.5" stroke="#d0d0d0" stroke-width="1.2"/>
<line x1="725.6" y1="541.2" x2="725.6" y2="1215.5" stroke="#d0d0d0" stroke-width="1.2"/>
<line x1="715.2" y1="541.2" x2="715.2" y2="1215.5" stroke="#5a5a5a" stroke-width="0.8"/>
<rect x="717.6" y="543.2" width="2.2" height="1.6" fill="#4a4a4a"/>
<rect x="721.0" y="543.2" width="2.4" height="1.6" fill="#4a4a4a"/>
<rect x="717.6" y="546.6" width="1.8" height="4.0" fill="#4a4a4a"/>
<rect x="721.2" y="546.6" width="1.8" height="4.0" fill="#4a4a4a"/>
<rect x="717.6" y="553.1" width="2.2" height="1.6" fill="#4a4a4a"/>
<rect x="721.0" y="553.1" width="2.4" height="1.6" fill="#4a4a4a"/>
<rect x="717.6" y="556.5" width="2.2" height="1.6" fill="#4a4a4a"/>
<rect x="721.0" y="556.5" width="2.4" height="1.6" fill="#4a4a4a"/>
<rect x="717.6" y="562.9" width="2.2" height="1.6" fill="#4a4a4a"/>
<rect x="721.0" y="562.9" width="2.4" height="1.6" fill="#4a4a4a"/>
<rect x="717.6" y="567.8" width="6.4" height="5.5" fill="#555555"/>
<rect x="717.6" y="575.8" width="6.4" height="5.5" fill="#555555"/>
<rect x="717.6" y="583.8" width="2.2" height="1.6" fill="#4a4a4a"/>
<rect x="721.0" y="583.8" width="2.4" height="1.6" fill="#4a4a4a"/>
<rect x="717.6" y="588.7" width="2.2" height="1.6" fill="#4a4a4a"/>
<rect x="721.0" y="588.7" width="2.4" height="1.6" fill="#4a4a4a"/>
<rect x="717.6" y="592.1" width="6.4" height="5.5" fill="#555555"/>
<rect x="717.6" y="600.1" width="2.2" height="1.6" fill="#4a4a4a"/>
<rect x="721.0" y="600.1" width="2.4" height="1.6" fill="#4a4a4a"/>
<rect x="717.6" y="603.5" width="6.4" height="5.5" fill="#555555"/>
<rect x="717.6" y="611.5" width="6.4" height="5.5" fill="#555555"/>
<rect x="717.6" y="619.5" width="6.4" height="5.5" fill="#555555"/>
<rect x="717.6" y="627.5" width="2.2" height="1.6" fill="#4a4a4a"/>
<rect x="721.0" y="627.5" width="2.4" height="1.6" fill="#4a4a4a"/>
<rect x="717.6" y="632.4" width="2.2" height="1.6" fill="#4a4a4a"/>
<rect x="721.0" y="632.4" width="2.4" height="1.6" fill="#4a4a4a"/>
<rect x="717.6" y="637.3" width="2.2" height="1.6" fill="#4a4a4a"/>
<rect x="721.0" y="637.3" width="2.4" height="1.6" fill="#4a4a4a"/>
<rect x="717.6" y="642.2" width="1.8" height="4.0" fill="#4a4a4a"/>
<rect x="721.2" y="642.2" width="1.8" height="4.0" fill="#4a4a4a"/>
<rect x="717.6" y="648.7" width="2.2" height="1.6" fill="#4a4a4a"/>
<rect x="721.0" y="648.7" width="2.4" height="1.6" fill="#4a4a4a"/>
<rect x="717.6" y="652.1" width="2.2" height="1.6" fill="#4a4a4a"/>
<rect x="721.0" y="652.1" width="2.4" height="1.6" fill="#4a4a4a"/>
<rect x="717.6" y="657.0" width="2.2" height="1.6" fill="#4a4a4a"/>
<rect x="721.0" y="657.0" width="2.4" height="1.6" fill="#4a4a4a"/>
<rect x="717.6" y="661.9" width="2.2" height="1.6" fill="#4a4a4a"/>
<rect x="721.0" y="661.9" width="2.4" height="1.6" fill="#4a4a4a"/>
<rect x="717.6" y="666.8" width="1.8" height="4.0" fill="#4a4a4a"/>
<rect x="721.2" y="666.8" width="1.8" height="4.0" fill="#4a4a4a"/>
<rect x="717.6" y="673.3" width="6.4" height="1.2" fill="#6a6a6a"/>
<rect x="717.6" y="676.8" width="6.4" height="5.5" fill="#555555"/>
<rect x="717.6" y="684.8" width="2.2" height="1.6" fill="#4a4a4a"/>
<rect x="721.0" y="684.8" width="2.4" height="1.6" fill="#4a4a4a"/>
<rect x="717.6" y="691.2" width="2.2" height="1.6" fill="#4a4a4a"/>
<rect x="721.0" y="691.2" width="2.4" height="1.6" fill="#4a4a4a"/>
<rect x="717.6" y="696.1" width="2.2" height="1.6" fill="#4a4a4a"/>
<rect x="721.0" y="696.1" width="2.4" height="1.6" fill="#4a4a4a"/>
<rect x="717.6" y="699.5" width="2.2" height="1.6" fill="#4a4a4a"/>
<rect x="721.0" y="699.5" width="2.4" height="1.6" fill="#4a4a4a"/>
<rect x="717.6" y="704.4" width="6.4" height="5.5" fill="#555555"/>
<rect x="717.6" y="712.4" width="2.2" height="1.6" fill="#4a4a4a"/>
<rect x="721.0" y="712.4" width="2.4" height="1.6" fill="#4a4a4a"/>
<rect x="717.6" y="715.8" width="2.2" height="1.6" fill="#4a4a4a"/>
<rect x="721.0" y="715.8" width="2.4" height="1.6" fill="#4a4a4a"/>
<rect x="717.6" y="720.7" width="2.2" height="1.6" fill="#4a4a4a"/>
<rect x="721.0" y="720.7" width="2.4" height="1.6" fill="#4a4a4a"/>
<rect x="717.6" y="727.1" width="1.8" height="4.0" fill="#4a4a4a"/>
<rect x="721.2" y="727.1" width="1.8" height="4.0" fill="#4a4a4a"/>
<rect x="717.6" y="733.6" width="2.2" height="1.6" fill="#4a4a4a"/>
<rect x="721.0" y="733.6" width="2.4" height="1.6" fill="#4a4a4a"/>
<rect x="717.6" y="737.0" width="2.2" height="1.6" fill="#4a4a4a"/>
<rect x="721.0" y="737.0" width="2.4" height="1.6" fill="#4a4a4a"/>
<rect x="717.6" y="740.4" width="1.8" height="4.0" fill="#4a4a4a"/>
<rect x="721.2" y="740.4" width="1.8" height="4.0" fill="#4a4a4a"/>
<rect x="717.6" y="746.9" width="2.2" height="1.6" fill="#4a4a4a"/>
<rect x="721.0" y="746.9" width="2.4" height="1.6" fill="#4a4a4a"/>
<rect x="717.6" y="750.3" width="2.2" height="1.6" fill="#4a4a4a"/>
<rect x="721.0" y="750.3" width="2.4" height="1.6" fill="#4a4a4a"/>
<rect x="717.6" y="755.2" width="1.8" height="4.0" fill="#4a4a4a"/>
<rect x="721.2" y="755.2" width="1.8" height="4.0" fill="#4a4a4a"/>
<rect x="717.6" y="761.7" width="2.2" height="1.6" fill="#4a4a4a"/>
<rect x="721.0" y="761.7" width="2.4" height="1.6" fill="#4a4a4a"/>
<rect x="717.6" y="766.6" width="2.2" height="1.6" fill="#4a4a4a"/>
<rect x="721.0" y="766.6" width="2.4" height="1.6" fill="#4a4a4a"/>
<rect x="717.6" y="770.0" width="1.8" height="4.0" fill="#4a4a4a"/>
<rect x="721.2" y="770.0" width="1.8" height="4.0" fill="#4a4a4a"/>
<rect x="717.6" y="776.5" width="2.2" height="1.6" fill="#4a4a4a"/>
<rect x="721.0" y="776.5" width="2.4" height="1.6" fill="#4a4a4a"/>
<rect x="717.6" y="779.9" width="2.2" height="1.6" fill="#4a4a4a"/>
<rect x="721.0" y="779.9" width="2.4" height="1.6" fill="#4a4a4a"/>
<rect x="717.6" y="783.3" width="2.2" height="1.6" fill="#4a4a4a"/>
<rect x="721.0" y="783.3" width="2.4" height="1.6" fill="#4a4a4a"/>
<rect x="717.6" y="786.7" width="2.2" height="1.6" fill="#4a4a4a"/>
<rect x="721.0" y="786.7" width="2.4" height="1.6" fill="#4a4a4a"/>
<rect x="717.6" y="790.1" width="6.4" height="1.2" fill="#6a6a6a"/>
<rect x="717.6" y="793.6" width="6.4" height="1.2" fill="#6a6a6a"/>
<rect x="717.6" y="797.1" width="1.8" height="4.0" fill="#4a4a4a"/>
<rect x="721.2" y="797.1" width="1.8" height="4.0" fill="#4a4a4a"/>
<rect x="717.6" y="803.6" width="6.4" height="1.2" fill="#6a6a6a"/>
<rect x="717.6" y="807.1" width="2.2" height="1.6" fill="#4a4a4a"/>
<rect x="721.0" y="807.1" width="2.4" height="1.6" fill="#4a4a4a"/>
<rect x="717.6" y="812.0" width="2.2" height="1.6" fill="#4a4a4a"/>
<rect x="721.0" y="812.0" width="2.4" height="1.6" fill="#4a4a4a"/>
<rect x="717.6" y="815.4" width="6.4" height="5.5" fill="#555555"/>
<rect x="717.6" y="823.4" width="2.2" height="1.6" fill="#4a4a4a"/>
<rect x="721.0" y="823.4" width="2.4" height="1.6" fill="#4a4a4a"/>
<rect x="717.6" y="826.8" width="2.2" height="1.6" fill="#4a4a4a"/>
<rect x="721.0" y="826.8" width="2.4" height="1.6" fill="#4a4a4a"/>
<rect x="717.6" y="830.2" width="6.4" height="1.2" fill="#6a6a6a"/>
<rect x="717.6" y="833.7" width="2.2" height="1.6" fill="#4a4a4a"/>
<rect x="721.0" y="833.7" width="2.4" height="1.6" fill="#4a4a4a"/>
<rect x="717.6" y="838.6" width="2.2" height="1.6" fill="#4a4a4a"/>
<rect x="721.0" y="838.6" width="2.4" height="1.6" fill="#4a4a4a"/>
<rect x="717.6" y="842.0" width="2.2" height="1.6" fill="#4a4a4a"/>
<rect x="721.0" y="842.0" width="2.4" height="1.6" fill="#4a4a4a"/>
<rect x="717.6" y="845.4" width="2.2" height="1.6" fill="#4a4a4a"/>
<rect x="721.0" y="845.4" width="2.4" height="1.6" fill="#4a4a4a"/>
<rect x="717.6" y="851.8" width="2.2" height="1.6" fill="#4a4a4a"/>
<rect x="721.0" y="851.8" width="2.4" height="1.6" fill="#4a4a4a"/>
<rect x="717.6" y="856.7" width="6.4" height="1.2" fill="#6a6a6a"/>
<rect x="717.6" y="860.2" width="1.8" height="4.0" fill="#4a4a4a"/>
<rect x="721.2" y="860.2" width="1.8" height="4.0" fill="#4a4a4a"/>
<rect x="717.6" y="866.7" width="2.2" height="1.6" fill="#4a4a4a"/>
<rect x="721.0" y="866.7" width="2.4" height="1.6" fill="#4a4a4a"/>
<rect x="717.6" y="870.1" width="2.2" height="1.6" fill="#4a4a4a"/>
<rect x="721.0" y="870.1" width="2.4" height="1.6" fill="#4a4a4a"/>
<rect x="717.6" y="873.5" width="2.2" height="1.6" fill="#4a4a4a"/>
<rect x="721.0" y="873.5" width="2.4" height="1.6" fill="#4a4a4a"/>
<rect x="717.6" y="876.9" width="2.2" height="1.6" fill="#4a4a4a"/>
<rect x="721.0" y="876.9" width="2.4" height="1.6" fill="#4a4a4a"/>
<rect x="717.6" y="880.3" width="1.8" height="4.0" fill="#4a4a4a"/>
<rect x="721.2" y="880.3" width="1.8" height="4.0" fill="#4a4a4a"/>
<rect x="717.6" y="886.8" width="6.4" height="1.2" fill="#6a6a6a"/>
<rect x="717.6" y="890.3" width="1.8" height="4.0" fill="#4a4a4a"/>
<rect x="721.2" y="890.3" width="1.8" height="4.0" fill="#4a4a4a"/>
<rect x="717.6" y="896.8" width="2.2" height="1.6" fill="#4a4a4a"/>
<rect x="721.0" y="896.8" width="2.4" height="1.6" fill="#4a4a4a"/>
<rect x="717.6" y="900.2" width="2.2" height="1.6" fill="#4a4a4a"/>
<rect x="721.0" y="900.2" width="2.4" height="1.6" fill="#4a4a4a"/>
<rect x="717.6" y="903.6" width="2.2" height="1.6" fill="#4a4a4a"/>
<rect x="721.0" y="903.6" width="2.4" height="1.6" fill="#4a4a4a"/>
<rect x="717.6" y="908.5" width="6.4" height="5.5" fill="#555555"/>
<rect x="717.6" y="916.5" width="2.2" height="1.6" fill="#4a4a4a"/>
<rect x="721.0" y="916.5" width="2.4" height="1.6" fill="#4a4a4a"/>
<rect x="717.6" y="919.9" width="2.2" height="1.6" fill="#4a4a4a"/>
<rect x="721.0" y="919.9" width="2.4" height="1.6" fill="#4a4a4a"/>
<rect x="717.6" y="923.3" width="2.2" height="1.6" fill="#4a4a4a"/>
<rect x="721.0" y="923.3" width="2.4" height="1.6" fill="#4a4a4a"/>
<rect x="717.6" y="929.7" width="2.2" height="1.6" fill="#4a4a4a"/>
<rect x="721.0" y="929.7" width="2.4" height="1.6" fill="#4a4a4a"/>
<rect x="717.6" y="936.1" width="2.2" height="1.6" fill="#4a4a4a"/>
<rect x="721.0" y="936.1" width="2.4" height="1.6" fill="#4a4a4a"/>
<rect x="717.6" y="942.5" width="6.4" height="5.5" fill="#555555"/>
<rect x="717.6" y="950.5" width="2.2" height="1.6" fill="#4a4a4a"/>
<rect x="721.0" y="950.5" width="2.4" height="1.6" fill="#4a4a4a"/>
<rect x="717.6" y="953.9" width="2.2" height="1.6" fill="#4a4a4a"/>
<rect x="721.0" y="953.9" width="2.4" height="1.6" fill="#4a4a4a"/>
<rect x="717.6" y="958.8" width="2.2" height="1.6" fill="#4a4a4a"/>
<rect x="721.0" y="958.8" width="2.4" height="1.6" fill="#4a4a4a"/>
<rect x="717.6" y="962.2" width="6.4" height="5.5" fill="#555555"/>
<rect x="717.6" y="970.2" width="2.2" height="1.6" fill="#4a4a4a"/>
<rect x="721.0" y="970.2" width="2.4" height="1.6" fill="#4a4a4a"/>
<rect x="717.6" y="975.1" width="2.2" height="1.6" fill="#4a4a4a"/>
<rect x="721.0" y="975.1" width="2.4" height="1.6" fill="#4a4a4a"/>
<rect x="717.6" y="978.5" width="6.4" height="1.2" fill="#6a6a6a"/>
<rect x="717.6" y="982.0" width="2.2" height="1.6" fill="#4a4a4a"/>
<rect x="721.0" y="982.0" width="2.4" height="1.6" fill="#4a4a4a"/>
<rect x="717.6" y="985.4" width="6.4" height="1.2" fill="#6a6a6a"/>
<rect x="717.6" y="988.9" width="2.2" height="1.6" fill="#4a4a4a"/>
<rect x="721.0" y="988.9" width="2.4" height="1.6" fill="#4a4a4a"/>
<rect x="717.6" y="992.3" width="2.2" height="1.6" fill="#4a4a4a"/>
<rect x="721.0" y="992.3" width="2.4" height="1.6" fill="#4a4a4a"/>
<rect x="717.6" y="995.7" width="2.2" height="1.6" fill="#4a4a4a"/>
<rect x="721.0" y="995.7" width="2.4" height="1.6" fill="#4a4a4a"/>
<rect x="717.6" y="999.1" width="2.2" height="1.6" fill="#4a4a4a"/>
<rect x="721.0" y="999.1" width="2.4" height="1.6" fill="#4a4a4a"/>
<rect x="717.6" y="1005.5" width="6.4" height="5.5" fill="#555555"/>
<rect x="717.6" y="1013.5" width="1.8" height="4.0" fill="#4a4a4a"/>
<rect x="721.2" y="1013.5" width="1.8" height="4.0" fill="#4a4a4a"/>
<rect x="717.6" y="1020.0" width="6.4" height="5.5" fill="#555555"/>
<rect x="717.6" y="1028.0" width="2.2" height="1.6" fill="#4a4a4a"/>
<rect x="721.0" y="1028.0" width="2.4" height="1.6" fill="#4a4a4a"/>
<rect x="717.6" y="1032.9" width="2.2" height="1.6" fill="#4a4a4a"/>
<rect x="721.0" y="1032.9" width="2.4" height="1.6" fill="#4a4a4a"/>
<rect x="717.6" y="1039.3" width="6.4" height="1.2" fill="#6a6a6a"/>
<rect x="717.6" y="1042.8" width="2.2" height="1.6" fill="#4a4a4a"/>
<rect x="721.0" y="1042.8" width="2.4" height="1.6" fill="#4a4a4a"/>
<rect x="717.6" y="1047.7" width="6.4" height="1.2" fill="#6a6a6a"/>
<rect x="717.6" y="1051.2" width="1.8" height="4.0" fill="#4a4a4a"/>
<rect x="721.2" y="1051.2" width="1.8" height="4.0" fill="#4a4a4a"/>
<rect x="717.6" y="1057.7" width="2.2" height="1.6" fill="#4a4a4a"/>
<rect x="721.0" y="1057.7" width="2.4" height="1.6" fill="#4a4a4a"/>
<rect x="717.6" y="1061.1" width="6.4" height="5.5" fill="#555555"/>
<rect x="717.6" y="1069.1" width="2.2" height="1.6" fill="#4a4a4a"/>
<rect x="721.0" y="1069.1" width="2.4" height="1.6" fill="#4a4a4a"/>
<rect x="717.6" y="1072.5" width="6.4" height="1.2" fill="#6a6a6a"/>
<rect x="717.6" y="1076.0" width="1.8" height="4.0" fill="#4a4a4a"/>
<rect x="721.2" y="1076.0" width="1.8" height="4.0" fill="#4a4a4a"/>
<rect x="717.6" y="1082.5" width="2.2" height="1.6" fill="#4a4a4a"/>
<rect x="721.0" y="1082.5" width="2.4" height="1.6" fill="#4a4a4a"/>
<rect x="717.6" y="1088.9" width="1.8" height="4.0" fill="#4a4a4a"/>
<rect x="721.2" y="1088.9" width="1.8" height="4.0" fill="#4a4a4a"/>
<rect x="717.6" y="1095.4" width="6.4" height="1.2" fill="#6a6a6a"/>
<rect x="717.6" y="1098.9" width="2.2" height="1.6" fill="#4a4a4a"/>
<rect x="721.0" y="1098.9" width="2.4" height="1.6" fill="#4a4a4a"/>
<rect x="717.6" y="1102.3" width="2.2" height="1.6" fill="#4a4a4a"/>
<rect x="721.0" y="1102.3" width="2.4" height="1.6" fill="#4a4a4a"/>
<rect x="717.6" y="1105.7" width="2.2" height="1.6" fill="#4a4a4a"/>
<rect x="721.0" y="1105.7" width="2.4" height="1.6" fill="#4a4a4a"/>
<rect x="717.6" y="1110.6" width="2.2" height="1.6" fill="#4a4a4a"/>
<rect x="721.0" y="1110.6" width="2.4" height="1.6" fill="#4a4a4a"/>
<rect x="717.6" y="1117.0" width="6.4" height="1.2" fill="#6a6a6a"/>
<rect x="717.6" y="1120.5" width="1.8" height="4.0" fill="#4a4a4a"/>
<rect x="721.2" y="1120.5" width="1.8" height="4.0" fill="#4a4a4a"/>
<rect x="717.6" y="1127.0" width="6.4" height="1.2" fill="#6a6a6a"/>
<rect x="717.6" y="1130.5" width="2.2" height="1.6" fill="#4a4a4a"/>
<rect x="721.0" y="1130.5" width="2.4" height="1.6" fill="#4a4a4a"/>
<rect x="717.6" y="1135.4" width="6.4" height="5.5" fill="#555555"/>
<rect x="717.6" y="1143.4" width="1.8" height="4.0" fill="#4a4a4a"/>
<rect x="721.2" y="1143.4" width="1.8" height="4.0" fill="#4a4a4a"/>
<rect x="717.6" y="1149.9" width="6.4" height="5.5" fill="#555555"/>
<rect x="717.6" y="1157.9" width="6.4" height="1.2" fill="#6a6a6a"/>
<rect x="717.6" y="1161.4" width="2.2" height="1.6" fill="#4a4a4a"/>
<rect x="721.0" y="1161.4" width="2.4" height="1.6" fill="#4a4a4a"/>
<rect x="717.6" y="1164.8" width="2.2" height="1.6" fill="#4a4a4a"/>
<rect x="721.0" y="1164.8" width="2.4" height="1.6" fill="#4a4a4a"/>
<rect x="717.6" y="1168.2" width="2.2" height="1.6" fill="#4a4a4a"/>
<rect x="721.0" y="1168.2" width="2.4" height="1.6" fill="#4a4a4a"/>
<rect x="717.6" y="1173.1" width="1.8" height="4.0" fill="#4a4a4a"/>
<rect x="721.2" y="1173.1" width="1.8" height="4.0" fill="#4a4a4a"/>
<rect x="717.6" y="1179.6" width="2.2" height="1.6" fill="#4a4a4a"/>
<rect x="721.0" y="1179.6" width="2.4" height="1.6" fill="#4a4a4a"/>
<rect x="717.6" y="1184.5" width="2.2" height="1.6" fill="#4a4a4a"/>
<rect x="721.0" y="1184.5" width="2.4" height="1.6" fill="#4a4a4a"/>
<rect x="717.6" y="1187.9" width="2.2" height="1.6" fill="#4a4a4a"/>
<rect x="721.0" y="1187.9" width="2.4" height="1.6" fill="#4a4a4a"/>
<rect x="717.6" y="1192.8" width="6.4" height="5.5" fill="#555555"/>
<rect x="717.6" y="1200.8" width="2.2" height="1.6" fill="#4a4a4a"/>
<rect x="721.0" y="1200.8" width="2.4" height="1.6" fill="#4a4a4a"/>
<rect x="717.6" y="1207.2" width="2.2" height="1.6" fill="#4a4a4a"/>
<rect x="721.0" y="1207.2" width="2.4" height="1.6" fill="#4a4a4a"/>
<rect x="738.4" y="541.2" width="11.0" height="674.3" fill="#bdbdbd"/>
<line x1="739.0" y1="541.2" x2="739.0" y2="1215.5" stroke="#d0d0d0" stroke-width="1.2"/>
<line x1="748.8" y1="541.2" x2="748.8" y2="1215.5" stroke="#d0d0d0" stroke-width="1.2"/>
<rect x="740.6" y="543.2" width="2.2" height="1.6" fill="#4a4a4a"/>
<rect x="744.0" y="543.2" width="2.4" height="1.6" fill="#4a4a4a"/>
<rect x="740.6" y="546.6" width="2.2" height="1.6" fill="#4a4a4a"/>
<rect x="744.0" y="546.6" width="2.4" height="1.6" fill="#4a4a4a"/>
<rect x="740.6" y="553.0" width="1.8" height="4.0" fill="#4a4a4a"/>
<rect x="744.2" y="553.0" width="1.8" height="4.0" fill="#4a4a4a"/>
<rect x="740.6" y="559.5" width="2.2" height="1.6" fill="#4a4a4a"/>
<rect x="744.0" y="559.5" width="2.4" height="1.6" fill="#4a4a4a"/>
<rect x="740.6" y="562.9" width="6.6" height="1.2" fill="#6a6a6a"/>
<rect x="740.6" y="566.4" width="2.2" height="1.6" fill="#4a4a4a"/>
<rect x="744.0" y="566.4" width="2.4" height="1.6" fill="#4a4a4a"/>
<rect x="740.6" y="569.8" width="2.2" height="1.6" fill="#4a4a4a"/>
<rect x="744.0" y="569.8" width="2.4" height="1.6" fill="#4a4a4a"/>
<rect x="740.6" y="576.2" width="2.2" height="1.6" fill="#4a4a4a"/>
<rect x="744.0" y="576.2" width="2.4" height="1.6" fill="#4a4a4a"/>
<rect x="740.6" y="582.6" width="2.2" height="1.6" fill="#4a4a4a"/>
<rect x="744.0" y="582.6" width="2.4" height="1.6" fill="#4a4a4a"/>
<rect x="740.6" y="586.0" width="2.2" height="1.6" fill="#4a4a4a"/>
<rect x="744.0" y="586.0" width="2.4" height="1.6" fill="#4a4a4a"/>
<rect x="740.6" y="589.4" width="6.6" height="1.2" fill="#6a6a6a"/>
<rect x="740.6" y="592.9" width="2.2" height="1.6" fill="#4a4a4a"/>
<rect x="744.0" y="592.9" width="2.4" height="1.6" fill="#4a4a4a"/>
<rect x="740.6" y="596.3" width="1.8" height="4.0" fill="#4a4a4a"/>
<rect x="744.2" y="596.3" width="1.8" height="4.0" fill="#4a4a4a"/>
<rect x="740.6" y="602.8" width="2.2" height="1.6" fill="#4a4a4a"/>
<rect x="744.0" y="602.8" width="2.4" height="1.6" fill="#4a4a4a"/>
<rect x="740.6" y="606.2" width="2.2" height="1.6" fill="#4a4a4a"/>
<rect x="744.0" y="606.2" width="2.4" height="1.6" fill="#4a4a4a"/>
<rect x="740.6" y="609.6" width="6.6" height="5.5" fill="#555555"/>
<rect x="740.6" y="617.6" width="2.2" height="1.6" fill="#4a4a4a"/>
<rect x="744.0" y="617.6" width="2.4" height="1.6" fill="#4a4a4a"/>
<rect x="740.6" y="624.0" width="1.8" height="4.0" fill="#4a4a4a"/>
<rect x="744.2" y="624.0" width="1.8" height="4.0" fill="#4a4a4a"/>
<rect x="740.6" y="630.5" width="6.6" height="1.2" fill="#6a6a6a"/>
<rect x="740.6" y="634.0" width="2.2" height="1.6" fill="#4a4a4a"/>
<rect x="744.0" y="634.0" width="2.4" height="1.6" fill="#4a4a4a"/>
<rect x="740.6" y="640.4" width="6.6" height="1.2" fill="#6a6a6a"/>
<rect x="740.6" y="643.9" width="2.2" height="1.6" fill="#4a4a4a"/>
<rect x="744.0" y="643.9" width="2.4" height="1.6" fill="#4a4a4a"/>
<rect x="740.6" y="648.8" width="2.2" height="1.6" fill="#4a4a4a"/>
<rect x="744.0" y="648.8" width="2.4" height="1.6" fill="#4a4a4a"/>
<rect x="740.6" y="652.2" width="2.2" height="1.6" fill="#4a4a4a"/>
<rect x="744.0" y="652.2" width="2.4" height="1.6" fill="#4a4a4a"/>
<rect x="740.6" y="657.1" width="6.6" height="1.2" fill="#6a6a6a"/>
<rect x="740.6" y="660.6" width="2.2" height="1.6" fill="#4a4a4a"/>
<rect x="744.0" y="660.6" width="2.4" height="1.6" fill="#4a4a4a"/>
<rect x="740.6" y="665.5" width="2.2" height="1.6" fill="#4a4a4a"/>
<rect x="744.0" y="665.5" width="2.4" height="1.6" fill="#4a4a4a"/>
<rect x="740.6" y="671.9" width="1.8" height="4.0" fill="#4a4a4a"/>
<rect x="744.2" y="671.9" width="1.8" height="4.0" fill="#4a4a4a"/>
<rect x="740.6" y="678.4" width="2.2" height="1.6" fill="#4a4a4a"/>
<rect x="744.0" y="678.4" width="2.4" height="1.6" fill="#4a4a4a"/>
<rect x="740.6" y="684.8" width="1.8" height="4.0" fill="#4a4a4a"/>
<rect x="744.2" y="684.8" width="1.8" height="4.0" fill="#4a4a4a"/>
<rect x="740.6" y="691.3" width="6.6" height="1.2" fill="#6a6a6a"/>
<rect x="740.6" y="694.8" width="1.8" height="4.0" fill="#4a4a4a"/>
<rect x="744.2" y="694.8" width="1.8" height="4.0" fill="#4a4a4a"/>
<rect x="740.6" y="701.3" width="6.6" height="1.2" fill="#6a6a6a"/>
<rect x="740.6" y="704.8" width="6.6" height="1.2" fill="#6a6a6a"/>
<rect x="740.6" y="708.3" width="6.6" height="1.2" fill="#6a6a6a"/>
<rect x="740.6" y="711.8" width="1.8" height="4.0" fill="#4a4a4a"/>
<rect x="744.2" y="711.8" width="1.8" height="4.0" fill="#4a4a4a"/>
<rect x="740.6" y="718.3" width="2.2" height="1.6" fill="#4a4a4a"/>
<rect x="744.0" y="718.3" width="2.4" height="1.6" fill="#4a4a4a"/>
<rect x="740.6" y="723.2" width="6.6" height="1.2" fill="#6a6a6a"/>
<rect x="740.6" y="726.7" width="6.6" height="1.2" fill="#6a6a6a"/>
<rect x="740.6" y="730.2" width="1.8" height="4.0" fill="#4a4a4a"/>
<rect x="744.2" y="730.2" width="1.8" height="4.0" fill="#4a4a4a"/>
<rect x="740.6" y="736.7" width="1.8" height="4.0" fill="#4a4a4a"/>
<rect x="744.2" y="736.7" width="1.8" height="4.0" fill="#4a4a4a"/>
<rect x="740.6" y="743.2" width="2.2" height="1.6" fill="#4a4a4a"/>
<rect x="744.0" y="743.2" width="2.4" height="1.6" fill="#4a4a4a"/>
<rect x="740.6" y="748.1" width="2.2" height="1.6" fill="#4a4a4a"/>
<rect x="744.0" y="748.1" width="2.4" height="1.6" fill="#4a4a4a"/>
<rect x="740.6" y="751.5" width="2.2" height="1.6" fill="#4a4a4a"/>
<rect x="744.0" y="751.5" width="2.4" height="1.6" fill="#4a4a4a"/>
<rect x="740.6" y="757.9" width="2.2" height="1.6" fill="#4a4a4a"/>
<rect x="744.0" y="757.9" width="2.4" height="1.6" fill="#4a4a4a"/>
<rect x="740.6" y="761.3" width="2.2" height="1.6" fill="#4a4a4a"/>
<rect x="744.0" y="761.3" width="2.4" height="1.6" fill="#4a4a4a"/>
<rect x="740.6" y="764.7" width="2.2" height="1.6" fill="#4a4a4a"/>
<rect x="744.0" y="764.7" width="2.4" height="1.6" fill="#4a4a4a"/>
<rect x="740.6" y="771.1" width="6.6" height="5.5" fill="#555555"/>
<rect x="740.6" y="779.1" width="6.6" height="1.2" fill="#6a6a6a"/>
<rect x="740.6" y="782.6" width="2.2" height="1.6" fill="#4a4a4a"/>
<rect x="744.0" y="782.6" width="2.4" height="1.6" fill="#4a4a4a"/>
<rect x="740.6" y="786.0" width="2.2" height="1.6" fill="#4a4a4a"/>
<rect x="744.0" y="786.0" width="2.4" height="1.6" fill="#4a4a4a"/>
<rect x="740.6" y="790.9" width="1.8" height="4.0" fill="#4a4a4a"/>
<rect x="744.2" y="790.9" width="1.8" height="4.0" fill="#4a4a4a"/>
<rect x="740.6" y="797.4" width="6.6" height="1.2" fill="#6a6a6a"/>
<rect x="740.6" y="800.9" width="2.2" height="1.6" fill="#4a4a4a"/>
<rect x="744.0" y="800.9" width="2.4" height="1.6" fill="#4a4a4a"/>
<rect x="740.6" y="804.3" width="6.6" height="1.2" fill="#6a6a6a"/>
<rect x="740.6" y="807.8" width="2.2" height="1.6" fill="#4a4a4a"/>
<rect x="744.0" y="807.8" width="2.4" height="1.6" fill="#4a4a4a"/>
<rect x="740.6" y="811.2" width="2.2" height="1.6" fill="#4a4a4a"/>
<rect x="744.0" y="811.2" width="2.4" height="1.6" fill="#4a4a4a"/>
<rect x="740.6" y="814.6" width="6.6" height="1.2" fill="#6a6a6a"/>
<rect x="740.6" y="818.1" width="6.6" height="1.2" fill="#6a6a6a"/>
<rect x="740.6" y="821.6" width="2.2" height="1.6" fill="#4a4a4a"/>
<rect x="744.0" y="821.6" width="2.4" height="1.6" fill="#4a4a4a"/>
<rect x="740.6" y="826.5" width="2.2" height="1.6" fill="#4a4a4a"/>
<rect x="744.0" y="826.5" width="2.4" height="1.6" fill="#4a4a4a"/>
<rect x="740.6" y="829.9" width="6.6" height="1.2" fill="#6a6a6a"/>
<rect x="740.6" y="833.4" width="2.2" height="1.6" fill="#4a4a4a"/>
<rect x="744.0" y="833.4" width="2.4" height="1.6" fill="#4a4a4a"/>
<rect x="740.6" y="838.3" width="6.6" height="1.2" fill="#6a6a6a"/>
<rect x="740.6" y="841.8" width="6.6" height="1.2" fill="#6a6a6a"/>
<rect x="740.6" y="845.3" width="2.2" height="1.6" fill="#4a4a4a"/>
<rect x="744.0" y="845.3" width="2.4" height="1.6" fill="#4a4a4a"/>
<rect x="740.6" y="851.7" width="6.6" height="1.2" fill="#6a6a6a"/>
<rect x="740.6" y="855.2" width="2.2" height="1.6" fill="#4a4a4a"/>
<rect x="744.0" y="855.2" width="2.4" height="1.6" fill="#4a4a4a"/>
<rect x="740.6" y="858.6" width="1.8" height="4.0" fill="#4a4a4a"/>
<rect x="744.2" y="858.6" width="1.8" height="4.0" fill="#4a4a4a"/>
<rect x="740.6" y="865.1" width="6.6" height="1.2" fill="#6a6a6a"/>
<rect x="740.6" y="868.6" width="2.2" height="1.6" fill="#4a4a4a"/>
<rect x="744.0" y="868.6" width="2.4" height="1.6" fill="#4a4a4a"/>
<rect x="740.6" y="875.0" width="1.8" height="4.0" fill="#4a4a4a"/>
<rect x="744.2" y="875.0" width="1.8" height="4.0" fill="#4a4a4a"/>
<rect x="740.6" y="881.5" width="1.8" height="4.0" fill="#4a4a4a"/>
<rect x="744.2" y="881.5" width="1.8" height="4.0" fill="#4a4a4a"/>
<rect x="740.6" y="888.0" width="6.6" height="1.2" fill="#6a6a6a"/>
<rect x="740.6" y="891.5" width="2.2" height="1.6" fill="#4a4a4a"/>
<rect x="744.0" y="891.5" width="2.4" height="1.6" fill="#4a4a4a"/>
<rect x="740.6" y="896.4" width="2.2" height="1.6" fill="#4a4a4a"/>
<rect x="744.0" y="896.4" width="2.4" height="1.6" fill="#4a4a4a"/>
<rect x="740.6" y="901.3" width="2.2" height="1.6" fill="#4a4a4a"/>
<rect x="744.0" y="901.3" width="2.4" height="1.6" fill="#4a4a4a"/>
<rect x="740.6" y="907.7" width="6.6" height="1.2" fill="#6a6a6a"/>
<rect x="740.6" y="911.2" width="2.2" height="1.6" fill="#4a4a4a"/>
<rect x="744.0" y="911.2" width="2.4" height="1.6" fill="#4a4a4a"/>
<rect x="740.6" y="917.6" width="1.8" height="4.0" fill="#4a4a4a"/>
<rect x="744.2" y="917.6" width="1.8" height="4.0" fill="#4a4a4a"/>
<rect x="740.6" y="924.1" width="1.8" height="4.0" fill="#4a4a4a"/>
<rect x="744.2" y="924.1" width="1.8" height="4.0" fill="#4a4a4a"/>
<rect x="740.6" y="930.6" width="2.2" height="1.6" fill="#4a4a4a"/>
<rect x="744.0" y="930.6" width="2.4" height="1.6" fill="#4a4a4a"/>
<rect x="740.6" y="935.5" width="2.2" height="1.6" fill="#4a4a4a"/>
<rect x="744.0" y="935.5" width="2.4" height="1.6" fill="#4a4a4a"/>
<rect x="740.6" y="940.4" width="1.8" height="4.0" fill="#4a4a4a"/>
<rect x="744.2" y="940.4" width="1.8" height="4.0" fill="#4a4a4a"/>
<rect x="740.6" y="946.9" width="2.2" height="1.6" fill="#4a4a4a"/>
<rect x="744.0" y="946.9" width="2.4" height="1.6" fill="#4a4a4a"/>
<rect x="740.6" y="953.3" width="2.2" height="1.6" fill="#4a4a4a"/>
<rect x="744.0" y="953.3" width="2.4" height="1.6" fill="#4a4a4a"/>
<rect x="740.6" y="956.7" width="6.6" height="1.2" fill="#6a6a6a"/>
<rect x="740.6" y="960.2" width="2.2" height="1.6" fill="#4a4a4a"/>
<rect x="744.0" y="960.2" width="2.4" height="1.6" fill="#4a4a4a"/>
<rect x="740.6" y="965.1" width="2.2" height="1.6" fill="#4a4a4a"/>
<rect x="744.0" y="965.1" width="2.4" height="1.6" fill="#4a4a4a"/>
<rect x="740.6" y="971.5" width="2.2" height="1.6" fill="#4a4a4a"/>
<rect x="744.0" y="971.5" width="2.4" height="1.6" fill="#4a4a4a"/>
<rect x="740.6" y="976.4" width="2.2" height="1.6" fill="#4a4a4a"/>
<rect x="744.0" y="976.4" width="2.4" height="1.6" fill="#4a4a4a"/>
<rect x="740.6" y="979.8" width="2.2" height="1.6" fill="#4a4a4a"/>
<rect x="744.0" y="979.8" width="2.4" height="1.6" fill="#4a4a4a"/>
<rect x="740.6" y="984.7" width="6.6" height="5.5" fill="#555555"/>
<rect x="740.6" y="992.7" width="2.2" height="1.6" fill="#4a4a4a"/>
<rect x="744.0" y="992.7" width="2.4" height="1.6" fill="#4a4a4a"/>
<rect x="740.6" y="999.1" width="2.2" height="1.6" fill="#4a4a4a"/>
<rect x="744.0" y="999.1" width="2.4" height="1.6" fill="#4a4a4a"/>
<rect x="740.6" y="1002.5" width="6.6" height="1.2" fill="#6a6a6a"/>
<rect x="740.6" y="1006.0" width="1.8" height="4.0" fill="#4a4a4a"/>
<rect x="744.2" y="1006.0" width="1.8" height="4.0" fill="#4a4a4a"/>
<rect x="740.6" y="1012.5" width="2.2" height="1.6" fill="#4a4a4a"/>
<rect x="744.0" y="1012.5" width="2.4" height="1.6" fill="#4a4a4a"/>
<rect x="740.6" y="1015.9" width="1.8" height="4.0" fill="#4a4a4a"/>
<rect x="744.2" y="1015.9" width="1.8" height="4.0" fill="#4a4a4a"/>
<rect x="740.6" y="1022.4" width="2.2" height="1.6" fill="#4a4a4a"/>
<rect x="744.0" y="1022.4" width="2.4" height="1.6" fill="#4a4a4a"/>
<rect x="740.6" y="1027.3" width="2.2" height="1.6" fill="#4a4a4a"/>
<rect x="744.0" y="1027.3" width="2.4" height="1.6" fill="#4a4a4a"/>
<rect x="740.6" y="1033.7" width="1.8" height="4.0" fill="#4a4a4a"/>
<rect x="744.2" y="1033.7" width="1.8" height="4.0" fill="#4a4a4a"/>
<rect x="740.6" y="1040.2" width="2.2" height="1.6" fill="#4a4a4a"/>
<rect x="744.0" y="1040.2" width="2.4" height="1.6" fill="#4a4a4a"/>
<rect x="740.6" y="1045.1" width="6.6" height="1.2" fill="#6a6a6a"/>
<rect x="740.6" y="1048.6" width="1.8" height="4.0" fill="#4a4a4a"/>
<rect x="744.2" y="1048.6" width="1.8" height="4.0" fill="#4a4a4a"/>
<rect x="740.6" y="1055.1" width="2.2" height="1.6" fill="#4a4a4a"/>
<rect x="744.0" y="1055.1" width="2.4" height="1.6" fill="#4a4a4a"/>
<rect x="740.6" y="1058.5" width="2.2" height="1.6" fill="#4a4a4a"/>
<rect x="744.0" y="1058.5" width="2.4" height="1.6" fill="#4a4a4a"/>
<rect x="740.6" y="1061.9" width="6.6" height="1.2" fill="#6a6a6a"/>
<rect x="740.6" y="1065.4" width="2.2" height="1.6" fill="#4a4a4a"/>
<rect x="744.0" y="1065.4" width="2.4" height="1.6" fill="#4a4a4a"/>
<rect x="740.6" y="1068.8" width="6.6" height="5.5" fill="#555555"/>
<rect x="740.6" y="1076.8" width="2.2" height="1.6" fill="#4a4a4a"/>
<rect x="744.0" y="1076.8" width="2.4" height="1.6" fill="#4a4a4a"/>
<rect x="740.6" y="1080.2" width="2.2" height="1.6" fill="#4a4a4a"/>
<rect x="744.0" y="1080.2" width="2.4" height="1.6" fill="#4a4a4a"/>
<rect x="740.6" y="1083.6" width="6.6" height="1.2" fill="#6a6a6a"/>
<rect x="740.6" y="1087.1" width="2.2" height="1.6" fill="#4a4a4a"/>
<rect x="744.0" y="1087.1" width="2.4" height="1.6" fill="#4a4a4a"/>
<rect x="740.6" y="1090.5" width="6.6" height="5.5" fill="#555555"/>
<rect x="740.6" y="1098.5" width="2.2" height="1.6" fill="#4a4a4a"/>
<rect x="744.0" y="1098.5" width="2.4" height="1.6" fill="#4a4a4a"/>
<rect x="740.6" y="1101.9" width="2.2" height="1.6" fill="#4a4a4a"/>
<rect x="744.0" y="1101.9" width="2.4" height="1.6" fill="#4a4a4a"/>
<rect x="740.6" y="1106.8" width="2.2" height="1.6" fill="#4a4a4a"/>
<rect x="744.0" y="1106.8" width="2.4" height="1.6" fill="#4a4a4a"/>
<rect x="740.6" y="1113.2" width="2.2" height="1.6" fill="#4a4a4a"/>
<rect x="744.0" y="1113.2" width="2.4" height="1.6" fill="#4a4a4a"/>
<rect x="740.6" y="1119.6" width="2.2" height="1.6" fill="#4a4a4a"/>
<rect x="744.0" y="1119.6" width="2.4" height="1.6" fill="#4a4a4a"/>
<rect x="740.6" y="1126.0" width="2.2" height="1.6" fill="#4a4a4a"/>
<rect x="744.0" y="1126.0" width="2.4" height="1.6" fill="#4a4a4a"/>
<rect x="740.6" y="1129.4" width="2.2" height="1.6" fill="#4a4a4a"/>
<rect x="744.0" y="1129.4" width="2.4" height="1.6" fill="#4a4a4a"/>
<rect x="740.6" y="1135.8" width="1.8" height="4.0" fill="#4a4a4a"/>
<rect x="744.2" y="1135.8" width="1.8" height="4.0" fill="#4a4a4a"/>
<rect x="740.6" y="1142.3" width="6.6" height="1.2" fill="#6a6a6a"/>
<rect x="740.6" y="1145.8" width="1.8" height="4.0" fill="#4a4a4a"/>
<rect x="744.2" y="1145.8" width="1.8" height="4.0" fill="#4a4a4a"/>
<rect x="740.6" y="1152.3" width="2.2" height="1.6" fill="#4a4a4a"/>
<rect x="744.0" y="1152.3" width="2.4" height="1.6" fill="#4a4a4a"/>
<rect x="740.6" y="1158.7" width="6.6" height="5.5" fill="#555555"/>
<rect x="740.6" y="1166.7" width="1.8" height="4.0" fill="#4a4a4a"/>
<rect x="744.2" y="1166.7" width="1.8" height="4.0" fill="#4a4a4a"/>
<rect x="740.6" y="1173.2" width="2.2" height="1.6" fill="#4a4a4a"/>
<rect x="744.0" y="1173.2" width="2.4" height="1.6" fill="#4a4a4a"/>
<rect x="740.6" y="1178.1" width="2.2" height="1.6" fill="#4a4a4a"/>
<rect x="744.0" y="1178.1" width="2.4" height="1.6" fill="#4a4a4a"/>
<rect x="740.6" y="1181.5" width="6.6" height="1.2" fill="#6a6a6a"/>
<rect x="740.6" y="1185.0" width="6.6" height="1.2" fill="#6a6a6a"/>
<rect x="740.6" y="1188.5" width="6.6" height="1.2" fill="#6a6a6a"/>
<rect x="740.6" y="1192.0" width="2.2" height="1.6" fill="#4a4a4a"/>
<rect x="744.0" y="1192.0" width="2.4" height="1.6" fill="#4a4a4a"/>
<rect x="740.6" y="1195.4" width="2.2" height="1.6" fill="#4a4a4a"/>
<rect x="744.0" y="1195.4" width="2.4" height="1.6" fill="#4a4a4a"/>
<rect x="740.6" y="1198.8" width="6.6" height="1.2" fill="#6a6a6a"/>
<rect x="740.6" y="1202.3" width="6.6" height="1.2" fill="#6a6a6a"/>
<rect x="740.6" y="1205.8" width="1.8" height="4.0" fill="#4a4a4a"/>
<rect x="744.2" y="1205.8" width="1.8" height="4.0" fill="#4a4a4a"/>
<rect x="749.4" y="541.2" width="11.5" height="674.3" fill="#bdbdbd"/>
<line x1="750.0" y1="541.2" x2="750.0" y2="1215.5" stroke="#d0d0d0" stroke-width="1.2"/>
<line x1="760.3" y1="541.2" x2="760.3" y2="1215.5" stroke="#d0d0d0" stroke-width="1.2"/>
<line x1="749.2" y1="541.2" x2="749.2" y2="1215.5" stroke="#5a5a5a" stroke-width="0.8"/>
<rect x="751.6" y="543.2" width="2.2" height="1.6" fill="#4a4a4a"/>
<rect x="755.0" y="543.2" width="2.4" height="1.6" fill="#4a4a4a"/>
<rect x="751.6" y="546.6" width="1.8" height="4.0" fill="#4a4a4a"/>
<rect x="755.2" y="546.6" width="1.8" height="4.0" fill="#4a4a4a"/>
<rect x="751.6" y="553.1" width="2.2" height="1.6" fill="#4a4a4a"/>
<rect x="755.0" y="553.1" width="2.4" height="1.6" fill="#4a4a4a"/>
<rect x="751.6" y="556.5" width="2.2" height="1.6" fill="#4a4a4a"/>
<rect x="755.0" y="556.5" width="2.4" height="1.6" fill="#4a4a4a"/>
<rect x="751.6" y="562.9" width="2.2" height="1.6" fill="#4a4a4a"/>
<rect x="755.0" y="562.9" width="2.4" height="1.6" fill="#4a4a4a"/>
<rect x="751.6" y="567.8" width="7.1" height="5.5" fill="#555555"/>
<rect x="751.6" y="575.8" width="7.1" height="5.5" fill="#555555"/>
<rect x="751.6" y="583.8" width="2.2" height="1.6" fill="#4a4a4a"/>
<rect x="755.0" y="583.8" width="2.4" height="1.6" fill="#4a4a4a"/>
<rect x="751.6" y="588.7" width="2.2" height="1.6" fill="#4a4a4a"/>
<rect x="755.0" y="588.7" width="2.4" height="1.6" fill="#4a4a4a"/>
<rect x="751.6" y="592.1" width="7.1" height="5.5" fill="#555555"/>
<rect x="751.6" y="600.1" width="2.2" height="1.6" fill="#4a4a4a"/>
<rect x="755.0" y="600.1" width="2.4" height="1.6" fill="#4a4a4a"/>
<rect x="751.6" y="603.5" width="7.1" height="5.5" fill="#555555"/>
<rect x="751.6" y="611.5" width="7.1" height="5.5" fill="#555555"/>
<rect x="751.6" y="619.5" width="7.1" height="5.5" fill="#555555"/>
<rect x="751.6" y="627.5" width="2.2" height="1.6" fill="#4a4a4a"/>
<rect x="755.0" y="627.5" width="2.4" height="1.6" fill="#4a4a4a"/>
<rect x="751.6" y="632.4" width="2.2" height="1.6" fill="#4a4a4a"/>
<rect x="755.0" y="632.4" width="2.4" height="1.6" fill="#4a4a4a"/>
<rect x="751.6" y="637.3" width="2.2" height="1.6" fill="#4a4a4a"/>
<rect x="755.0" y="637.3" width="2.4" height="1.6" fill="#4a4a4a"/>
<rect x="751.6" y="642.2" width="1.8" height="4.0" fill="#4a4a4a"/>
<rect x="755.2" y="642.2" width="1.8" height="4.0" fill="#4a4a4a"/>
<rect x="751.6" y="648.7" width="2.2" height="1.6" fill="#4a4a4a"/>
<rect x="755.0" y="648.7" width="2.4" height="1.6" fill="#4a4a4a"/>
<rect x="751.6" y="652.1" width="2.2" height="1.6" fill="#4a4a4a"/>
<rect x="755.0" y="652.1" width="2.4" height="1.6" fill="#4a4a4a"/>
<rect x="751.6" y="657.0" width="2.2" height="1.6" fill="#4a4a4a"/>
<rect x="755.0" y="657.0" width="2.4" height="1.6" fill="#4a4a4a"/>
<rect x="751.6" y="661.9" width="2.2" height="1.6" fill="#4a4a4a"/>
<rect x="755.0" y="661.9" width="2.4" height="1.6" fill="#4a4a4a"/>
<rect x="751.6" y="666.8" width="1.8" height="4.0" fill="#4a4a4a"/>
<rect x="755.2" y="666.8" width="1.8" height="4.0" fill="#4a4a4a"/>
<rect x="751.6" y="673.3" width="7.1" height="1.2" fill="#6a6a6a"/>
<rect x="751.6" y="676.8" width="7.1" height="5.5" fill="#555555"/>
<rect x="751.6" y="684.8" width="2.2" height="1.6" fill="#4a4a4a"/>
<rect x="755.0" y="684.8" width="2.4" height="1.6" fill="#4a4a4a"/>
<rect x="751.6" y="691.2" width="2.2" height="1.6" fill="#4a4a4a"/>
<rect x="755.0" y="691.2" width="2.4" height="1.6" fill="#4a4a4a"/>
<rect x="751.6" y="696.1" width="2.2" height="1.6" fill="#4a4a4a"/>
<rect x="755.0" y="696.1" width="2.4" height="1.6" fill="#4a4a4a"/>
<rect x="751.6" y="699.5" width="2.2" height="1.6" fill="#4a4a4a"/>
<rect x="755.0" y="699.5" width="2.4" height="1.6" fill="#4a4a4a"/>
<rect x="751.6" y="704.4" width="7.1" height="5.5" fill="#555555"/>
<rect x="751.6" y="712.4" width="2.2" height="1.6" fill="#4a4a4a"/>
<rect x="755.0" y="712.4" width="2.4" height="1.6" fill="#4a4a4a"/>
<rect x="751.6" y="715.8" width="2.2" height="1.6" fill="#4a4a4a"/>
<rect x="755.0" y="715.8" width="2.4" height="1.6" fill="#4a4a4a"/>
<rect x="751.6" y="720.7" width="2.2" height="1.6" fill="#4a4a4a"/>
<rect x="755.0" y="720.7" width="2.4" height="1.6" fill="#4a4a4a"/>
<rect x="751.6" y="727.1" width="1.8" height="4.0" fill="#4a4a4a"/>
<rect x="755.2" y="727.1" width="1.8" height="4.0" fill="#4a4a4a"/>
<rect x="751.6" y="733.6" width="2.2" height="1.6" fill="#4a4a4a"/>
<rect x="755.0" y="733.6" width="2.4" height="1.6" fill="#4a4a4a"/>
<rect x="751.6" y="737.0" width="2.2" height="1.6" fill="#4a4a4a"/>
<rect x="755.0" y="737.0" width="2.4" height="1.6" fill="#4a4a4a"/>
<rect x="751.6" y="740.4" width="1.8" height="4.0" fill="#4a4a4a"/>
<rect x="755.2" y="740.4" width="1.8" height="4.0" fill="#4a4a4a"/>
<rect x="751.6" y="746.9" width="2.2" height="1.6" fill="#4a4a4a"/>
<rect x="755.0" y="746.9" width="2.4" height="1.6" fill="#4a4a4a"/>
<rect x="751.6" y="750.3" width="2.2" height="1.6" fill="#4a4a4a"/>
<rect x="755.0" y="750.3" width="2.4" height="1.6" fill="#4a4a4a"/>
<rect x="751.6" y="755.2" width="1.8" height="4.0" fill="#4a4a4a"/>
<rect x="755.2" y="755.2" width="1.8" height="4.0" fill="#4a4a4a"/>
<rect x="751.6" y="761.7" width="2.2" height="1.6" fill="#4a4a4a"/>
<rect x="755.0" y="761.7" width="2.4" height="1.6" fill="#4a4a4a"/>
<rect x="751.6" y="766.6" width="2.2" height="1.6" fill="#4a4a4a"/>
<rect x="755.0" y="766.6" width="2.4" height="1.6" fill="#4a4a4a"/>
<rect x="751.6" y="770.0" width="1.8" height="4.0" fill="#4a4a4a"/>
<rect x="755.2" y="770.0" width="1.8" height="4.0" fill="#4a4a4a"/>
<rect x="751.6" y="776.5" width="2.2" height="1.6" fill="#4a4a4a"/>
<rect x="755.0" y="776.5" width="2.4" height="1.6" fill="#4a4a4a"/>
<rect x="751.6" y="779.9" width="2.2" height="1.6" fill="#4a4a4a"/>
<rect x="755.0" y="779.9" width="2.4" height="1.6" fill="#4a4a4a"/>
<rect x="751.6" y="783.3" width="2.2" height="1.6" fill="#4a4a4a"/>
<rect x="755.0" y="783.3" width="2.4" height="1.6" fill="#4a4a4a"/>
<rect x="751.6" y="786.7" width="2.2" height="1.6" fill="#4a4a4a"/>
<rect x="755.0" y="786.7" width="2.4" height="1.6" fill="#4a4a4a"/>
<rect x="751.6" y="790.1" width="7.1" height="1.2" fill="#6a6a6a"/>
<rect x="751.6" y="793.6" width="7.1" height="1.2" fill="#6a6a6a"/>
<rect x="751.6" y="797.1" width="1.8" height="4.0" fill="#4a4a4a"/>
<rect x="755.2" y="797.1" width="1.8" height="4.0" fill="#4a4a4a"/>
<rect x="751.6" y="803.6" width="7.1" height="1.2" fill="#6a6a6a"/>
<rect x="751.6" y="807.1" width="2.2" height="1.6" fill="#4a4a4a"/>
<rect x="755.0" y="807.1" width="2.4" height="1.6" fill="#4a4a4a"/>
<rect x="751.6" y="812.0" width="2.2" height="1.6" fill="#4a4a4a"/>
<rect x="755.0" y="812.0" width="2.4" height="1.6" fill="#4a4a4a"/>
<rect x="751.6" y="815.4" width="7.1" height="5.5" fill="#555555"/>
<rect x="751.6" y="823.4" width="2.2" height="1.6" fill="#4a4a4a"/>
<rect x="755.0" y="823.4" width="2.4" height="1.6" fill="#4a4a4a"/>
<rect x="751.6" y="826.8" width="2.2" height="1.6" fill="#4a4a4a"/>
<rect x="755.0" y="826.8" width="2.4" height="1.6" fill="#4a4a4a"/>
<rect x="751.6" y="830.2" width="7.1" height="1.2" fill="#6a6a6a"/>
<rect x="751.6" y="833.7" width="2.2" height="1.6" fill="#4a4a4a"/>
<rect x="755.0" y="833.7" width="2.4" height="1.6" fill="#4a4a4a"/>
<rect x="751.6" y="838.6" width="2.2" height="1.6" fill="#4a4a4a"/>
<rect x="755.0" y="838.6" width="2.4" height="1.6" fill="#4a4a4a"/>
<rect x="751.6" y="842.0" width="2.2" height="1.6" fill="#4a4a4a"/>
<rect x="755.0" y="842.0" width="2.4" height="1.6" fill="#4a4a4a"/>
<rect x="751.6" y="845.4" width="2.2" height="1.6" fill="#4a4a4a"/>
<rect x="755.0" y="845.4" width="2.4" height="1.6" fill="#4a4a4a"/>
<rect x="751.6" y="851.8" width="2.2" height="1.6" fill="#4a4a4a"/>
<rect x="755.0" y="851.8" width="2.4" height="1.6" fill="#4a4a4a"/>
<rect x="751.6" y="856.7" width="7.1" height="1.2" fill="#6a6a6a"/>
<rect x="751.6" y="860.2" width="1.8" height="4.0" fill="#4a4a4a"/>
<rect x="755.2" y="860.2" width="1.8" height="4.0" fill="#4a4a4a"/>
<rect x="751.6" y="866.7" width="2.2" height="1.6" fill="#4a4a4a"/>
<rect x="755.0" y="866.7" width="2.4" height="1.6" fill="#4a4a4a"/>
<rect x="751.6" y="870.1" width="2.2" height="1.6" fill="#4a4a4a"/>
<rect x="755.0" y="870.1" width="2.4" height="1.6" fill="#4a4a4a"/>
<rect x="751.6" y="873.5" width="2.2" height="1.6" fill="#4a4a4a"/>
<rect x="755.0" y="873.5" width="2.4" height="1.6" fill="#4a4a4a"/>
<rect x="751.6" y="876.9" width="2.2" height="1.6" fill="#4a4a4a"/>
<rect x="755.0" y="876.9" width="2.4" height="1.6" fill="#4a4a4a"/>
<rect x="751.6" y="880.3" width="1.8" height="4.0" fill="#4a4a4a"/>
<rect x="755.2" y="880.3" width="1.8" height="4.0" fill="#4a4a4a"/>
<rect x="751.6" y="886.8" width="7.1" height="1.2" fill="#6a6a6a"/>
<rect x="751.6" y="890.3" width="1.8" height="4.0" fill="#4a4a4a"/>
<rect x="755.2" y="890.3" width="1.8" height="4.0" fill="#4a4a4a"/>
<rect x="751.6" y="896.8" width="2.2" height="1.6" fill="#4a4a4a"/>
<rect x="755.0" y="896.8" width="2.4" height="1.6" fill="#4a4a4a"/>
<rect x="751.6" y="900.2" width="2.2" height="1.6" fill="#4a4a4a"/>
<rect x="755.0" y="900.2" width="2.4" height="1.6" fill="#4a4a4a"/>
<rect x="751.6" y="903.6" width="2.2" height="1.6" fill="#4a4a4a"/>
<rect x="755.0" y="903.6" width="2.4" height="1.6" fill="#4a4a4a"/>
<rect x="751.6" y="908.5" width="7.1" height="5.5" fill="#555555"/>
<rect x="751.6" y="916.5" width="2.2" height="1.6" fill="#4a4a4a"/>
<rect x="755.0" y="916.5" width="2.4" height="1.6" fill="#4a4a4a"/>
<rect x="751.6" y="919.9" width="2.2" height="1.6" fill="#4a4a4a"/>
<rect x="755.0" y="919.9" width="2.4" height="1.6" fill="#4a4a4a"/>
<rect x="751.6" y="923.3" width="2.2" height="1.6" fill="#4a4a4a"/>
<rect x="755.0" y="923.3" width="2.4" height="1.6" fill="#4a4a4a"/>
<rect x="751.6" y="929.7" width="2.2" height="1.6" fill="#4a4a4a"/>
<rect x="755.0" y="929.7" width="2.4" height="1.6" fill="#4a4a4a"/>
<rect x="751.6" y="936.1" width="2.2" height="1.6" fill="#4a4a4a"/>
<rect x="755.0" y="936.1" width="2.4" height="1.6" fill="#4a4a4a"/>
<rect x="751.6" y="942.5" width="7.1" height="5.5" fill="#555555"/>
<rect x="751.6" y="950.5" width="2.2" height="1.6" fill="#4a4a4a"/>
<rect x="755.0" y="950.5" width="2.4" height="1.6" fill="#4a4a4a"/>
<rect x="751.6" y="953.9" width="2.2" height="1.6" fill="#4a4a4a"/>
<rect x="755.0" y="953.9" width="2.4" height="1.6" fill="#4a4a4a"/>
<rect x="751.6" y="958.8" width="2.2" height="1.6" fill="#4a4a4a"/>
<rect x="755.0" y="958.8" width="2.4" height="1.6" fill="#4a4a4a"/>
<rect x="751.6" y="962.2" width="7.1" height="5.5" fill="#555555"/>
<rect x="751.6" y="970.2" width="2.2" height="1.6" fill="#4a4a4a"/>
<rect x="755.0" y="970.2" width="2.4" height="1.6" fill="#4a4a4a"/>
<rect x="751.6" y="975.1" width="2.2" height="1.6" fill="#4a4a4a"/>
<rect x="755.0" y="975.1" width="2.4" height="1.6" fill="#4a4a4a"/>
<rect x="751.6" y="978.5" width="7.1" height="1.2" fill="#6a6a6a"/>
<rect x="751.6" y="982.0" width="2.2" height="1.6" fill="#4a4a4a"/>
<rect x="755.0" y="982.0" width="2.4" height="1.6" fill="#4a4a4a"/>
<rect x="751.6" y="985.4" width="7.1" height="1.2" fill="#6a6a6a"/>
<rect x="751.6" y="988.9" width="2.2" height="1.6" fill="#4a4a4a"/>
<rect x="755.0" y="988.9" width="2.4" height="1.6" fill="#4a4a4a"/>
<rect x="751.6" y="992.3" width="2.2" height="1.6" fill="#4a4a4a"/>
<rect x="755.0" y="992.3" width="2.4" height="1.6" fill="#4a4a4a"/>
<rect x="751.6" y="995.7" width="2.2" height="1.6" fill="#4a4a4a"/>
<rect x="755.0" y="995.7" width="2.4" height="1.6" fill="#4a4a4a"/>
<rect x="751.6" y="999.1" width="2.2" height="1.6" fill="#4a4a4a"/>
<rect x="755.0" y="999.1" width="2.4" height="1.6" fill="#4a4a4a"/>
<rect x="751.6" y="1005.5" width="7.1" height="5.5" fill="#555555"/>
<rect x="751.6" y="1013.5" width="1.8" height="4.0" fill="#4a4a4a"/>
<rect x="755.2" y="1013.5" width="1.8" height="4.0" fill="#4a4a4a"/>
<rect x="751.6" y="1020.0" width="7.1" height="5.5" fill="#555555"/>
<rect x="751.6" y="1028.0" width="2.2" height="1.6" fill="#4a4a4a"/>
<rect x="755.0" y="1028.0" width="2.4" height="1.6" fill="#4a4a4a"/>
<rect x="751.6" y="1032.9" width="2.2" height="1.6" fill="#4a4a4a"/>
<rect x="755.0" y="1032.9" width="2.4" height="1.6" fill="#4a4a4a"/>
<rect x="751.6" y="1039.3" width="7.1" height="1.2" fill="#6a6a6a"/>
<rect x="751.6" y="1042.8" width="2.2" height="1.6" fill="#4a4a4a"/>
<rect x="755.0" y="1042.8" width="2.4" height="1.6" fill="#4a4a4a"/>
<rect x="751.6" y="1047.7" width="7.1" height="1.2" fill="#6a6a6a"/>
<rect x="751.6" y="1051.2" width="1.8" height="4.0" fill="#4a4a4a"/>
<rect x="755.2" y="1051.2" width="1.8" height="4.0" fill="#4a4a4a"/>
<rect x="751.6" y="1057.7" width="2.2" height="1.6" fill="#4a4a4a"/>
<rect x="755.0" y="1057.7" width="2.4" height="1.6" fill="#4a4a4a"/>
<rect x="751.6" y="1061.1" width="7.1" height="5.5" fill="#555555"/>
<rect x="751.6" y="1069.1" width="2.2" height="1.6" fill="#4a4a4a"/>
<rect x="755.0" y="1069.1" width="2.4" height="1.6" fill="#4a4a4a"/>
<rect x="751.6" y="1072.5" width="7.1" height="1.2" fill="#6a6a6a"/>
<rect x="751.6" y="1076.0" width="1.8" height="4.0" fill="#4a4a4a"/>
<rect x="755.2" y="1076.0" width="1.8" height="4.0" fill="#4a4a4a"/>
<rect x="751.6" y="1082.5" width="2.2" height="1.6" fill="#4a4a4a"/>
<rect x="755.0" y="1082.5" width="2.4" height="1.6" fill="#4a4a4a"/>
<rect x="751.6" y="1088.9" width="1.8" height="4.0" fill="#4a4a4a"/>
<rect x="755.2" y="1088.9" width="1.8" height="4.0" fill="#4a4a4a"/>
<rect x="751.6" y="1095.4" width="7.1" height="1.2" fill="#6a6a6a"/>
<rect x="751.6" y="1098.9" width="2.2" height="1.6" fill="#4a4a4a"/>
<rect x="755.0" y="1098.9" width="2.4" height="1.6" fill="#4a4a4a"/>
<rect x="751.6" y="1102.3" width="2.2" height="1.6" fill="#4a4a4a"/>
<rect x="755.0" y="1102.3" width="2.4" height="1.6" fill="#4a4a4a"/>
<rect x="751.6" y="1105.7" width="2.2" height="1.6" fill="#4a4a4a"/>
<rect x="755.0" y="1105.7" width="2.4" height="1.6" fill="#4a4a4a"/>
<rect x="751.6" y="1110.6" width="2.2" height="1.6" fill="#4a4a4a"/>
<rect x="755.0" y="1110.6" width="2.4" height="1.6" fill="#4a4a4a"/>
<rect x="751.6" y="1117.0" width="7.1" height="1.2" fill="#6a6a6a"/>
<rect x="751.6" y="1120.5" width="1.8" height="4.0" fill="#4a4a4a"/>
<rect x="755.2" y="1120.5" width="1.8" height="4.0" fill="#4a4a4a"/>
<rect x="751.6" y="1127.0" width="7.1" height="1.2" fill="#6a6a6a"/>
<rect x="751.6" y="1130.5" width="2.2" height="1.6" fill="#4a4a4a"/>
<rect x="755.0" y="1130.5" width="2.4" height="1.6" fill="#4a4a4a"/>
<rect x="751.6" y="1135.4" width="7.1" height="5.5" fill="#555555"/>
<rect x="751.6" y="1143.4" width="1.8" height="4.0" fill="#4a4a4a"/>
<rect x="755.2" y="1143.4" width="1.8" height="4.0" fill="#4a4a4a"/>
<rect x="751.6" y="1149.9" width="7.1" height="5.5" fill="#555555"/>
<rect x="751.6" y="1157.9" width="7.1" height="1.2" fill="#6a6a6a"/>
<rect x="751.6" y="1161.4" width="2.2" height="1.6" fill="#4a4a4a"/>
<rect x="755.0" y="1161.4" width="2.4" height="1.6" fill="#4a4a4a"/>
<rect x="751.6" y="1164.8" width="2.2" height="1.6" fill="#4a4a4a"/>
<rect x="755.0" y="1164.8" width="2.4" height="1.6" fill="#4a4a4a"/>
<rect x="751.6" y="1168.2" width="2.2" height="1.6" fill="#4a4a4a"/>
<rect x="755.0" y="1168.2" width="2.4" height="1.6" fill="#4a4a4a"/>
<rect x="751.6" y="1173.1" width="1.8" height="4.0" fill="#4a4a4a"/>
<rect x="755.2" y="1173.1" width="1.8" height="4.0" fill="#4a4a4a"/>
<rect x="751.6" y="1179.6" width="2.2" height="1.6" fill="#4a4a4a"/>
<rect x="755.0" y="1179.6" width="2.4" height="1.6" fill="#4a4a4a"/>
<rect x="751.6" y="1184.5" width="2.2" height="1.6" fill="#4a4a4a"/>
<rect x="755.0" y="1184.5" width="2.4" height="1.6" fill="#4a4a4a"/>
<rect x="751.6" y="1187.9" width="2.2" height="1.6" fill="#4a4a4a"/>
<rect x="755.0" y="1187.9" width="2.4" height="1.6" fill="#4a4a4a"/>
<rect x="751.6" y="1192.8" width="7.1" height="5.5" fill="#555555"/>
<rect x="751.6" y="1200.8" width="2.2" height="1.6" fill="#4a4a4a"/>
<rect x="755.0" y="1200.8" width="2.4" height="1.6" fill="#4a4a4a"/>
<rect x="751.6" y="1207.2" width="2.2" height="1.6" fill="#4a4a4a"/>
<rect x="755.0" y="1207.2" width="2.4" height="1.6" fill="#4a4a4a"/>
<line x1="732.0" y1="510.0" x2="732.0" y2="1218.0" stroke="#b8b8b8" stroke-width="1"/>
<rect x="559.0" y="449.2" width="292.0" height="9.1" fill="#6e6e6e"/>
<rect x="851.0" y="449.2" width="26.0" height="9.1" fill="#d4d4d4"/>
<rect x="530.6" y="466.3" width="442.9" height="8.9" fill="#d4d4d4"/>
<rect x="530.6" y="479.1" width="442.7" height="8.7" fill="#d4d4d4"/>
<rect x="974.5" y="480.4" width="12.2" height="4.3" fill="#d4d4d4"/>
<rect x="800.4" y="484.7" width="242.6" height="9.2" fill="#bcbcbc"/>
<line x1="973.0" y1="476.0" x2="1043.0" y2="476.0" stroke="#b0b0b0" stroke-width="1"/>
<line x1="637.0" y1="466.0" x2="637.0" y2="488.0" stroke="#808080" stroke-width="1"/>
<line x1="736.0" y1="466.0" x2="736.0" y2="488.0" stroke="#707070" stroke-width="1"/>
<line x1="1033.0" y1="476.0" x2="1033.0" y2="494.0" stroke="#b0b0b0" stroke-width="1"/>
<rect x="975.0" y="484.0" width="10.5" height="172.0" fill="#c8c8c8"/>
<rect x="975.0" y="484.0" width="10.5" height="172.0" stroke="#d8d8d8" stroke-width="1" fill="none"/>
<path d="M978,657 L982,657 L982,661 L984,661 L980,665 L976,661 L978,661 Z" stroke="#d0d0d0" stroke-width="0.9" fill="none" />
<rect x="745.5" y="399.0" width="78.5" height="9.0" fill="#d4d4d4"/>
<rect x="732.5" y="383.0" width="12.3" height="27.0" fill="#d4d4d4"/>
<rect x="837.3" y="383.0" width="11.7" height="27.0" fill="#d4d4d4"/>
<path d="M736.6,372 L740.6,372 L740.6,376 L742.6,376 L738.6,380 L734.6,376 L736.6,376 Z" stroke="#d0d0d0" stroke-width="0.9" fill="none" />
<path d="M841,372 L845,372 L845,376 L847,376 L843,380 L839,376 L841,376 Z" stroke="#d0d0d0" stroke-width="0.9" fill="none" />
<rect x="732.0" y="412.7" width="117.0" height="8.0" fill="#d4d4d4"/>
<line x1="835.0" y1="412.7" x2="835.0" y2="420.7" stroke="#808080" stroke-width="0.8"/>
<rect x="731.0" y="425.7" width="139.0" height="10.3" fill="#d4d4d4"/>
<rect x="860" y="424.5" width="17.5" height="12.5" rx="3" fill="#d4d4d4"/>
<path d="M879,429 L879,433 L883,433 L883,435 L887,431 L883,427 L883,429 Z" stroke="#d0d0d0" stroke-width="0.9" fill="none" />
<rect x="797.0" y="423.0" width="29.0" height="20.0" stroke="#8a8a8a" stroke-width="0.8" fill="none"/>
<rect x="795.0" y="438.0" width="5.0" height="6.0" stroke="#909090" stroke-width="0.8" fill="none"/>
<rect x="860.5" y="370.4" width="10.3" height="6.7" fill="#cfcfcf"/>
<rect x="859.6" y="385.0" width="10.4" height="14.4" fill="#cfcfcf"/>
<rect x="873.0" y="383.0" width="10.8" height="7.6" fill="#cfcfcf"/>
<rect x="873.0" y="392.0" width="10.8" height="7.7" fill="#cfcfcf"/>
<rect x="859.8" y="401.0" width="11.0" height="7.0" fill="#cfcfcf"/>
<g transform="translate(706,404) rotate(30)">
<rect x="-1.5" y="-7.0" width="3.0" height="4.0" stroke="#d0d0d0" stroke-width="0.8" fill="none"/>
<line x1="-1.0" y1="-3.0" x2="-1.5" y2="7.0" stroke="#d0d0d0" stroke-width="1"/>
<line x1="1.0" y1="-3.0" x2="1.5" y2="7.0" stroke="#d0d0d0" stroke-width="1"/>
</g>
<line x1="666.5" y1="410.0" x2="666.5" y2="466.0" stroke="#c8c8c8" stroke-width="1"/>
<line x1="674.5" y1="410.0" x2="674.5" y2="466.0" stroke="#c8c8c8" stroke-width="1"/>
<path d="M668.2,397.7 L672.2,397.7 L672.2,401.7 L674.2,401.7 L670.2,405.7 L666.2,401.7 L668.2,401.7 Z" stroke="#d0d0d0" stroke-width="0.9" fill="none" />
<line x1="654.8" y1="433.0" x2="654.8" y2="466.0" stroke="#c8c8c8" stroke-width="1"/>
<line x1="663.4" y1="433.0" x2="663.4" y2="466.0" stroke="#c0c0c0" stroke-width="0.8"/>
<path d="M657.1,431 L661.1,431 L661.1,427 L663.1,427 L659.1,423 L655.1,427 L657.1,427 Z" stroke="#d0d0d0" stroke-width="0.9" fill="none" />
<line x1="735.0" y1="436.0" x2="735.0" y2="466.0" stroke="#c0c0c0" stroke-width="1"/>
<line x1="742.5" y1="436.0" x2="742.5" y2="466.0" stroke="#c0c0c0" stroke-width="1"/>
<line x1="758.0" y1="436.0" x2="758.0" y2="466.0" stroke="#c0c0c0" stroke-width="1"/>
<line x1="766.0" y1="436.0" x2="766.0" y2="466.0" stroke="#c0c0c0" stroke-width="1"/>
<line x1="825.0" y1="436.0" x2="825.0" y2="466.0" stroke="#c0c0c0" stroke-width="1"/>
<line x1="833.0" y1="436.0" x2="833.0" y2="466.0" stroke="#c0c0c0" stroke-width="1"/>
<line x1="852.0" y1="436.0" x2="852.0" y2="466.0" stroke="#c0c0c0" stroke-width="1"/>
<rect x="848.0" y="441.3" width="31.7" height="24.7" stroke="#c0c0c0" stroke-width="0.9" fill="none"/>
<rect x="857.0" y="444.0" width="12.3" height="18.7" fill="#cccccc"/>
<rect x="850.8" y="449.2" width="25.9" height="8.6" fill="#d4d4d4"/>
<path d="M896.2,466 L896.2,451 Q896.2,448 899,448 L905,448 Q907.8,448 907.8,451 L907.8,466" stroke="#d0d0d0" stroke-width="1.5" fill="none" />
<path d="M900,444 L904,444 L904,440 L906,440 L902,436 L898,440 L900,440 Z" stroke="#d0d0d0" stroke-width="0.9" fill="none" />
<rect x="891.3" y="461.5" width="24.7" height="4.5" stroke="#b0b0b0" stroke-width="0.8" fill="none"/>
<rect x="916.4" y="428.5" width="9.2" height="34.2" fill="#8e8e8e"/>
<line x1="916.4" y1="431.0" x2="925.6" y2="431.0" stroke="#a8a8a8" stroke-width="1"/>
<line x1="916.4" y1="435.2" x2="925.6" y2="435.2" stroke="#a8a8a8" stroke-width="1"/>
<line x1="916.4" y1="439.4" x2="925.6" y2="439.4" stroke="#a8a8a8" stroke-width="1"/>
<line x1="916.4" y1="443.6" x2="925.6" y2="443.6" stroke="#a8a8a8" stroke-width="1"/>
<line x1="916.4" y1="447.8" x2="925.6" y2="447.8" stroke="#a8a8a8" stroke-width="1"/>
<line x1="916.4" y1="452.0" x2="925.6" y2="452.0" stroke="#a8a8a8" stroke-width="1"/>
<line x1="916.4" y1="456.2" x2="925.6" y2="456.2" stroke="#a8a8a8" stroke-width="1"/>
<line x1="916.4" y1="460.4" x2="925.6" y2="460.4" stroke="#a8a8a8" stroke-width="1"/>
<rect x="924.4" y="398.0" width="14.9" height="29.8" stroke="#b8b8b8" stroke-width="0.9" fill="none"/>
<rect x="924.0" y="393.0" width="6.0" height="5.0" fill="#a0a0a0"/>
<rect x="939.3" y="389.0" width="10.1" height="38.8" fill="#d4d4d4"/>
<line x1="939.3" y1="402.0" x2="949.4" y2="402.0" stroke="#606060" stroke-width="0.8"/>
<line x1="939.3" y1="415.6" x2="949.4" y2="415.6" stroke="#606060" stroke-width="0.8"/>
<path d="M952.2,465.7 L952.2,392 Q952.2,389.3 955,389.3 L959.5,389.3 Q962,389.3 962,392 L962,465.7" stroke="#d0d0d0" stroke-width="1.5" fill="none" />
<path d="M955,386 L959,386 L959,382 L961,382 L957,378 L953,382 L955,382 Z" stroke="#d0d0d0" stroke-width="0.9" fill="none" />
<path d="M943.5,377 L943.5,391 M940,381 L943.5,377 L947,381 M940,387 L943.5,391 L947,387" stroke="#d0d0d0" stroke-width="1.2" fill="none"/>
<rect x="926.2" y="429.0" width="35.8" height="8.6" fill="#d4d4d4"/>
<line x1="938.4" y1="429.0" x2="938.4" y2="437.6" stroke="#707070" stroke-width="0.8"/>
<rect x="927.8" y="440.0" width="8.8" height="25.0" fill="#d4d4d4"/>
<rect x="927.0" y="439.0" width="10.4" height="27.0" stroke="#8a8a8a" stroke-width="0.8" fill="none"/>
<line x1="1022.8" y1="348.0" x2="1022.8" y2="475.5" stroke="#9a9a9a" stroke-width="2"/>
<rect x="1033.3" y="387.7" width="76.9" height="10.3" fill="#a6a6a6"/>
<rect x="1109.2" y="386.7" width="9" height="12.3" rx="2" fill="#a6a6a6"/>
<path d="M1119,391 L1119,395 L1123,395 L1123,397 L1127,393 L1123,389 L1123,391 Z" stroke="#a8a8a8" stroke-width="0.9" fill="none" />
<rect x="1034.8" y="403.2" width="99.8" height="9.6" fill="#a6a6a6"/>
<rect x="1133.6" y="402.2" width="9" height="11.6" rx="2" fill="#a6a6a6"/>
<path d="M1143,406 L1143,410 L1147,410 L1147,412 L1151,408 L1147,404 L1147,406 Z" stroke="#a8a8a8" stroke-width="0.9" fill="none" />
<rect x="1033.3" y="417.0" width="125.7" height="9.9" fill="#a6a6a6"/>
<rect x="1158.0" y="416.0" width="9" height="11.9" rx="2" fill="#a6a6a6"/>
<path d="M1168,420 L1168,424 L1172,424 L1172,426 L1176,422 L1172,418 L1172,420 Z" stroke="#a8a8a8" stroke-width="0.9" fill="none" />
<rect x="1033.8" y="388.0" width="8.8" height="69.0" stroke="#a0a0a0" stroke-width="1.2" fill="none"/>
<line x1="1033.8" y1="437.5" x2="1042.6" y2="437.5" stroke="#a8a8a8" stroke-width="1.2"/>
<line x1="1033.8" y1="443.0" x2="1042.6" y2="443.0" stroke="#a8a8a8" stroke-width="1.2"/>
<rect x="1033.8" y="445.0" width="8.8" height="7.0" fill="#a4a4a4"/>
<rect x="1029.5" y="456.0" width="21.5" height="18.5" stroke="#909090" stroke-width="0.9" fill="none"/>
<rect x="1031.0" y="458.5" width="15.0" height="11.5" stroke="#a0a0a0" stroke-width="1.2" fill="none"/>
<line x1="1028.5" y1="463.0" x2="1050.0" y2="463.0" stroke="#a8a8a8" stroke-width="1.2"/>
<line x1="1037.0" y1="456.0" x2="1037.0" y2="474.0" stroke="#a0a0a0" stroke-width="1"/>
<line x1="1041.0" y1="456.0" x2="1041.0" y2="474.0" stroke="#a0a0a0" stroke-width="1"/>
<rect x="1034.0" y="472.0" width="9.0" height="22.0" stroke="#a8a8a8" stroke-width="1" fill="none"/>
<rect x="1163.3" y="446.8" width="37.7" height="11.8" fill="#a6a6a6"/>
<rect x="1200.0" y="445.8" width="9" height="13.8" rx="2" fill="#a6a6a6"/>
<path d="M1210,450.5 L1210,454.5 L1214,454.5 L1214,456.5 L1218,452.5 L1214,448.5 L1214,450.5 Z" stroke="#a8a8a8" stroke-width="0.9" fill="none" />
<rect x="1157.4" y="448.3" width="4.4" height="7.4" stroke="#999999" stroke-width="0.8" fill="none"/>
<rect x="1145.6" y="459.4" width="78.4" height="11.0" fill="#a6a6a6"/>
<rect x="1223.0" y="458.4" width="9" height="13.0" rx="2" fill="#a6a6a6"/>
<path d="M1233,463 L1233,467 L1237,467 L1237,469 L1241,465 L1237,461 L1237,463 Z" stroke="#a8a8a8" stroke-width="0.9" fill="none" />
<circle cx="1137.7" cy="464.5" r="7" fill="#9c9c9c"/>
<rect x="1133.0" y="451.0" width="10.0" height="6.0" stroke="#a0a0a0" stroke-width="0.8" fill="none"/>
<rect x="1081.3" y="459.4" width="45" height="11" rx="4" stroke="#a0a0a0" stroke-width="1.2" fill="none"/>
<rect x="1097.5" y="454.2" width="51.5" height="19.2" stroke="#9a9a9a" stroke-width="0.8" fill="none"/>
<rect x="1119.0" y="459.0" width="8.0" height="43.0" stroke="#a8a8a8" stroke-width="1" fill="none"/>
<line x1="1043.0" y1="475.6" x2="1268.2" y2="475.6" stroke="#a0a0a0" stroke-width="2"/>
<line x1="1268.2" y1="475.6" x2="1268.2" y2="562.0" stroke="#a0a0a0" stroke-width="2"/>
<line x1="1049.3" y1="475.7" x2="1049.3" y2="501.0" stroke="#a0a0a0" stroke-width="1.5"/>
<line x1="1040.0" y1="501.0" x2="1049.3" y2="501.0" stroke="#a0a0a0" stroke-width="1"/>
<rect x="1050.7" y="486.2" width="4.3" height="49.4" stroke="#c2c2c2" stroke-width="1.2" fill="none"/>
<rect x="1051.8" y="488.0" width="2.2" height="46.0" fill="#404040"/>
<rect x="1055.0" y="487.8" width="17.0" height="3.5" fill="#404040"/>
<rect x="1055.0" y="491.3" width="17.0" height="4.1" fill="#404040"/>
<rect x="1055.0" y="495.4" width="17.0" height="4.6" fill="#404040"/>
<rect x="1055.0" y="500.0" width="17.0" height="4.6" fill="#404040"/>
<rect x="1055.0" y="504.6" width="17.0" height="4.4" fill="#404040"/>
<rect x="1055.0" y="509.0" width="17.0" height="4.6" fill="#404040"/>
<rect x="1055.0" y="513.6" width="17.0" height="4.9" fill="#404040"/>
<rect x="1055.0" y="518.5" width="17.0" height="4.5" fill="#404040"/>
<rect x="1055.0" y="523.0" width="17.0" height="4.5" fill="#404040"/>
<rect x="1055.0" y="527.5" width="17.0" height="4.3" fill="#404040"/>
<line x1="1055.0" y1="487.8" x2="1082.0" y2="487.8" stroke="#c2c2c2" stroke-width="1.2"/>
<line x1="1055.0" y1="491.3" x2="1072.0" y2="491.3" stroke="#c2c2c2" stroke-width="1.2"/>
<line x1="1055.0" y1="495.4" x2="1072.0" y2="495.4" stroke="#c2c2c2" stroke-width="1.2"/>
<line x1="1055.0" y1="500.0" x2="1072.0" y2="500.0" stroke="#c2c2c2" stroke-width="1.2"/>
<line x1="1055.0" y1="504.6" x2="1072.0" y2="504.6" stroke="#c2c2c2" stroke-width="1.2"/>
<line x1="1055.0" y1="509.0" x2="1072.0" y2="509.0" stroke="#c2c2c2" stroke-width="1.2"/>
<line x1="1055.0" y1="513.6" x2="1072.0" y2="513.6" stroke="#c2c2c2" stroke-width="1.2"/>
<line x1="1055.0" y1="518.5" x2="1072.0" y2="518.5" stroke="#c2c2c2" stroke-width="1.2"/>
<line x1="1055.0" y1="523.0" x2="1072.0" y2="523.0" stroke="#c2c2c2" stroke-width="1.2"/>
<line x1="1055.0" y1="527.5" x2="1072.0" y2="527.5" stroke="#c2c2c2" stroke-width="1.2"/>
<line x1="1055.0" y1="531.8" x2="1082.0" y2="531.8" stroke="#c2c2c2" stroke-width="1.2"/>
<rect x="1072.0" y="487.8" width="10.0" height="3.5" fill="#404040"/>
<rect x="1072.0" y="527.5" width="10.0" height="4.3" fill="#404040"/>
<line x1="1062.4" y1="487.8" x2="1062.4" y2="531.8" stroke="#c2c2c2" stroke-width="1.1"/>
<rect x="1082.0" y="485.3" width="18.0" height="15.5" fill="#c8c8c8"/>
<rect x="1082.0" y="517.2" width="18.0" height="16.3" fill="#c8c8c8"/>
<rect x="1083.5" y="487.0" width="15.0" height="2.0" fill="#404040"/>
<rect x="1083.5" y="497.0" width="15.0" height="2.0" fill="#404040"/>
<rect x="1083.5" y="531.0" width="15.0" height="2.0" fill="#404040"/>
<line x1="1091.0" y1="485.3" x2="1091.0" y2="500.8" stroke="#9a9a9a" stroke-width="0.8"/>
<rect x="1072.7" y="492.1" width="6.3" height="8.7" stroke="#c2c2c2" stroke-width="1" fill="none"/>
<rect x="1073.8" y="493.5" width="4.2" height="6.3" fill="#404040"/>
<rect x="1072.7" y="518.0" width="6.3" height="8.4" stroke="#c2c2c2" stroke-width="1" fill="none"/>
<rect x="1073.8" y="519.5" width="4.2" height="5.9" fill="#404040"/>
<line x1="1080.5" y1="492.0" x2="1080.5" y2="527.0" stroke="#c2c2c2" stroke-width="1"/>
<rect x="1102.1" y="492.4" width="8.9" height="10.9" stroke="#c2c2c2" stroke-width="1.3" fill="none"/>
<rect x="1103.6" y="494.5" width="5.9" height="7.3" fill="#4a4a4a"/>
<rect x="1102.1" y="515.5" width="8.9" height="10.6" fill="#c4c4c4"/>
<rect x="1105.0" y="518.0" width="3.0" height="5.5" fill="#8a8a8a"/>
<line x1="1055.0" y1="506.0" x2="1135.0" y2="506.0" stroke="#c2c2c2" stroke-width="1.2"/>
<line x1="1055.0" y1="513.3" x2="1135.0" y2="513.3" stroke="#c2c2c2" stroke-width="1.2"/>
<rect x="1072.0" y="506.0" width="28.0" height="7.3" fill="#404040"/>
<line x1="1082.0" y1="506.0" x2="1082.0" y2="513.3" stroke="#c2c2c2" stroke-width="1"/>
<line x1="1179.2" y1="487.5" x2="1205.0" y2="487.5" stroke="#c2c2c2" stroke-width="1.2"/>
<line x1="1179.2" y1="491.9" x2="1205.0" y2="491.9" stroke="#c2c2c2" stroke-width="1.2"/>
<line x1="1179.2" y1="496.6" x2="1205.0" y2="496.6" stroke="#c2c2c2" stroke-width="1.2"/>
<line x1="1179.2" y1="501.2" x2="1205.0" y2="501.2" stroke="#c2c2c2" stroke-width="1.2"/>
<line x1="1179.2" y1="505.8" x2="1205.0" y2="505.8" stroke="#c2c2c2" stroke-width="1.2"/>
<line x1="1179.2" y1="510.4" x2="1205.0" y2="510.4" stroke="#c2c2c2" stroke-width="1.2"/>
<line x1="1179.2" y1="515.0" x2="1205.0" y2="515.0" stroke="#c2c2c2" stroke-width="1.2"/>
<line x1="1179.2" y1="519.6" x2="1205.0" y2="519.6" stroke="#c2c2c2" stroke-width="1.2"/>
<line x1="1179.2" y1="524.2" x2="1205.0" y2="524.2" stroke="#c2c2c2" stroke-width="1.2"/>
<line x1="1179.2" y1="528.8" x2="1205.0" y2="528.8" stroke="#c2c2c2" stroke-width="1.2"/>
<line x1="1179.2" y1="533.4" x2="1205.0" y2="533.4" stroke="#c2c2c2" stroke-width="1.2"/>
<rect x="1180.0" y="488.2" width="24.0" height="3.2" fill="#404040"/>
<rect x="1180.0" y="492.6" width="24.0" height="3.2" fill="#404040"/>
<rect x="1180.0" y="497.3" width="24.0" height="3.2" fill="#404040"/>
<rect x="1180.0" y="501.9" width="24.0" height="3.2" fill="#404040"/>
<rect x="1180.0" y="506.5" width="24.0" height="3.2" fill="#404040"/>
<rect x="1180.0" y="511.1" width="24.0" height="3.2" fill="#404040"/>
<rect x="1180.0" y="515.7" width="24.0" height="3.2" fill="#404040"/>
<rect x="1180.0" y="520.3" width="24.0" height="3.2" fill="#404040"/>
<rect x="1180.0" y="524.9" width="24.0" height="3.2" fill="#404040"/>
<rect x="1180.0" y="529.5" width="24.0" height="3.2" fill="#404040"/>
<line x1="1194.0" y1="487.5" x2="1205.0" y2="487.5" stroke="#c2c2c2" stroke-width="1.2"/>
<line x1="1199.5" y1="487.5" x2="1199.5" y2="533.4" stroke="#c2c2c2" stroke-width="1.1"/>
<rect x="1205.4" y="482.6" width="4.1" height="60.4" stroke="#c2c2c2" stroke-width="1.2" fill="none"/>
<rect x="1206.4" y="484.0" width="2.1" height="57.5" fill="#404040"/>
<rect x="1211.0" y="482.6" width="4.6" height="60.4" stroke="#c2c2c2" stroke-width="1.2" fill="none"/>
<rect x="1212.0" y="484.0" width="2.6" height="57.5" fill="#404040"/>
<rect x="1162.3" y="485.8" width="16.3" height="14.8" fill="#c8c8c8"/>
<rect x="1162.3" y="518.4" width="16.3" height="14.9" fill="#c8c8c8"/>
<rect x="1163.5" y="487.0" width="6.0" height="2.0" fill="#404040"/>
<rect x="1171.5" y="487.0" width="6.0" height="13.0" fill="#404040"/>
<rect x="1163.5" y="531.0" width="14.0" height="2.0" fill="#404040"/>
<line x1="1171.0" y1="518.4" x2="1171.0" y2="533.3" stroke="#9a9a9a" stroke-width="0.8"/>
<rect x="1180.4" y="491.9" width="8.6" height="9.9" fill="#c8c8c8"/>
<rect x="1150.6" y="492.5" width="8.2" height="8.7" stroke="#c2c2c2" stroke-width="1.2" fill="none"/>
<rect x="1151.8" y="494.0" width="5.8" height="6.0" fill="#404040"/>
<rect x="1150.6" y="518.1" width="8.2" height="8.8" stroke="#c2c2c2" stroke-width="1.2" fill="none"/>
<rect x="1151.8" y="519.5" width="5.8" height="6.2" fill="#404040"/>
<rect x="1181.0" y="515.2" width="7.5" height="10.5" stroke="#c2c2c2" stroke-width="1.2" fill="none"/>
<rect x="1182.2" y="516.5" width="5.1" height="8.0" fill="#404040"/>
<line x1="1138.0" y1="504.1" x2="1210.0" y2="504.1" stroke="#c2c2c2" stroke-width="1.2"/>
<line x1="1138.0" y1="513.5" x2="1210.0" y2="513.5" stroke="#c2c2c2" stroke-width="1.2"/>
<rect x="1138.0" y="504.6" width="72.0" height="8.4" fill="#404040"/>
<line x1="1144.8" y1="502.0" x2="1144.8" y2="515.5" stroke="#c2c2c2" stroke-width="1.2"/>
<line x1="1153.0" y1="502.0" x2="1153.0" y2="515.5" stroke="#c2c2c2" stroke-width="1.2"/>
<line x1="1161.7" y1="502.0" x2="1161.7" y2="515.5" stroke="#c2c2c2" stroke-width="1.2"/>
<line x1="1170.5" y1="502.0" x2="1170.5" y2="515.5" stroke="#c2c2c2" stroke-width="1.2"/>
<line x1="1178.6" y1="502.0" x2="1178.6" y2="515.5" stroke="#c2c2c2" stroke-width="1.2"/>
<line x1="1189.1" y1="502.0" x2="1189.1" y2="515.5" stroke="#c2c2c2" stroke-width="1.2"/>
<line x1="1166.0" y1="500.0" x2="1172.0" y2="486.0" stroke="#c2c2c2" stroke-width="1.2"/>
<rect x="1134.3" y="483.2" width="7.0" height="19.2" stroke="#c2c2c2" stroke-width="1.1" fill="none"/>
<path d="M1051,542 L1104,542 Q1110,542 1113,537 L1129,510 Q1132,505 1132,498 L1132,490 Q1132,481 1141,481 L1243,481 Q1253.5,481 1253.5,491 L1253.5,566" stroke="#c6c6c6" stroke-width="5.5" fill="none" />
<path d="M1051,542 L1104,542 Q1110,542 1113,537 L1129,510 Q1132,505 1132,498 L1132,490 Q1132,481 1141,481 L1243,481 Q1253.5,481 1253.5,491 L1253.5,566" stroke="#4e4e4e" stroke-width="2.2" fill="none" stroke-dasharray="9,2,3,2"/>
<path d="M1132,505 L1132,518 Q1132,525 1138,529 L1157,539 Q1161,542 1166,542 L1209,542" stroke="#c6c6c6" stroke-width="5.5" fill="none" />
<path d="M1132,505 L1132,518 Q1132,525 1138,529 L1157,539 Q1161,542 1166,542 L1209,542" stroke="#4e4e4e" stroke-width="2.2" fill="none" stroke-dasharray="9,2,3,2"/>
<rect x="1206.7" y="483.0" width="8.0" height="60.0" stroke="#c4c4c4" stroke-width="1" fill="none"/>
<line x1="1210.7" y1="483.0" x2="1210.7" y2="543.0" stroke="#c4c4c4" stroke-width="0.8"/>
<line x1="1250.7" y1="497.0" x2="1217.3" y2="555.7" stroke="#c4c4c4" stroke-width="1"/>
<line x1="1254.0" y1="502.0" x2="1221.0" y2="560.0" stroke="#c4c4c4" stroke-width="1"/>
<rect x="1119.3" y="465.0" width="8.0" height="38.0" stroke="#c4c4c4" stroke-width="1" fill="none"/>
<rect x="1133.3" y="473.0" width="8.0" height="30.0" stroke="#c4c4c4" stroke-width="1" fill="none"/>
<line x1="1266.6" y1="568.0" x2="1266.6" y2="644.0" stroke="#a0a0a0" stroke-width="2.2"/>
<line x1="1265.0" y1="475.0" x2="1265.0" y2="668.0" stroke="#b8b8b8" stroke-width="0.8"/>
<line x1="1266.6" y1="568.9" x2="1610.8" y2="568.9" stroke="#a0a0a0" stroke-width="2.2"/>
<line x1="1266.6" y1="643.5" x2="1610.8" y2="643.5" stroke="#a0a0a0" stroke-width="2.2"/>
<line x1="1610.8" y1="568.0" x2="1610.8" y2="644.0" stroke="#b0b0b0" stroke-width="1.2"/>
<rect x="1303.0" y="575.2" width="282.0" height="4.8" fill="#bdbdbd"/>
<rect x="1305.5" y="576.4" width="2.2" height="2.4" fill="#505050"/>
<rect x="1309.4" y="576.4" width="2.2" height="2.4" fill="#505050"/>
<rect x="1313.3" y="576.4" width="2.2" height="2.4" fill="#505050"/>
<rect x="1317.2" y="576.4" width="2.2" height="2.4" fill="#505050"/>
<rect x="1321.1" y="576.4" width="2.2" height="2.4" fill="#505050"/>
<rect x="1326.2" y="576.4" width="2.2" height="2.4" fill="#505050"/>
<rect x="1330.1" y="576.4" width="2.2" height="2.4" fill="#505050"/>
<rect x="1334.0" y="576.4" width="2.2" height="2.4" fill="#505050"/>
<rect x="1337.9" y="576.4" width="2.2" height="2.4" fill="#505050"/>
<rect x="1341.8" y="576.4" width="2.2" height="2.4" fill="#505050"/>
<rect x="1346.9" y="576.4" width="2.2" height="2.4" fill="#505050"/>
<rect x="1350.8" y="576.4" width="2.2" height="2.4" fill="#505050"/>
<rect x="1354.7" y="576.4" width="2.2" height="2.4" fill="#505050"/>
<rect x="1358.6" y="576.4" width="2.2" height="2.4" fill="#505050"/>
<rect x="1362.5" y="576.4" width="2.2" height="2.4" fill="#505050"/>
<rect x="1367.6" y="576.4" width="2.2" height="2.4" fill="#505050"/>
<rect x="1371.5" y="576.4" width="2.2" height="2.4" fill="#505050"/>
<rect x="1375.4" y="576.4" width="2.2" height="2.4" fill="#505050"/>
<rect x="1379.3" y="576.4" width="2.2" height="2.4" fill="#505050"/>
<rect x="1383.2" y="576.4" width="2.2" height="2.4" fill="#505050"/>
<rect x="1388.3" y="576.4" width="2.2" height="2.4" fill="#505050"/>
<rect x="1392.2" y="576.4" width="2.2" height="2.4" fill="#505050"/>
<rect x="1396.1" y="576.4" width="2.2" height="2.4" fill="#505050"/>
<rect x="1400.0" y="576.4" width="2.2" height="2.4" fill="#505050"/>
<rect x="1403.9" y="576.4" width="2.2" height="2.4" fill="#505050"/>
<rect x="1409.0" y="576.4" width="2.2" height="2.4" fill="#505050"/>
<rect x="1412.9" y="576.4" width="2.2" height="2.4" fill="#505050"/>
<rect x="1416.8" y="576.4" width="2.2" height="2.4" fill="#505050"/>
<rect x="1420.7" y="576.4" width="2.2" height="2.4" fill="#505050"/>
<rect x="1424.6" y="576.4" width="2.2" height="2.4" fill="#505050"/>
<rect x="1429.7" y="576.4" width="2.2" height="2.4" fill="#505050"/>
<rect x="1433.6" y="576.4" width="2.2" height="2.4" fill="#505050"/>
<rect x="1437.5" y="576.4" width="2.2" height="2.4" fill="#505050"/>
<rect x="1441.4" y="576.4" width="2.2" height="2.4" fill="#505050"/>
<rect x="1445.3" y="576.4" width="2.2" height="2.4" fill="#505050"/>
<rect x="1450.4" y="576.4" width="2.2" height="2.4" fill="#505050"/>
<rect x="1454.3" y="576.4" width="2.2" height="2.4" fill="#505050"/>
<rect x="1458.2" y="576.4" width="2.2" height="2.4" fill="#505050"/>
<rect x="1462.1" y="576.4" width="2.2" height="2.4" fill="#505050"/>
<rect x="1466.0" y="576.4" width="2.2" height="2.4" fill="#505050"/>
<rect x="1471.1" y="576.4" width="2.2" height="2.4" fill="#505050"/>
<rect x="1475.0" y="576.4" width="2.2" height="2.4" fill="#505050"/>
<rect x="1478.9" y="576.4" width="2.2" height="2.4" fill="#505050"/>
<rect x="1482.8" y="576.4" width="2.2" height="2.4" fill="#505050"/>
<rect x="1486.7" y="576.4" width="2.2" height="2.4" fill="#505050"/>
<rect x="1491.8" y="576.4" width="2.2" height="2.4" fill="#505050"/>
<rect x="1495.7" y="576.4" width="2.2" height="2.4" fill="#505050"/>
<rect x="1499.6" y="576.4" width="2.2" height="2.4" fill="#505050"/>
<rect x="1503.5" y="576.4" width="2.2" height="2.4" fill="#505050"/>
<rect x="1507.4" y="576.4" width="2.2" height="2.4" fill="#505050"/>
<rect x="1512.5" y="576.4" width="2.2" height="2.4" fill="#505050"/>
<rect x="1516.4" y="576.4" width="2.2" height="2.4" fill="#505050"/>
<rect x="1520.3" y="576.4" width="2.2" height="2.4" fill="#505050"/>
<rect x="1524.2" y="576.4" width="2.2" height="2.4" fill="#505050"/>
<rect x="1528.1" y="576.4" width="2.2" height="2.4" fill="#505050"/>
<rect x="1533.2" y="576.4" width="2.2" height="2.4" fill="#505050"/>
<rect x="1537.1" y="576.4" width="2.2" height="2.4" fill="#505050"/>
<rect x="1541.0" y="576.4" width="2.2" height="2.4" fill="#505050"/>
<rect x="1544.9" y="576.4" width="2.2" height="2.4" fill="#505050"/>
<rect x="1548.8" y="576.4" width="2.2" height="2.4" fill="#505050"/>
<rect x="1553.9" y="576.4" width="2.2" height="2.4" fill="#505050"/>
<rect x="1557.8" y="576.4" width="2.2" height="2.4" fill="#505050"/>
<rect x="1561.7" y="576.4" width="2.2" height="2.4" fill="#505050"/>
<rect x="1565.6" y="576.4" width="2.2" height="2.4" fill="#505050"/>
<rect x="1569.5" y="576.4" width="2.2" height="2.4" fill="#505050"/>
<rect x="1574.6" y="576.4" width="2.2" height="2.4" fill="#505050"/>
<rect x="1578.5" y="576.4" width="2.2" height="2.4" fill="#505050"/>
<rect x="1303.0" y="591.8" width="282.0" height="4.2" fill="#bdbdbd"/>
<rect x="1305.5" y="593.0" width="2.2" height="1.8" fill="#505050"/>
<rect x="1309.4" y="593.0" width="2.2" height="1.8" fill="#505050"/>
<rect x="1313.3" y="593.0" width="2.2" height="1.8" fill="#505050"/>
<rect x="1317.2" y="593.0" width="2.2" height="1.8" fill="#505050"/>
<rect x="1321.1" y="593.0" width="2.2" height="1.8" fill="#505050"/>
<rect x="1326.2" y="593.0" width="2.2" height="1.8" fill="#505050"/>
<rect x="1330.1" y="593.0" width="2.2" height="1.8" fill="#505050"/>
<rect x="1334.0" y="593.0" width="2.2" height="1.8" fill="#505050"/>
<rect x="1337.9" y="593.0" width="2.2" height="1.8" fill="#505050"/>
<rect x="1341.8" y="593.0" width="2.2" height="1.8" fill="#505050"/>
<rect x="1346.9" y="593.0" width="2.2" height="1.8" fill="#505050"/>
<rect x="1350.8" y="593.0" width="2.2" height="1.8" fill="#505050"/>
<rect x="1354.7" y="593.0" width="2.2" height="1.8" fill="#505050"/>
<rect x="1358.6" y="593.0" width="2.2" height="1.8" fill="#505050"/>
<rect x="1362.5" y="593.0" width="2.2" height="1.8" fill="#505050"/>
<rect x="1367.6" y="593.0" width="2.2" height="1.8" fill="#505050"/>
<rect x="1371.5" y="593.0" width="2.2" height="1.8" fill="#505050"/>
<rect x="1375.4" y="593.0" width="2.2" height="1.8" fill="#505050"/>
<rect x="1379.3" y="593.0" width="2.2" height="1.8" fill="#505050"/>
<rect x="1383.2" y="593.0" width="2.2" height="1.8" fill="#505050"/>
<rect x="1388.3" y="593.0" width="2.2" height="1.8" fill="#505050"/>
<rect x="1392.2" y="593.0" width="2.2" height="1.8" fill="#505050"/>
<rect x="1396.1" y="593.0" width="2.2" height="1.8" fill="#505050"/>
<rect x="1400.0" y="593.0" width="2.2" height="1.8" fill="#505050"/>
<rect x="1403.9" y="593.0" width="2.2" height="1.8" fill="#505050"/>
<rect x="1409.0" y="593.0" width="2.2" height="1.8" fill="#505050"/>
<rect x="1412.9" y="593.0" width="2.2" height="1.8" fill="#505050"/>
<rect x="1416.8" y="593.0" width="2.2" height="1.8" fill="#505050"/>
<rect x="1420.7" y="593.0" width="2.2" height="1.8" fill="#505050"/>
<rect x="1424.6" y="593.0" width="2.2" height="1.8" fill="#505050"/>
<rect x="1429.7" y="593.0" width="2.2" height="1.8" fill="#505050"/>
<rect x="1433.6" y="593.0" width="2.2" height="1.8" fill="#505050"/>
<rect x="1437.5" y="593.0" width="2.2" height="1.8" fill="#505050"/>
<rect x="1441.4" y="593.0" width="2.2" height="1.8" fill="#505050"/>
<rect x="1445.3" y="593.0" width="2.2" height="1.8" fill="#505050"/>
<rect x="1450.4" y="593.0" width="2.2" height="1.8" fill="#505050"/>
<rect x="1454.3" y="593.0" width="2.2" height="1.8" fill="#505050"/>
<rect x="1458.2" y="593.0" width="2.2" height="1.8" fill="#505050"/>
<rect x="1462.1" y="593.0" width="2.2" height="1.8" fill="#505050"/>
<rect x="1466.0" y="593.0" width="2.2" height="1.8" fill="#505050"/>
<rect x="1471.1" y="593.0" width="2.2" height="1.8" fill="#505050"/>
<rect x="1475.0" y="593.0" width="2.2" height="1.8" fill="#505050"/>
<rect x="1478.9" y="593.0" width="2.2" height="1.8" fill="#505050"/>
<rect x="1482.8" y="593.0" width="2.2" height="1.8" fill="#505050"/>
<rect x="1486.7" y="593.0" width="2.2" height="1.8" fill="#505050"/>
<rect x="1491.8" y="593.0" width="2.2" height="1.8" fill="#505050"/>
<rect x="1495.7" y="593.0" width="2.2" height="1.8" fill="#505050"/>
<rect x="1499.6" y="593.0" width="2.2" height="1.8" fill="#505050"/>
<rect x="1503.5" y="593.0" width="2.2" height="1.8" fill="#505050"/>
<rect x="1507.4" y="593.0" width="2.2" height="1.8" fill="#505050"/>
<rect x="1512.5" y="593.0" width="2.2" height="1.8" fill="#505050"/>
<rect x="1516.4" y="593.0" width="2.2" height="1.8" fill="#505050"/>
<rect x="1520.3" y="593.0" width="2.2" height="1.8" fill="#505050"/>
<rect x="1524.2" y="593.0" width="2.2" height="1.8" fill="#505050"/>
<rect x="1528.1" y="593.0" width="2.2" height="1.8" fill="#505050"/>
<rect x="1533.2" y="593.0" width="2.2" height="1.8" fill="#505050"/>
<rect x="1537.1" y="593.0" width="2.2" height="1.8" fill="#505050"/>
<rect x="1541.0" y="593.0" width="2.2" height="1.8" fill="#505050"/>
<rect x="1544.9" y="593.0" width="2.2" height="1.8" fill="#505050"/>
<rect x="1548.8" y="593.0" width="2.2" height="1.8" fill="#505050"/>
<rect x="1553.9" y="593.0" width="2.2" height="1.8" fill="#505050"/>
<rect x="1557.8" y="593.0" width="2.2" height="1.8" fill="#505050"/>
<rect x="1561.7" y="593.0" width="2.2" height="1.8" fill="#505050"/>
<rect x="1565.6" y="593.0" width="2.2" height="1.8" fill="#505050"/>
<rect x="1569.5" y="593.0" width="2.2" height="1.8" fill="#505050"/>
<rect x="1574.6" y="593.0" width="2.2" height="1.8" fill="#505050"/>
<rect x="1578.5" y="593.0" width="2.2" height="1.8" fill="#505050"/>
<rect x="1303.0" y="597.8" width="282.0" height="4.7" fill="#bdbdbd"/>
<rect x="1305.5" y="599.0" width="2.2" height="2.3" fill="#505050"/>
<rect x="1309.4" y="599.0" width="2.2" height="2.3" fill="#505050"/>
<rect x="1313.3" y="599.0" width="2.2" height="2.3" fill="#505050"/>
<rect x="1317.2" y="599.0" width="2.2" height="2.3" fill="#505050"/>
<rect x="1321.1" y="599.0" width="2.2" height="2.3" fill="#505050"/>
<rect x="1326.2" y="599.0" width="2.2" height="2.3" fill="#505050"/>
<rect x="1330.1" y="599.0" width="2.2" height="2.3" fill="#505050"/>
<rect x="1334.0" y="599.0" width="2.2" height="2.3" fill="#505050"/>
<rect x="1337.9" y="599.0" width="2.2" height="2.3" fill="#505050"/>
<rect x="1341.8" y="599.0" width="2.2" height="2.3" fill="#505050"/>
<rect x="1346.9" y="599.0" width="2.2" height="2.3" fill="#505050"/>
<rect x="1350.8" y="599.0" width="2.2" height="2.3" fill="#505050"/>
<rect x="1354.7" y="599.0" width="2.2" height="2.3" fill="#505050"/>
<rect x="1358.6" y="599.0" width="2.2" height="2.3" fill="#505050"/>
<rect x="1362.5" y="599.0" width="2.2" height="2.3" fill="#505050"/>
<rect x="1367.6" y="599.0" width="2.2" height="2.3" fill="#505050"/>
<rect x="1371.5" y="599.0" width="2.2" height="2.3" fill="#505050"/>
<rect x="1375.4" y="599.0" width="2.2" height="2.3" fill="#505050"/>
<rect x="1379.3" y="599.0" width="2.2" height="2.3" fill="#505050"/>
<rect x="1383.2" y="599.0" width="2.2" height="2.3" fill="#505050"/>
<rect x="1388.3" y="599.0" width="2.2" height="2.3" fill="#505050"/>
<rect x="1392.2" y="599.0" width="2.2" height="2.3" fill="#505050"/>
<rect x="1396.1" y="599.0" width="2.2" height="2.3" fill="#505050"/>
<rect x="1400.0" y="599.0" width="2.2" height="2.3" fill="#505050"/>
<rect x="1403.9" y="599.0" width="2.2" height="2.3" fill="#505050"/>
<rect x="1409.0" y="599.0" width="2.2" height="2.3" fill="#505050"/>
<rect x="1412.9" y="599.0" width="2.2" height="2.3" fill="#505050"/>
<rect x="1416.8" y="599.0" width="2.2" height="2.3" fill="#505050"/>
<rect x="1420.7" y="599.0" width="2.2" height="2.3" fill="#505050"/>
<rect x="1424.6" y="599.0" width="2.2" height="2.3" fill="#505050"/>
<rect x="1429.7" y="599.0" width="2.2" height="2.3" fill="#505050"/>
<rect x="1433.6" y="599.0" width="2.2" height="2.3" fill="#505050"/>
<rect x="1437.5" y="599.0" width="2.2" height="2.3" fill="#505050"/>
<rect x="1441.4" y="599.0" width="2.2" height="2.3" fill="#505050"/>
<rect x="1445.3" y="599.0" width="2.2" height="2.3" fill="#505050"/>
<rect x="1450.4" y="599.0" width="2.2" height="2.3" fill="#505050"/>
<rect x="1454.3" y="599.0" width="2.2" height="2.3" fill="#505050"/>
<rect x="1458.2" y="599.0" width="2.2" height="2.3" fill="#505050"/>
<rect x="1462.1" y="599.0" width="2.2" height="2.3" fill="#505050"/>
<rect x="1466.0" y="599.0" width="2.2" height="2.3" fill="#505050"/>
<rect x="1471.1" y="599.0" width="2.2" height="2.3" fill="#505050"/>
<rect x="1475.0" y="599.0" width="2.2" height="2.3" fill="#505050"/>
<rect x="1478.9" y="599.0" width="2.2" height="2.3" fill="#505050"/>
<rect x="1482.8" y="599.0" width="2.2" height="2.3" fill="#505050"/>
<rect x="1486.7" y="599.0" width="2.2" height="2.3" fill="#505050"/>
<rect x="1491.8" y="599.0" width="2.2" height="2.3" fill="#505050"/>
<rect x="1495.7" y="599.0" width="2.2" height="2.3" fill="#505050"/>
<rect x="1499.6" y="599.0" width="2.2" height="2.3" fill="#505050"/>
<rect x="1503.5" y="599.0" width="2.2" height="2.3" fill="#505050"/>
<rect x="1507.4" y="599.0" width="2.2" height="2.3" fill="#505050"/>
<rect x="1512.5" y="599.0" width="2.2" height="2.3" fill="#505050"/>
<rect x="1516.4" y="599.0" width="2.2" height="2.3" fill="#505050"/>
<rect x="1520.3" y="599.0" width="2.2" height="2.3" fill="#505050"/>
<rect x="1524.2" y="599.0" width="2.2" height="2.3" fill="#505050"/>
<rect x="1528.1" y="599.0" width="2.2" height="2.3" fill="#505050"/>
<rect x="1533.2" y="599.0" width="2.2" height="2.3" fill="#505050"/>
<rect x="1537.1" y="599.0" width="2.2" height="2.3" fill="#505050"/>
<rect x="1541.0" y="599.0" width="2.2" height="2.3" fill="#505050"/>
<rect x="1544.9" y="599.0" width="2.2" height="2.3" fill="#505050"/>
<rect x="1548.8" y="599.0" width="2.2" height="2.3" fill="#505050"/>
<rect x="1553.9" y="599.0" width="2.2" height="2.3" fill="#505050"/>
<rect x="1557.8" y="599.0" width="2.2" height="2.3" fill="#505050"/>
<rect x="1561.7" y="599.0" width="2.2" height="2.3" fill="#505050"/>
<rect x="1565.6" y="599.0" width="2.2" height="2.3" fill="#505050"/>
<rect x="1569.5" y="599.0" width="2.2" height="2.3" fill="#505050"/>
<rect x="1574.6" y="599.0" width="2.2" height="2.3" fill="#505050"/>
<rect x="1578.5" y="599.0" width="2.2" height="2.3" fill="#505050"/>
<rect x="1303.0" y="614.6" width="282.0" height="4.6" fill="#bdbdbd"/>
<rect x="1305.5" y="615.8" width="2.2" height="2.2" fill="#505050"/>
<rect x="1309.4" y="615.8" width="2.2" height="2.2" fill="#505050"/>
<rect x="1313.3" y="615.8" width="2.2" height="2.2" fill="#505050"/>
<rect x="1317.2" y="615.8" width="2.2" height="2.2" fill="#505050"/>
<rect x="1321.1" y="615.8" width="2.2" height="2.2" fill="#505050"/>
<rect x="1326.2" y="615.8" width="2.2" height="2.2" fill="#505050"/>
<rect x="1330.1" y="615.8" width="2.2" height="2.2" fill="#505050"/>
<rect x="1334.0" y="615.8" width="2.2" height="2.2" fill="#505050"/>
<rect x="1337.9" y="615.8" width="2.2" height="2.2" fill="#505050"/>
<rect x="1341.8" y="615.8" width="2.2" height="2.2" fill="#505050"/>
<rect x="1346.9" y="615.8" width="2.2" height="2.2" fill="#505050"/>
<rect x="1350.8" y="615.8" width="2.2" height="2.2" fill="#505050"/>
<rect x="1354.7" y="615.8" width="2.2" height="2.2" fill="#505050"/>
<rect x="1358.6" y="615.8" width="2.2" height="2.2" fill="#505050"/>
<rect x="1362.5" y="615.8" width="2.2" height="2.2" fill="#505050"/>
<rect x="1367.6" y="615.8" width="2.2" height="2.2" fill="#505050"/>
<rect x="1371.5" y="615.8" width="2.2" height="2.2" fill="#505050"/>
<rect x="1375.4" y="615.8" width="2.2" height="2.2" fill="#505050"/>
<rect x="1379.3" y="615.8" width="2.2" height="2.2" fill="#505050"/>
<rect x="1383.2" y="615.8" width="2.2" height="2.2" fill="#505050"/>
<rect x="1388.3" y="615.8" width="2.2" height="2.2" fill="#505050"/>
<rect x="1392.2" y="615.8" width="2.2" height="2.2" fill="#505050"/>
<rect x="1396.1" y="615.8" width="2.2" height="2.2" fill="#505050"/>
<rect x="1400.0" y="615.8" width="2.2" height="2.2" fill="#505050"/>
<rect x="1403.9" y="615.8" width="2.2" height="2.2" fill="#505050"/>
<rect x="1409.0" y="615.8" width="2.2" height="2.2" fill="#505050"/>
<rect x="1412.9" y="615.8" width="2.2" height="2.2" fill="#505050"/>
<rect x="1416.8" y="615.8" width="2.2" height="2.2" fill="#505050"/>
<rect x="1420.7" y="615.8" width="2.2" height="2.2" fill="#505050"/>
<rect x="1424.6" y="615.8" width="2.2" height="2.2" fill="#505050"/>
<rect x="1429.7" y="615.8" width="2.2" height="2.2" fill="#505050"/>
<rect x="1433.6" y="615.8" width="2.2" height="2.2" fill="#505050"/>
<rect x="1437.5" y="615.8" width="2.2" height="2.2" fill="#505050"/>
<rect x="1441.4" y="615.8" width="2.2" height="2.2" fill="#505050"/>
<rect x="1445.3" y="615.8" width="2.2" height="2.2" fill="#505050"/>
<rect x="1450.4" y="615.8" width="2.2" height="2.2" fill="#505050"/>
<rect x="1454.3" y="615.8" width="2.2" height="2.2" fill="#505050"/>
<rect x="1458.2" y="615.8" width="2.2" height="2.2" fill="#505050"/>
<rect x="1462.1" y="615.8" width="2.2" height="2.2" fill="#505050"/>
<rect x="1466.0" y="615.8" width="2.2" height="2.2" fill="#505050"/>
<rect x="1471.1" y="615.8" width="2.2" height="2.2" fill="#505050"/>
<rect x="1475.0" y="615.8" width="2.2" height="2.2" fill="#505050"/>
<rect x="1478.9" y="615.8" width="2.2" height="2.2" fill="#505050"/>
<rect x="1482.8" y="615.8" width="2.2" height="2.2" fill="#505050"/>
<rect x="1486.7" y="615.8" width="2.2" height="2.2" fill="#505050"/>
<rect x="1491.8" y="615.8" width="2.2" height="2.2" fill="#505050"/>
<rect x="1495.7" y="615.8" width="2.2" height="2.2" fill="#505050"/>
<rect x="1499.6" y="615.8" width="2.2" height="2.2" fill="#505050"/>
<rect x="1503.5" y="615.8" width="2.2" height="2.2" fill="#505050"/>
<rect x="1507.4" y="615.8" width="2.2" height="2.2" fill="#505050"/>
<rect x="1512.5" y="615.8" width="2.2" height="2.2" fill="#505050"/>
<rect x="1516.4" y="615.8" width="2.2" height="2.2" fill="#505050"/>
<rect x="1520.3" y="615.8" width="2.2" height="2.2" fill="#505050"/>
<rect x="1524.2" y="615.8" width="2.2" height="2.2" fill="#505050"/>
<rect x="1528.1" y="615.8" width="2.2" height="2.2" fill="#505050"/>
<rect x="1533.2" y="615.8" width="2.2" height="2.2" fill="#505050"/>
<rect x="1537.1" y="615.8" width="2.2" height="2.2" fill="#505050"/>
<rect x="1541.0" y="615.8" width="2.2" height="2.2" fill="#505050"/>
<rect x="1544.9" y="615.8" width="2.2" height="2.2" fill="#505050"/>
<rect x="1548.8" y="615.8" width="2.2" height="2.2" fill="#505050"/>
<rect x="1553.9" y="615.8" width="2.2" height="2.2" fill="#505050"/>
<rect x="1557.8" y="615.8" width="2.2" height="2.2" fill="#505050"/>
<rect x="1561.7" y="615.8" width="2.2" height="2.2" fill="#505050"/>
<rect x="1565.6" y="615.8" width="2.2" height="2.2" fill="#505050"/>
<rect x="1569.5" y="615.8" width="2.2" height="2.2" fill="#505050"/>
<rect x="1574.6" y="615.8" width="2.2" height="2.2" fill="#505050"/>
<rect x="1578.5" y="615.8" width="2.2" height="2.2" fill="#505050"/>
<rect x="1303.0" y="620.4" width="282.0" height="4.6" fill="#bdbdbd"/>
<rect x="1305.5" y="621.6" width="2.2" height="2.2" fill="#505050"/>
<rect x="1309.4" y="621.6" width="2.2" height="2.2" fill="#505050"/>
<rect x="1313.3" y="621.6" width="2.2" height="2.2" fill="#505050"/>
<rect x="1317.2" y="621.6" width="2.2" height="2.2" fill="#505050"/>
<rect x="1321.1" y="621.6" width="2.2" height="2.2" fill="#505050"/>
<rect x="1326.2" y="621.6" width="2.2" height="2.2" fill="#505050"/>
<rect x="1330.1" y="621.6" width="2.2" height="2.2" fill="#505050"/>
<rect x="1334.0" y="621.6" width="2.2" height="2.2" fill="#505050"/>
<rect x="1337.9" y="621.6" width="2.2" height="2.2" fill="#505050"/>
<rect x="1341.8" y="621.6" width="2.2" height="2.2" fill="#505050"/>
<rect x="1346.9" y="621.6" width="2.2" height="2.2" fill="#505050"/>
<rect x="1350.8" y="621.6" width="2.2" height="2.2" fill="#505050"/>
<rect x="1354.7" y="621.6" width="2.2" height="2.2" fill="#505050"/>
<rect x="1358.6" y="621.6" width="2.2" height="2.2" fill="#505050"/>
<rect x="1362.5" y="621.6" width="2.2" height="2.2" fill="#505050"/>
<rect x="1367.6" y="621.6" width="2.2" height="2.2" fill="#505050"/>
<rect x="1371.5" y="621.6" width="2.2" height="2.2" fill="#505050"/>
<rect x="1375.4" y="621.6" width="2.2" height="2.2" fill="#505050"/>
<rect x="1379.3" y="621.6" width="2.2" height="2.2" fill="#505050"/>
<rect x="1383.2" y="621.6" width="2.2" height="2.2" fill="#505050"/>
<rect x="1388.3" y="621.6" width="2.2" height="2.2" fill="#505050"/>
<rect x="1392.2" y="621.6" width="2.2" height="2.2" fill="#505050"/>
<rect x="1396.1" y="621.6" width="2.2" height="2.2" fill="#505050"/>
<rect x="1400.0" y="621.6" width="2.2" height="2.2" fill="#505050"/>
<rect x="1403.9" y="621.6" width="2.2" height="2.2" fill="#505050"/>
<rect x="1409.0" y="621.6" width="2.2" height="2.2" fill="#505050"/>
<rect x="1412.9" y="621.6" width="2.2" height="2.2" fill="#505050"/>
<rect x="1416.8" y="621.6" width="2.2" height="2.2" fill="#505050"/>
<rect x="1420.7" y="621.6" width="2.2" height="2.2" fill="#505050"/>
<rect x="1424.6" y="621.6" width="2.2" height="2.2" fill="#505050"/>
<rect x="1429.7" y="621.6" width="2.2" height="2.2" fill="#505050"/>
<rect x="1433.6" y="621.6" width="2.2" height="2.2" fill="#505050"/>
<rect x="1437.5" y="621.6" width="2.2" height="2.2" fill="#505050"/>
<rect x="1441.4" y="621.6" width="2.2" height="2.2" fill="#505050"/>
<rect x="1445.3" y="621.6" width="2.2" height="2.2" fill="#505050"/>
<rect x="1450.4" y="621.6" width="2.2" height="2.2" fill="#505050"/>
<rect x="1454.3" y="621.6" width="2.2" height="2.2" fill="#505050"/>
<rect x="1458.2" y="621.6" width="2.2" height="2.2" fill="#505050"/>
<rect x="1462.1" y="621.6" width="2.2" height="2.2" fill="#505050"/>
<rect x="1466.0" y="621.6" width="2.2" height="2.2" fill="#505050"/>
<rect x="1471.1" y="621.6" width="2.2" height="2.2" fill="#505050"/>
<rect x="1475.0" y="621.6" width="2.2" height="2.2" fill="#505050"/>
<rect x="1478.9" y="621.6" width="2.2" height="2.2" fill="#505050"/>
<rect x="1482.8" y="621.6" width="2.2" height="2.2" fill="#505050"/>
<rect x="1486.7" y="621.6" width="2.2" height="2.2" fill="#505050"/>
<rect x="1491.8" y="621.6" width="2.2" height="2.2" fill="#505050"/>
<rect x="1495.7" y="621.6" width="2.2" height="2.2" fill="#505050"/>
<rect x="1499.6" y="621.6" width="2.2" height="2.2" fill="#505050"/>
<rect x="1503.5" y="621.6" width="2.2" height="2.2" fill="#505050"/>
<rect x="1507.4" y="621.6" width="2.2" height="2.2" fill="#505050"/>
<rect x="1512.5" y="621.6" width="2.2" height="2.2" fill="#505050"/>
<rect x="1516.4" y="621.6" width="2.2" height="2.2" fill="#505050"/>
<rect x="1520.3" y="621.6" width="2.2" height="2.2" fill="#505050"/>
<rect x="1524.2" y="621.6" width="2.2" height="2.2" fill="#505050"/>
<rect x="1528.1" y="621.6" width="2.2" height="2.2" fill="#505050"/>
<rect x="1533.2" y="621.6" width="2.2" height="2.2" fill="#505050"/>
<rect x="1537.1" y="621.6" width="2.2" height="2.2" fill="#505050"/>
<rect x="1541.0" y="621.6" width="2.2" height="2.2" fill="#505050"/>
<rect x="1544.9" y="621.6" width="2.2" height="2.2" fill="#505050"/>
<rect x="1548.8" y="621.6" width="2.2" height="2.2" fill="#505050"/>
<rect x="1553.9" y="621.6" width="2.2" height="2.2" fill="#505050"/>
<rect x="1557.8" y="621.6" width="2.2" height="2.2" fill="#505050"/>
<rect x="1561.7" y="621.6" width="2.2" height="2.2" fill="#505050"/>
<rect x="1565.6" y="621.6" width="2.2" height="2.2" fill="#505050"/>
<rect x="1569.5" y="621.6" width="2.2" height="2.2" fill="#505050"/>
<rect x="1574.6" y="621.6" width="2.2" height="2.2" fill="#505050"/>
<rect x="1578.5" y="621.6" width="2.2" height="2.2" fill="#505050"/>
<rect x="1303.0" y="637.2" width="282.0" height="4.6" fill="#bdbdbd"/>
<rect x="1305.5" y="638.4" width="2.2" height="2.2" fill="#505050"/>
<rect x="1309.4" y="638.4" width="2.2" height="2.2" fill="#505050"/>
<rect x="1313.3" y="638.4" width="2.2" height="2.2" fill="#505050"/>
<rect x="1317.2" y="638.4" width="2.2" height="2.2" fill="#505050"/>
<rect x="1321.1" y="638.4" width="2.2" height="2.2" fill="#505050"/>
<rect x="1326.2" y="638.4" width="2.2" height="2.2" fill="#505050"/>
<rect x="1330.1" y="638.4" width="2.2" height="2.2" fill="#505050"/>
<rect x="1334.0" y="638.4" width="2.2" height="2.2" fill="#505050"/>
<rect x="1337.9" y="638.4" width="2.2" height="2.2" fill="#505050"/>
<rect x="1341.8" y="638.4" width="2.2" height="2.2" fill="#505050"/>
<rect x="1346.9" y="638.4" width="2.2" height="2.2" fill="#505050"/>
<rect x="1350.8" y="638.4" width="2.2" height="2.2" fill="#505050"/>
<rect x="1354.7" y="638.4" width="2.2" height="2.2" fill="#505050"/>
<rect x="1358.6" y="638.4" width="2.2" height="2.2" fill="#505050"/>
<rect x="1362.5" y="638.4" width="2.2" height="2.2" fill="#505050"/>
<rect x="1367.6" y="638.4" width="2.2" height="2.2" fill="#505050"/>
<rect x="1371.5" y="638.4" width="2.2" height="2.2" fill="#505050"/>
<rect x="1375.4" y="638.4" width="2.2" height="2.2" fill="#505050"/>
<rect x="1379.3" y="638.4" width="2.2" height="2.2" fill="#505050"/>
<rect x="1383.2" y="638.4" width="2.2" height="2.2" fill="#505050"/>
<rect x="1388.3" y="638.4" width="2.2" height="2.2" fill="#505050"/>
<rect x="1392.2" y="638.4" width="2.2" height="2.2" fill="#505050"/>
<rect x="1396.1" y="638.4" width="2.2" height="2.2" fill="#505050"/>
<rect x="1400.0" y="638.4" width="2.2" height="2.2" fill="#505050"/>
<rect x="1403.9" y="638.4" width="2.2" height="2.2" fill="#505050"/>
<rect x="1409.0" y="638.4" width="2.2" height="2.2" fill="#505050"/>
<rect x="1412.9" y="638.4" width="2.2" height="2.2" fill="#505050"/>
<rect x="1416.8" y="638.4" width="2.2" height="2.2" fill="#505050"/>
<rect x="1420.7" y="638.4" width="2.2" height="2.2" fill="#505050"/>
<rect x="1424.6" y="638.4" width="2.2" height="2.2" fill="#505050"/>
<rect x="1429.7" y="638.4" width="2.2" height="2.2" fill="#505050"/>
<rect x="1433.6" y="638.4" width="2.2" height="2.2" fill="#505050"/>
<rect x="1437.5" y="638.4" width="2.2" height="2.2" fill="#505050"/>
<rect x="1441.4" y="638.4" width="2.2" height="2.2" fill="#505050"/>
<rect x="1445.3" y="638.4" width="2.2" height="2.2" fill="#505050"/>
<rect x="1450.4" y="638.4" width="2.2" height="2.2" fill="#505050"/>
<rect x="1454.3" y="638.4" width="2.2" height="2.2" fill="#505050"/>
<rect x="1458.2" y="638.4" width="2.2" height="2.2" fill="#505050"/>
<rect x="1462.1" y="638.4" width="2.2" height="2.2" fill="#505050"/>
<rect x="1466.0" y="638.4" width="2.2" height="2.2" fill="#505050"/>
<rect x="1471.1" y="638.4" width="2.2" height="2.2" fill="#505050"/>
<rect x="1475.0" y="638.4" width="2.2" height="2.2" fill="#505050"/>
<rect x="1478.9" y="638.4" width="2.2" height="2.2" fill="#505050"/>
<rect x="1482.8" y="638.4" width="2.2" height="2.2" fill="#505050"/>
<rect x="1486.7" y="638.4" width="2.2" height="2.2" fill="#505050"/>
<rect x="1491.8" y="638.4" width="2.2" height="2.2" fill="#505050"/>
<rect x="1495.7" y="638.4" width="2.2" height="2.2" fill="#505050"/>
<rect x="1499.6" y="638.4" width="2.2" height="2.2" fill="#505050"/>
<rect x="1503.5" y="638.4" width="2.2" height="2.2" fill="#505050"/>
<rect x="1507.4" y="638.4" width="2.2" height="2.2" fill="#505050"/>
<rect x="1512.5" y="638.4" width="2.2" height="2.2" fill="#505050"/>
<rect x="1516.4" y="638.4" width="2.2" height="2.2" fill="#505050"/>
<rect x="1520.3" y="638.4" width="2.2" height="2.2" fill="#505050"/>
<rect x="1524.2" y="638.4" width="2.2" height="2.2" fill="#505050"/>
<rect x="1528.1" y="638.4" width="2.2" height="2.2" fill="#505050"/>
<rect x="1533.2" y="638.4" width="2.2" height="2.2" fill="#505050"/>
<rect x="1537.1" y="638.4" width="2.2" height="2.2" fill="#505050"/>
<rect x="1541.0" y="638.4" width="2.2" height="2.2" fill="#505050"/>
<rect x="1544.9" y="638.4" width="2.2" height="2.2" fill="#505050"/>
<rect x="1548.8" y="638.4" width="2.2" height="2.2" fill="#505050"/>
<rect x="1553.9" y="638.4" width="2.2" height="2.2" fill="#505050"/>
<rect x="1557.8" y="638.4" width="2.2" height="2.2" fill="#505050"/>
<rect x="1561.7" y="638.4" width="2.2" height="2.2" fill="#505050"/>
<rect x="1565.6" y="638.4" width="2.2" height="2.2" fill="#505050"/>
<rect x="1569.5" y="638.4" width="2.2" height="2.2" fill="#505050"/>
<rect x="1574.6" y="638.4" width="2.2" height="2.2" fill="#505050"/>
<rect x="1578.5" y="638.4" width="2.2" height="2.2" fill="#505050"/>
<line x1="1269.0" y1="582.5" x2="1608.0" y2="582.5" stroke="#bdbdbd" stroke-width="1"/>
<line x1="1269.0" y1="585.6" x2="1608.0" y2="585.6" stroke="#bdbdbd" stroke-width="2"/>
<line x1="1269.0" y1="605.0" x2="1608.0" y2="605.0" stroke="#bdbdbd" stroke-width="1"/>
<line x1="1269.0" y1="608.6" x2="1608.0" y2="608.6" stroke="#bdbdbd" stroke-width="2"/>
<line x1="1269.0" y1="626.8" x2="1608.0" y2="626.8" stroke="#bdbdbd" stroke-width="1"/>
<line x1="1269.0" y1="630.0" x2="1608.0" y2="630.0" stroke="#bdbdbd" stroke-width="2"/>
<rect x="1268.5" y="573.6" width="33.5" height="6.6" stroke="#bdbdbd" stroke-width="1.2" fill="none"/>
<rect x="1270.0" y="575.1" width="30.5" height="3.6" fill="#5a5a5a"/>
<line x1="1277.0" y1="573.6" x2="1277.0" y2="580.2" stroke="#bdbdbd" stroke-width="1.2"/>
<line x1="1288.0" y1="573.6" x2="1288.0" y2="580.2" stroke="#bdbdbd" stroke-width="1.2"/>
<line x1="1296.0" y1="573.6" x2="1296.0" y2="580.2" stroke="#bdbdbd" stroke-width="1.2"/>
<rect x="1268.5" y="596.5" width="33.5" height="6.0" stroke="#bdbdbd" stroke-width="1.2" fill="none"/>
<rect x="1270.0" y="598.0" width="30.5" height="3.0" fill="#5a5a5a"/>
<line x1="1277.0" y1="596.5" x2="1277.0" y2="602.5" stroke="#bdbdbd" stroke-width="1.2"/>
<line x1="1288.0" y1="596.5" x2="1288.0" y2="602.5" stroke="#bdbdbd" stroke-width="1.2"/>
<line x1="1296.0" y1="596.5" x2="1296.0" y2="602.5" stroke="#bdbdbd" stroke-width="1.2"/>
<rect x="1268.5" y="619.5" width="33.5" height="6.0" stroke="#bdbdbd" stroke-width="1.2" fill="none"/>
<rect x="1270.0" y="621.0" width="30.5" height="3.0" fill="#5a5a5a"/>
<line x1="1277.0" y1="619.5" x2="1277.0" y2="625.5" stroke="#bdbdbd" stroke-width="1.2"/>
<line x1="1288.0" y1="619.5" x2="1288.0" y2="625.5" stroke="#bdbdbd" stroke-width="1.2"/>
<line x1="1296.0" y1="619.5" x2="1296.0" y2="625.5" stroke="#bdbdbd" stroke-width="1.2"/>
<ellipse cx="1315" cy="582" rx="9" ry="4" fill="#b8b8b8"/>
<ellipse cx="1580" cy="607" rx="9" ry="4" fill="#b8b8b8"/>
<ellipse cx="1282" cy="630" rx="12" ry="4" fill="#b0b0b0"/>
<rect x="1195.3" y="557.2" width="70.5" height="110.5" stroke="#b8b8b8" stroke-width="0.9" fill="none"/>
<line x1="1170.8" y1="639.5" x2="1195.3" y2="639.5" stroke="#b8b8b8" stroke-width="1"/>
<line x1="1170.8" y1="639.5" x2="1170.8" y2="706.0" stroke="#b8b8b8" stroke-width="1"/>
<rect x="1203.4" y="561.0" width="58.6" height="107.0" stroke="#b0b0b0" stroke-width="0.8" fill="none"/>
<path d="M1206.4,568 L1206.4,626 Q1206.4,634 1199,638 L1186,645 Q1177,650 1177,660 L1177,700" stroke="#c8c8c8" stroke-width="5.5" fill="none" />
<path d="M1206.4,568 L1206.4,626 Q1206.4,634 1199,638 L1186,645 Q1177,650 1177,660 L1177,700" stroke="#5e5e5e" stroke-width="1.6" fill="none" stroke-dasharray="5,5"/>
<path d="M1219,568 L1219,640 Q1219,649 1210,649 L1190,649" stroke="#c8c8c8" stroke-width="5.5" fill="none" />
<path d="M1219,568 L1219,640 Q1219,649 1210,649 L1190,649" stroke="#5e5e5e" stroke-width="1.6" fill="none" stroke-dasharray="5,5"/>
<path d="M1239.7,600 L1239.7,640 Q1239.7,656 1254,656 L1266,656" stroke="#c8c8c8" stroke-width="5.5" fill="none" />
<path d="M1239.7,600 L1239.7,640 Q1239.7,656 1254,656 L1266,656" stroke="#5e5e5e" stroke-width="1.6" fill="none" stroke-dasharray="5,5"/>
<path d="M1252.3,556 L1252.3,636 Q1252.3,649 1264,649 L1270,649" stroke="#c8c8c8" stroke-width="5.5" fill="none" />
<path d="M1252.3,556 L1252.3,636 Q1252.3,649 1264,649 L1270,649" stroke="#5e5e5e" stroke-width="1.6" fill="none" stroke-dasharray="5,5"/>
<line x1="1224.4" y1="562.0" x2="1224.4" y2="642.0" stroke="#c8c8c8" stroke-width="1"/>
<line x1="1228.5" y1="562.0" x2="1228.5" y2="642.0" stroke="#c8c8c8" stroke-width="1"/>
<line x1="1214.5" y1="562.0" x2="1214.5" y2="642.0" stroke="#a8a8a8" stroke-width="0.8"/>
<path d="M1180,665 Q1180,663.6 1188,663.6 L1385,663.6" stroke="#c8c8c8" stroke-width="4.5" fill="none" />
<path d="M1180,665 Q1180,663.6 1188,663.6 L1385,663.6" stroke="#5e5e5e" stroke-width="1.6" fill="none" stroke-dasharray="5,5"/>
<rect x="1370.0" y="656.0" width="16.0" height="12.0" stroke="#c0c0c0" stroke-width="1" fill="none"/>
<rect x="1340.0" y="653.0" width="32.0" height="7.0" stroke="#c0c0c0" stroke-width="0.9" fill="none"/>
<line x1="1194.0" y1="664.0" x2="1198.0" y2="656.0" stroke="#c8c8c8" stroke-width="1"/>
<rect x="1190.0" y="646.5" width="493.0" height="6.0" fill="#bdbdbd"/>
<rect x="1191.0" y="648.0" width="491.0" height="3.0" fill="#4a4a4a"/>
<rect x="1195.0" y="648.0" width="5.0" height="3.0" fill="#a8a8a8"/>
<rect x="1212.0" y="648.0" width="5.0" height="3.0" fill="#a8a8a8"/>
<rect x="1223.0" y="648.0" width="2.0" height="3.0" fill="#a8a8a8"/>
<rect x="1237.0" y="648.0" width="2.0" height="3.0" fill="#a8a8a8"/>
<rect x="1243.0" y="648.0" width="5.0" height="3.0" fill="#a8a8a8"/>
<rect x="1257.0" y="648.0" width="2.0" height="3.0" fill="#a8a8a8"/>
<rect x="1263.0" y="648.0" width="1.5" height="3.0" fill="#a8a8a8"/>
<rect x="1276.5" y="648.0" width="5.0" height="3.0" fill="#a8a8a8"/>
<rect x="1287.5" y="648.0" width="1.5" height="3.0" fill="#a8a8a8"/>
<rect x="1293.0" y="648.0" width="1.5" height="3.0" fill="#a8a8a8"/>
<rect x="1298.5" y="648.0" width="2.0" height="3.0" fill="#a8a8a8"/>
<rect x="1306.5" y="648.0" width="1.5" height="3.0" fill="#a8a8a8"/>
<rect x="1320.0" y="648.0" width="3.0" height="3.0" fill="#a8a8a8"/>
<rect x="1335.0" y="648.0" width="2.0" height="3.0" fill="#a8a8a8"/>
<rect x="1343.0" y="648.0" width="3.0" height="3.0" fill="#a8a8a8"/>
<rect x="1358.0" y="648.0" width="1.5" height="3.0" fill="#a8a8a8"/>
<rect x="1363.5" y="648.0" width="5.0" height="3.0" fill="#a8a8a8"/>
<rect x="1377.5" y="648.0" width="5.0" height="3.0" fill="#a8a8a8"/>
<rect x="1386.5" y="648.0" width="3.0" height="3.0" fill="#a8a8a8"/>
<rect x="1398.5" y="648.0" width="2.0" height="3.0" fill="#a8a8a8"/>
<rect x="1409.5" y="648.0" width="1.5" height="3.0" fill="#a8a8a8"/>
<rect x="1415.0" y="648.0" width="1.5" height="3.0" fill="#a8a8a8"/>
<rect x="1428.5" y="648.0" width="1.5" height="3.0" fill="#a8a8a8"/>
<rect x="1439.0" y="648.0" width="5.0" height="3.0" fill="#a8a8a8"/>
<rect x="1448.0" y="648.0" width="1.5" height="3.0" fill="#a8a8a8"/>
<rect x="1453.5" y="648.0" width="2.0" height="3.0" fill="#a8a8a8"/>
<rect x="1461.5" y="648.0" width="1.5" height="3.0" fill="#a8a8a8"/>
<rect x="1475.0" y="648.0" width="5.0" height="3.0" fill="#a8a8a8"/>
<rect x="1492.0" y="648.0" width="5.0" height="3.0" fill="#a8a8a8"/>
<rect x="1501.0" y="648.0" width="2.0" height="3.0" fill="#a8a8a8"/>
<rect x="1512.0" y="648.0" width="3.0" height="3.0" fill="#a8a8a8"/>
<rect x="1519.0" y="648.0" width="3.0" height="3.0" fill="#a8a8a8"/>
<rect x="1531.0" y="648.0" width="1.5" height="3.0" fill="#a8a8a8"/>
<rect x="1544.5" y="648.0" width="1.5" height="3.0" fill="#a8a8a8"/>
<rect x="1552.0" y="648.0" width="2.0" height="3.0" fill="#a8a8a8"/>
<rect x="1558.0" y="648.0" width="1.5" height="3.0" fill="#a8a8a8"/>
<rect x="1563.5" y="648.0" width="5.0" height="3.0" fill="#a8a8a8"/>
<rect x="1580.5" y="648.0" width="2.0" height="3.0" fill="#a8a8a8"/>
<rect x="1588.5" y="648.0" width="5.0" height="3.0" fill="#a8a8a8"/>
<rect x="1599.5" y="648.0" width="2.0" height="3.0" fill="#a8a8a8"/>
<rect x="1613.5" y="648.0" width="5.0" height="3.0" fill="#a8a8a8"/>
<rect x="1622.5" y="648.0" width="5.0" height="3.0" fill="#a8a8a8"/>
<rect x="1639.5" y="648.0" width="2.0" height="3.0" fill="#a8a8a8"/>
<rect x="1645.5" y="648.0" width="3.0" height="3.0" fill="#a8a8a8"/>
<rect x="1657.5" y="648.0" width="1.5" height="3.0" fill="#a8a8a8"/>
<rect x="1665.0" y="648.0" width="2.0" height="3.0" fill="#a8a8a8"/>
<rect x="1679.0" y="648.0" width="1.5" height="3.0" fill="#a8a8a8"/>
<rect x="1402.0" y="655.0" width="8.5" height="18.0" fill="#b4b4b4"/>
<rect x="1403.7" y="657.0" width="2.0" height="7.0" fill="#555555"/>
<rect x="1407.2" y="657.0" width="1.6" height="7.0" fill="#6a6a6a"/>
<rect x="1403.7" y="667.0" width="5.1" height="2.0" fill="#707070"/>
<line x1="1409.8" y1="652.0" x2="1409.8" y2="680.0" stroke="#c4c4c4" stroke-width="1"/>
<rect x="1405.0" y="672.0" width="4.5" height="8.0" stroke="#c4c4c4" stroke-width="1" fill="none"/>
<rect x="1406.2" y="674.0" width="2.0" height="4.0" fill="#4a4a4a"/>
<rect x="1402.7" y="679.3" width="9" height="11.4" rx="1.5" fill="#c4c4c4"/>
<rect x="1405.7" y="682.0" width="3.1" height="6.0" fill="#4a4a4a"/>
<rect x="1429.0" y="655.0" width="8.5" height="18.0" fill="#b4b4b4"/>
<rect x="1430.7" y="657.0" width="2.0" height="7.0" fill="#555555"/>
<rect x="1434.2" y="657.0" width="1.6" height="7.0" fill="#6a6a6a"/>
<rect x="1430.7" y="667.0" width="5.1" height="2.0" fill="#707070"/>
<line x1="1436.8" y1="652.0" x2="1436.8" y2="680.0" stroke="#c4c4c4" stroke-width="1"/>
<rect x="1432.0" y="672.0" width="4.5" height="8.0" stroke="#c4c4c4" stroke-width="1" fill="none"/>
<rect x="1433.2" y="674.0" width="2.0" height="4.0" fill="#4a4a4a"/>
<rect x="1429.7" y="679.3" width="9" height="11.4" rx="1.5" fill="#c4c4c4"/>
<rect x="1432.7" y="682.0" width="3.1" height="6.0" fill="#4a4a4a"/>
<rect x="1451.0" y="655.0" width="8.5" height="18.0" fill="#b4b4b4"/>
<rect x="1452.7" y="657.0" width="2.0" height="7.0" fill="#555555"/>
<rect x="1456.2" y="657.0" width="1.6" height="7.0" fill="#6a6a6a"/>
<rect x="1452.7" y="667.0" width="5.1" height="2.0" fill="#707070"/>
<line x1="1458.8" y1="652.0" x2="1458.8" y2="680.0" stroke="#c4c4c4" stroke-width="1"/>
<rect x="1454.0" y="672.0" width="4.5" height="8.0" stroke="#c4c4c4" stroke-width="1" fill="none"/>
<rect x="1455.2" y="674.0" width="2.0" height="4.0" fill="#4a4a4a"/>
<rect x="1451.7" y="679.3" width="9" height="11.4" rx="1.5" fill="#c4c4c4"/>
<rect x="1454.7" y="682.0" width="3.1" height="6.0" fill="#4a4a4a"/>
<rect x="1475.0" y="655.0" width="8.5" height="18.0" fill="#b4b4b4"/>
<rect x="1476.7" y="657.0" width="2.0" height="7.0" fill="#555555"/>
<rect x="1480.2" y="657.0" width="1.6" height="7.0" fill="#6a6a6a"/>
<rect x="1476.7" y="667.0" width="5.1" height="2.0" fill="#707070"/>
<line x1="1482.8" y1="652.0" x2="1482.8" y2="680.0" stroke="#c4c4c4" stroke-width="1"/>
<rect x="1478.0" y="672.0" width="4.5" height="8.0" stroke="#c4c4c4" stroke-width="1" fill="none"/>
<rect x="1479.2" y="674.0" width="2.0" height="4.0" fill="#4a4a4a"/>
<rect x="1475.7" y="679.3" width="9" height="11.4" rx="1.5" fill="#c4c4c4"/>
<rect x="1478.7" y="682.0" width="3.1" height="6.0" fill="#4a4a4a"/>
<rect x="1497.0" y="655.0" width="8.5" height="18.0" fill="#b4b4b4"/>
<rect x="1498.7" y="657.0" width="2.0" height="7.0" fill="#555555"/>
<rect x="1502.2" y="657.0" width="1.6" height="7.0" fill="#6a6a6a"/>
<rect x="1498.7" y="667.0" width="5.1" height="2.0" fill="#707070"/>
<line x1="1504.8" y1="652.0" x2="1504.8" y2="680.0" stroke="#c4c4c4" stroke-width="1"/>
<rect x="1500.0" y="672.0" width="4.5" height="8.0" stroke="#c4c4c4" stroke-width="1" fill="none"/>
<rect x="1501.2" y="674.0" width="2.0" height="4.0" fill="#4a4a4a"/>
<rect x="1497.7" y="679.3" width="9" height="11.4" rx="1.5" fill="#c4c4c4"/>
<rect x="1500.7" y="682.0" width="3.1" height="6.0" fill="#4a4a4a"/>
<rect x="1519.7" y="655.0" width="8.5" height="18.0" fill="#b4b4b4"/>
<rect x="1521.4" y="657.0" width="2.0" height="7.0" fill="#555555"/>
<rect x="1524.9" y="657.0" width="1.6" height="7.0" fill="#6a6a6a"/>
<rect x="1521.4" y="667.0" width="5.1" height="2.0" fill="#707070"/>
<line x1="1527.5" y1="652.0" x2="1527.5" y2="680.0" stroke="#c4c4c4" stroke-width="1"/>
<rect x="1522.7" y="672.0" width="4.5" height="8.0" stroke="#c4c4c4" stroke-width="1" fill="none"/>
<rect x="1523.9" y="674.0" width="2.0" height="4.0" fill="#4a4a4a"/>
<rect x="1520.4" y="679.3" width="9" height="11.4" rx="1.5" fill="#c4c4c4"/>
<rect x="1523.4" y="682.0" width="3.1" height="6.0" fill="#4a4a4a"/>
<rect x="1542.5" y="655.0" width="8.5" height="18.0" fill="#b4b4b4"/>
<rect x="1544.2" y="657.0" width="2.0" height="7.0" fill="#555555"/>
<rect x="1547.7" y="657.0" width="1.6" height="7.0" fill="#6a6a6a"/>
<rect x="1544.2" y="667.0" width="5.1" height="2.0" fill="#707070"/>
<line x1="1550.3" y1="652.0" x2="1550.3" y2="680.0" stroke="#c4c4c4" stroke-width="1"/>
<rect x="1545.5" y="672.0" width="4.5" height="8.0" stroke="#c4c4c4" stroke-width="1" fill="none"/>
<rect x="1546.7" y="674.0" width="2.0" height="4.0" fill="#4a4a4a"/>
<rect x="1543.2" y="679.3" width="9" height="11.4" rx="1.5" fill="#c4c4c4"/>
<rect x="1546.2" y="682.0" width="3.1" height="6.0" fill="#4a4a4a"/>
<rect x="1564.7" y="655.0" width="8.5" height="18.0" fill="#b4b4b4"/>
<rect x="1566.4" y="657.0" width="2.0" height="7.0" fill="#555555"/>
<rect x="1569.9" y="657.0" width="1.6" height="7.0" fill="#6a6a6a"/>
<rect x="1566.4" y="667.0" width="5.1" height="2.0" fill="#707070"/>
<line x1="1572.5" y1="652.0" x2="1572.5" y2="680.0" stroke="#c4c4c4" stroke-width="1"/>
<rect x="1567.7" y="672.0" width="4.5" height="8.0" stroke="#c4c4c4" stroke-width="1" fill="none"/>
<rect x="1568.9" y="674.0" width="2.0" height="4.0" fill="#4a4a4a"/>
<rect x="1565.4" y="679.3" width="9" height="11.4" rx="1.5" fill="#c4c4c4"/>
<rect x="1568.4" y="682.0" width="3.1" height="6.0" fill="#4a4a4a"/>
<rect x="1587.5" y="655.0" width="8.5" height="18.0" fill="#b4b4b4"/>
<rect x="1589.2" y="657.0" width="2.0" height="7.0" fill="#555555"/>
<rect x="1592.7" y="657.0" width="1.6" height="7.0" fill="#6a6a6a"/>
<rect x="1589.2" y="667.0" width="5.1" height="2.0" fill="#707070"/>
<line x1="1595.3" y1="652.0" x2="1595.3" y2="680.0" stroke="#c4c4c4" stroke-width="1"/>
<rect x="1590.5" y="672.0" width="4.5" height="8.0" stroke="#c4c4c4" stroke-width="1" fill="none"/>
<rect x="1591.7" y="674.0" width="2.0" height="4.0" fill="#4a4a4a"/>
<rect x="1588.2" y="679.3" width="9" height="11.4" rx="1.5" fill="#c4c4c4"/>
<rect x="1591.2" y="682.0" width="3.1" height="6.0" fill="#4a4a4a"/>
<rect x="1651.3" y="655.0" width="8.5" height="18.0" fill="#b4b4b4"/>
<rect x="1653.0" y="657.0" width="2.0" height="7.0" fill="#555555"/>
<rect x="1656.5" y="657.0" width="1.6" height="7.0" fill="#6a6a6a"/>
<rect x="1653.0" y="667.0" width="5.1" height="2.0" fill="#707070"/>
<line x1="1659.1" y1="652.0" x2="1659.1" y2="680.0" stroke="#c4c4c4" stroke-width="1"/>
<rect x="1654.3" y="672.0" width="4.5" height="8.0" stroke="#c4c4c4" stroke-width="1" fill="none"/>
<rect x="1655.5" y="674.0" width="2.0" height="4.0" fill="#4a4a4a"/>
<rect x="1652.0" y="679.3" width="9" height="11.4" rx="1.5" fill="#c4c4c4"/>
<rect x="1655.0" y="682.0" width="3.1" height="6.0" fill="#4a4a4a"/>
<rect x="1674.0" y="655.0" width="8.5" height="18.0" fill="#b4b4b4"/>
<rect x="1675.7" y="657.0" width="2.0" height="7.0" fill="#555555"/>
<rect x="1679.2" y="657.0" width="1.6" height="7.0" fill="#6a6a6a"/>
<rect x="1675.7" y="667.0" width="5.1" height="2.0" fill="#707070"/>
<line x1="1681.8" y1="652.0" x2="1681.8" y2="680.0" stroke="#c4c4c4" stroke-width="1"/>
<rect x="1677.0" y="672.0" width="4.5" height="8.0" stroke="#c4c4c4" stroke-width="1" fill="none"/>
<rect x="1678.2" y="674.0" width="2.0" height="4.0" fill="#4a4a4a"/>
<rect x="1674.7" y="679.3" width="9" height="11.4" rx="1.5" fill="#c4c4c4"/>
<rect x="1677.7" y="682.0" width="3.1" height="6.0" fill="#4a4a4a"/>
<path d="M1300,690 L1305,690 L1305,698 L1318,698" stroke="#c0c0c0" stroke-width="1" fill="none" />
<rect x="1304.0" y="683.0" width="14.0" height="14.0" stroke="#c0c0c0" stroke-width="1" fill="none"/>
<rect x="1320.0" y="670.0" width="13.0" height="13.0" stroke="#c0c0c0" stroke-width="1" fill="none"/>
<path d="M1313,664 Q1306,666 1306,674 L1306,690" stroke="#c8c8c8" stroke-width="4" fill="none" />
<path d="M1313,664 Q1306,666 1306,674 L1306,690" stroke="#5e5e5e" stroke-width="1.6" fill="none" stroke-dasharray="5,5"/>
<path d="M1330,664 Q1322,668 1322,676 L1322,684" stroke="#c8c8c8" stroke-width="4" fill="none" />
<path d="M1330,664 Q1322,668 1322,676 L1322,684" stroke="#5e5e5e" stroke-width="1.6" fill="none" stroke-dasharray="5,5"/>
<line x1="1169.7" y1="706.0" x2="1169.7" y2="1238.5" stroke="#c8c8c8" stroke-width="2"/>
<path d="M1178,805 L1188,820 Q1192,825 1198,825 L1240,825" stroke="#c6c6c6" stroke-width="6" fill="none" />
<path d="M1178,805 L1188,820 Q1192,825 1198,825 L1240,825" stroke="#4e4e4e" stroke-width="2.6" fill="none" stroke-dasharray="5,1.5,2,1.5"/>
<rect x="1236.8" y="820.3" width="9.4" height="8.6" rx="1.5" fill="#c6c6c6"/>
<rect x="1239.5" y="823.0" width="4.0" height="3.5" fill="#4a4a4a"/>
<path d="M1178,816 L1188,831 Q1192,836 1198,836 L1242,836" stroke="#c6c6c6" stroke-width="5" fill="none" />
<path d="M1178,816 L1188,831 Q1192,836 1198,836 L1242,836" stroke="#4e4e4e" stroke-width="2" fill="none" stroke-dasharray="4,1.5"/>
<circle cx="1243" cy="836" r="3" stroke="#c6c6c6" stroke-width="1" fill="none"/>
<rect x="1194.5" y="838.3" width="33.3" height="3.0" stroke="#c6c6c6" stroke-width="1" fill="none"/>
<rect x="1194.5" y="829.3" width="45.5" height="3.4" stroke="#c6c6c6" stroke-width="0.9" fill="none"/>
<path d="M1178,835 L1188,850 Q1192,855 1198,855 L1240,855" stroke="#c6c6c6" stroke-width="6" fill="none" />
<path d="M1178,835 L1188,850 Q1192,855 1198,855 L1240,855" stroke="#4e4e4e" stroke-width="2.6" fill="none" stroke-dasharray="5,1.5,2,1.5"/>
<rect x="1236.8" y="850.3" width="9.4" height="8.6" rx="1.5" fill="#c6c6c6"/>
<rect x="1239.5" y="853.0" width="4.0" height="3.5" fill="#4a4a4a"/>
<path d="M1178,846 L1188,861 Q1192,866 1198,866 L1242,866" stroke="#c6c6c6" stroke-width="5" fill="none" />
<path d="M1178,846 L1188,861 Q1192,866 1198,866 L1242,866" stroke="#4e4e4e" stroke-width="2" fill="none" stroke-dasharray="4,1.5"/>
<circle cx="1243" cy="866" r="3" stroke="#c6c6c6" stroke-width="1" fill="none"/>
<rect x="1194.5" y="868.3" width="33.3" height="3.0" stroke="#c6c6c6" stroke-width="1" fill="none"/>
<rect x="1194.5" y="859.3" width="45.5" height="3.4" stroke="#c6c6c6" stroke-width="0.9" fill="none"/>
<path d="M1178,865.7 L1188,880.7 Q1192,885.7 1198,885.7 L1240,885.7" stroke="#c6c6c6" stroke-width="6" fill="none" />
<path d="M1178,865.7 L1188,880.7 Q1192,885.7 1198,885.7 L1240,885.7" stroke="#4e4e4e" stroke-width="2.6" fill="none" stroke-dasharray="5,1.5,2,1.5"/>
<rect x="1236.8" y="881.0" width="9.4" height="8.6" rx="1.5" fill="#c6c6c6"/>
<rect x="1239.5" y="883.7" width="4.0" height="3.5" fill="#4a4a4a"/>
<rect x="1195.0" y="890.7" width="33.0" height="4.0" stroke="#c6c6c6" stroke-width="1" fill="none"/>
<rect x="1195.0" y="894.7" width="33.0" height="5.0" stroke="#c6c6c6" stroke-width="1" fill="none"/>
<line x1="1209.0" y1="894.7" x2="1209.0" y2="899.7" stroke="#c6c6c6" stroke-width="1"/>
<path d="M1178,934 L1188,949 Q1192,954 1198,954 L1240,954" stroke="#c6c6c6" stroke-width="6" fill="none" />
<path d="M1178,934 L1188,949 Q1192,954 1198,954 L1240,954" stroke="#4e4e4e" stroke-width="2.6" fill="none" stroke-dasharray="5,1.5,2,1.5"/>
<rect x="1236.8" y="949.3" width="9.4" height="8.6" rx="1.5" fill="#c6c6c6"/>
<rect x="1239.5" y="952.0" width="4.0" height="3.5" fill="#4a4a4a"/>
<path d="M1178,945 L1188,960 Q1192,965 1198,965 L1242,965" stroke="#c6c6c6" stroke-width="5" fill="none" />
<path d="M1178,945 L1188,960 Q1192,965 1198,965 L1242,965" stroke="#4e4e4e" stroke-width="2" fill="none" stroke-dasharray="4,1.5"/>
<circle cx="1243" cy="965" r="3" stroke="#c6c6c6" stroke-width="1" fill="none"/>
<rect x="1194.5" y="967.3" width="33.3" height="3.0" stroke="#c6c6c6" stroke-width="1" fill="none"/>
<rect x="1194.5" y="958.3" width="45.5" height="3.4" stroke="#c6c6c6" stroke-width="0.9" fill="none"/>
<path d="M1178,983.4 L1188,998.4 Q1192,1003.4 1198,1003.4 L1240,1003.4" stroke="#c6c6c6" stroke-width="6" fill="none" />
<path d="M1178,983.4 L1188,998.4 Q1192,1003.4 1198,1003.4 L1240,1003.4" stroke="#4e4e4e" stroke-width="2.6" fill="none" stroke-dasharray="5,1.5,2,1.5"/>
<rect x="1236.8" y="998.7" width="9.4" height="8.6" rx="1.5" fill="#c6c6c6"/>
<rect x="1239.5" y="1001.4" width="4.0" height="3.5" fill="#4a4a4a"/>
<path d="M1178,994.4 L1188,1009.4 Q1192,1014.4 1198,1014.4 L1242,1014.4" stroke="#c6c6c6" stroke-width="5" fill="none" />
<path d="M1178,994.4 L1188,1009.4 Q1192,1014.4 1198,1014.4 L1242,1014.4" stroke="#4e4e4e" stroke-width="2" fill="none" stroke-dasharray="4,1.5"/>
<circle cx="1243" cy="1014.4" r="3" stroke="#c6c6c6" stroke-width="1" fill="none"/>
<rect x="1194.5" y="1016.7" width="33.3" height="3.0" stroke="#c6c6c6" stroke-width="1" fill="none"/>
<rect x="1194.5" y="1007.7" width="45.5" height="3.4" stroke="#c6c6c6" stroke-width="0.9" fill="none"/>
<path d="M1178,1025 L1188,1040 Q1192,1045 1198,1045 L1240,1045" stroke="#c6c6c6" stroke-width="6" fill="none" />
<path d="M1178,1025 L1188,1040 Q1192,1045 1198,1045 L1240,1045" stroke="#4e4e4e" stroke-width="2.6" fill="none" stroke-dasharray="5,1.5,2,1.5"/>
<rect x="1236.8" y="1040.3" width="9.4" height="8.6" rx="1.5" fill="#c6c6c6"/>
<rect x="1239.5" y="1043.0" width="4.0" height="3.5" fill="#4a4a4a"/>
<path d="M1178,1040 L1188,1055 Q1192,1060 1198,1060 L1240,1060" stroke="#c6c6c6" stroke-width="6" fill="none" />
<path d="M1178,1040 L1188,1055 Q1192,1060 1198,1060 L1240,1060" stroke="#4e4e4e" stroke-width="2.6" fill="none" stroke-dasharray="5,1.5,2,1.5"/>
<rect x="1236.8" y="1055.3" width="9.4" height="8.6" rx="1.5" fill="#c6c6c6"/>
<rect x="1239.5" y="1058.0" width="4.0" height="3.5" fill="#4a4a4a"/>
<g transform="translate(1188,1065) rotate(25)">
<rect x="0.0" y="-1.5" width="24.0" height="3.0" stroke="#c6c6c6" stroke-width="1" fill="none"/>
</g>
<rect x="1204.0" y="1064.0" width="8.0" height="5.0" stroke="#c6c6c6" stroke-width="1" fill="none"/>
<path d="M1178,1059.4 L1188,1074.4 Q1192,1079.4 1198,1079.4 L1240,1079.4" stroke="#c6c6c6" stroke-width="6" fill="none" />
<path d="M1178,1059.4 L1188,1074.4 Q1192,1079.4 1198,1079.4 L1240,1079.4" stroke="#4e4e4e" stroke-width="2.6" fill="none" stroke-dasharray="5,1.5,2,1.5"/>
<rect x="1236.8" y="1074.7" width="9.4" height="8.6" rx="1.5" fill="#c6c6c6"/>
<rect x="1239.5" y="1077.4" width="4.0" height="3.5" fill="#4a4a4a"/>
<g transform="translate(1188,1084.4) rotate(25)">
<rect x="0.0" y="-1.5" width="24.0" height="3.0" stroke="#c6c6c6" stroke-width="1" fill="none"/>
</g>
<rect x="1204.0" y="1083.4" width="8.0" height="5.0" stroke="#c6c6c6" stroke-width="1" fill="none"/>
<path d="M1178,1078.2 L1188,1093.2 Q1192,1098.2 1198,1098.2 L1240,1098.2" stroke="#c6c6c6" stroke-width="6" fill="none" />
<path d="M1178,1078.2 L1188,1093.2 Q1192,1098.2 1198,1098.2 L1240,1098.2" stroke="#4e4e4e" stroke-width="2.6" fill="none" stroke-dasharray="5,1.5,2,1.5"/>
<rect x="1236.8" y="1093.5" width="9.4" height="8.6" rx="1.5" fill="#c6c6c6"/>
<rect x="1239.5" y="1096.2" width="4.0" height="3.5" fill="#4a4a4a"/>
<rect x="1190.0" y="1102.2" width="28.0" height="4.0" stroke="#c6c6c6" stroke-width="1" fill="none"/>
<line x1="1172.0" y1="1102.2" x2="1190.0" y2="1102.2" stroke="#c6c6c6" stroke-width="1"/>
<path d="M1178,1103.4 L1188,1118.4 Q1192,1123.4 1198,1123.4 L1240,1123.4" stroke="#c6c6c6" stroke-width="6" fill="none" />
<path d="M1178,1103.4 L1188,1118.4 Q1192,1123.4 1198,1123.4 L1240,1123.4" stroke="#4e4e4e" stroke-width="2.6" fill="none" stroke-dasharray="5,1.5,2,1.5"/>
<rect x="1236.8" y="1118.7" width="9.4" height="8.6" rx="1.5" fill="#c6c6c6"/>
<rect x="1239.5" y="1121.4" width="4.0" height="3.5" fill="#4a4a4a"/>
<g transform="translate(1188,1128.4) rotate(25)">
<rect x="0.0" y="-1.5" width="24.0" height="3.0" stroke="#c6c6c6" stroke-width="1" fill="none"/>
</g>
<rect x="1204.0" y="1127.4" width="8.0" height="5.0" stroke="#c6c6c6" stroke-width="1" fill="none"/>
<path d="M1178,1140 L1178,1165 Q1178,1173.3 1186,1173.3 L1240,1173.3" stroke="#c6c6c6" stroke-width="6" fill="none" />
<path d="M1178,1140 L1178,1165 Q1178,1173.3 1186,1173.3 L1240,1173.3" stroke="#4e4e4e" stroke-width="2.6" fill="none" stroke-dasharray="5,1.5,2,1.5"/>
<rect x="1236.8" y="1168.6" width="9.4" height="8.6" rx="1.5" fill="#c6c6c6"/>
<line x1="1175.3" y1="665.0" x2="1175.3" y2="1165.0" stroke="#c6c6c6" stroke-width="1.2"/>
<line x1="1180.2" y1="665.0" x2="1180.2" y2="1165.0" stroke="#c6c6c6" stroke-width="1.2"/>
<rect x="1176.0" y="680.0" width="3.5" height="10.0" fill="#666666"/>
<rect x="1176.0" y="703.0" width="3.5" height="10.0" fill="#666666"/>
<rect x="1176.0" y="726.0" width="3.5" height="10.0" fill="#666666"/>
<rect x="1176.0" y="749.0" width="3.5" height="10.0" fill="#666666"/>
<rect x="1176.0" y="772.0" width="3.5" height="10.0" fill="#666666"/>
<rect x="1176.0" y="795.0" width="3.5" height="10.0" fill="#666666"/>
<rect x="1176.0" y="818.0" width="3.5" height="10.0" fill="#666666"/>
<rect x="1176.0" y="841.0" width="3.5" height="10.0" fill="#666666"/>
<rect x="1176.0" y="864.0" width="3.5" height="10.0" fill="#666666"/>
<rect x="1176.0" y="887.0" width="3.5" height="10.0" fill="#666666"/>
<rect x="1176.0" y="910.0" width="3.5" height="10.0" fill="#666666"/>
<rect x="1176.0" y="933.0" width="3.5" height="10.0" fill="#666666"/>
<rect x="1176.0" y="956.0" width="3.5" height="10.0" fill="#666666"/>
<rect x="1176.0" y="979.0" width="3.5" height="10.0" fill="#666666"/>
<rect x="1176.0" y="1002.0" width="3.5" height="10.0" fill="#666666"/>
<rect x="1176.0" y="1025.0" width="3.5" height="10.0" fill="#666666"/>
<rect x="1176.0" y="1048.0" width="3.5" height="10.0" fill="#666666"/>
<rect x="1176.0" y="1071.0" width="3.5" height="10.0" fill="#666666"/>
<rect x="1176.0" y="1094.0" width="3.5" height="10.0" fill="#666666"/>
<rect x="1176.0" y="1117.0" width="3.5" height="10.0" fill="#666666"/>
<rect x="1176.0" y="1140.0" width="3.5" height="10.0" fill="#666666"/>
<rect x="1205.0" y="967.8" width="16.9" height="17.8" stroke="#c6c6c6" stroke-width="1" fill="none"/>
<rect x="1171.5" y="975.0" width="64.0" height="5.3" stroke="#c6c6c6" stroke-width="1" fill="none"/>
<rect x="1190.4" y="988.3" width="10.1" height="7.1" stroke="#c6c6c6" stroke-width="1" fill="none"/>
<rect x="1230.0" y="1023.3" width="6.6" height="17.9" stroke="#c6c6c6" stroke-width="1" fill="none"/>
<rect x="1213.5" y="1022.3" width="6.3" height="3.1" stroke="#c6c6c6" stroke-width="1" fill="none"/>
<rect x="1221.9" y="1021.3" width="8.4" height="4.7" stroke="#c6c6c6" stroke-width="1" fill="none"/>
<rect x="1186.2" y="1151.3" width="10.5" height="12.6" stroke="#c6c6c6" stroke-width="1" fill="none"/>
<rect x="1198.8" y="1151.3" width="7.4" height="9.0" stroke="#c6c6c6" stroke-width="1" fill="none"/>
<rect x="1208.2" y="1154.0" width="20.6" height="4.7" stroke="#c6c6c6" stroke-width="1" fill="none"/>
<rect x="1176.4" y="1178.6" width="41.3" height="4.2" stroke="#c6c6c6" stroke-width="1" fill="none"/>
<rect x="1215.6" y="1192.2" width="29.4" height="5.3" stroke="#c6c6c6" stroke-width="1" fill="none"/>
<rect x="1173.3" y="750.7" width="33.4" height="4.4" stroke="#c6c6c6" stroke-width="1" fill="none"/>
<rect x="1173.3" y="765.1" width="40.0" height="4.5" stroke="#c6c6c6" stroke-width="1" fill="none"/>
<rect x="1173.3" y="792.9" width="23.4" height="4.9" stroke="#c6c6c6" stroke-width="1" fill="none"/>
<rect x="1171.0" y="690.0" width="24.5" height="48.2" stroke="#c6c6c6" stroke-width="1" fill="none"/>
<circle cx="1209.3" cy="1027.5" r="3.5" stroke="#c6c6c6" stroke-width="1" fill="none"/>
<circle cx="1192.5" cy="1037" r="3.5" stroke="#c6c6c6" stroke-width="1" fill="none"/>
<line x1="1192.0" y1="1034.0" x2="1209.0" y2="1027.0" stroke="#c6c6c6" stroke-width="1"/>
<rect x="1217.3" y="704.0" width="9.8" height="6.7" fill="#d8d8d8"/>
<rect x="1235.1" y="703.0" width="9.8" height="7.0" fill="#b0b0b0"/>
<rect x="1216.0" y="718.4" width="10.2" height="7.6" fill="#a8a8a8"/>
<rect x="1233.8" y="717.0" width="10.6" height="8.0" fill="#c8c8c8"/>
<rect x="1271.5" y="808.5" width="43.5" height="5.0" fill="#2e2e2e"/>
<rect x="1273.0" y="810.0" width="42.0" height="2.0" fill="#5c5c5c"/>
<rect x="1313.5" y="805.5" width="13" height="11" rx="2.5" fill="#2a2a2a"/>
<rect x="1317.5" y="809.2" width="4.5" height="3.6" fill="#6a6a6a"/>
<rect x="1257.5" y="833.5" width="57.5" height="5.0" fill="#2e2e2e"/>
<rect x="1259.0" y="835.0" width="56.0" height="2.0" fill="#5c5c5c"/>
<rect x="1313.5" y="830.5" width="13" height="11" rx="2.5" fill="#2a2a2a"/>
<rect x="1317.5" y="834.2" width="4.5" height="3.6" fill="#6a6a6a"/>
<g transform="translate(1259,792) rotate(-28)">
<rect x="-11.0" y="-5.0" width="22.0" height="10.0" fill="#a8a8a8"/>
<rect x="-3.0" y="-3.0" width="8.0" height="5.0" fill="#6a6a6a"/>
</g>
<g transform="translate(1255,860) rotate(40)">
<rect x="-6.0" y="-2.0" width="12.0" height="4.0" fill="#b0b0b0"/>
</g>
<rect x="1257.0" y="825.0" width="6.0" height="6.0" stroke="#b0b0b0" stroke-width="1" fill="none"/>
<line x1="532.3" y1="488.0" x2="532.3" y2="540.0" stroke="#c4c4c4" stroke-width="1"/>
<line x1="540.3" y1="488.0" x2="540.3" y2="540.0" stroke="#c4c4c4" stroke-width="1"/>
<line x1="555.4" y1="488.0" x2="555.4" y2="540.0" stroke="#c4c4c4" stroke-width="1"/>
<line x1="563.3" y1="488.0" x2="563.3" y2="540.0" stroke="#c4c4c4" stroke-width="1"/>
<line x1="582.0" y1="488.0" x2="582.0" y2="540.0" stroke="#c4c4c4" stroke-width="1"/>
<line x1="590.3" y1="488.0" x2="590.3" y2="540.0" stroke="#c4c4c4" stroke-width="1"/>
<line x1="604.7" y1="488.0" x2="604.7" y2="540.0" stroke="#c4c4c4" stroke-width="1"/>
<line x1="613.0" y1="488.0" x2="613.0" y2="540.0" stroke="#c4c4c4" stroke-width="1"/>
<line x1="651.7" y1="488.0" x2="651.7" y2="540.0" stroke="#c4c4c4" stroke-width="1"/>
<line x1="659.4" y1="488.0" x2="659.4" y2="540.0" stroke="#c4c4c4" stroke-width="1"/>
<line x1="673.7" y1="488.0" x2="673.7" y2="540.0" stroke="#c4c4c4" stroke-width="1"/>
<line x1="681.7" y1="488.0" x2="681.7" y2="540.0" stroke="#c4c4c4" stroke-width="1"/>
<line x1="721.7" y1="488.0" x2="721.7" y2="540.0" stroke="#c4c4c4" stroke-width="1"/>
<line x1="729.7" y1="488.0" x2="729.7" y2="540.0" stroke="#c4c4c4" stroke-width="1"/>
<line x1="745.3" y1="488.0" x2="745.3" y2="540.0" stroke="#c4c4c4" stroke-width="1"/>
<line x1="753.3" y1="488.0" x2="753.3" y2="540.0" stroke="#c4c4c4" stroke-width="1"/>
<line x1="778.7" y1="488.0" x2="778.7" y2="540.0" stroke="#c4c4c4" stroke-width="1"/>
<line x1="787.3" y1="488.0" x2="787.3" y2="540.0" stroke="#c4c4c4" stroke-width="1"/>
<line x1="802.0" y1="488.0" x2="802.0" y2="540.0" stroke="#c4c4c4" stroke-width="1"/>
<line x1="814.0" y1="488.0" x2="814.0" y2="540.0" stroke="#c4c4c4" stroke-width="1"/>
<line x1="821.6" y1="488.0" x2="821.6" y2="540.0" stroke="#c4c4c4" stroke-width="1"/>
<line x1="837.3" y1="488.0" x2="837.3" y2="540.0" stroke="#c4c4c4" stroke-width="1"/>
<line x1="845.3" y1="488.0" x2="845.3" y2="540.0" stroke="#c4c4c4" stroke-width="1"/>
<line x1="856.7" y1="488.0" x2="856.7" y2="540.0" stroke="#c4c4c4" stroke-width="1"/>
<line x1="864.7" y1="488.0" x2="864.7" y2="540.0" stroke="#c4c4c4" stroke-width="1"/>
<line x1="879.3" y1="488.0" x2="879.3" y2="540.0" stroke="#c4c4c4" stroke-width="1"/>
<line x1="888.3" y1="488.0" x2="888.3" y2="540.0" stroke="#c4c4c4" stroke-width="1"/>
<line x1="892.0" y1="488.0" x2="892.0" y2="540.0" stroke="#c4c4c4" stroke-width="1"/>
<line x1="900.7" y1="488.0" x2="900.7" y2="540.0" stroke="#c4c4c4" stroke-width="1"/>
<line x1="927.3" y1="488.0" x2="927.3" y2="540.0" stroke="#c4c4c4" stroke-width="1"/>
<line x1="935.3" y1="488.0" x2="935.3" y2="540.0" stroke="#c4c4c4" stroke-width="1"/>
<line x1="951.3" y1="488.0" x2="951.3" y2="540.0" stroke="#c4c4c4" stroke-width="1"/>
<line x1="959.3" y1="488.0" x2="959.3" y2="540.0" stroke="#c4c4c4" stroke-width="1"/>
<line x1="537.7" y1="511.0" x2="537.7" y2="540.0" stroke="#8a8a8a" stroke-width="1.5"/>
<line x1="546.3" y1="511.0" x2="546.3" y2="540.0" stroke="#8a8a8a" stroke-width="1.5"/>
<line x1="592.3" y1="511.0" x2="592.3" y2="540.0" stroke="#8a8a8a" stroke-width="1.5"/>
<line x1="667.0" y1="511.0" x2="667.0" y2="540.0" stroke="#8a8a8a" stroke-width="1.5"/>
<line x1="739.0" y1="511.0" x2="739.0" y2="540.0" stroke="#8a8a8a" stroke-width="1.5"/>
<polyline points="790.0,540.0 790.0,511.7 801.3,511.7 801.3,540.0" stroke="#a8a8a8" stroke-width="1.2" fill="none"/>
<polyline points="817.3,540.0 817.3,511.7 836.3,511.7 836.3,540.0" stroke="#a8a8a8" stroke-width="1.2" fill="none"/>
<polyline points="866.4,540.0 866.4,511.7 879.3,511.7 879.3,540.0" stroke="#a8a8a8" stroke-width="1.2" fill="none"/>
<polyline points="896.0,540.0 896.0,511.7 914.7,511.7 914.7,540.0" stroke="#a8a8a8" stroke-width="1.2" fill="none"/>
<polyline points="937.3,540.0 937.3,511.7 950.7,511.7 950.7,540.0" stroke="#a8a8a8" stroke-width="1.2" fill="none"/>
<rect x="918.0" y="532.3" width="19.3" height="8.7" fill="#cfcfcf"/>
<rect x="880.7" y="496.3" width="8.6" height="6.7" fill="#cfcfcf"/>
<path d="M790,484.7 L800.4,484.7 L800.4,494 Z" fill="#bcbcbc"/>
<rect x="535.5" y="942.8" width="10.0" height="17.3" fill="#858585"/>
<rect x="537.5" y="932.0" width="6.0" height="10.8" stroke="#858585" stroke-width="1.2" fill="none"/>
<rect x="537.5" y="960.1" width="6.0" height="7.9" stroke="#858585" stroke-width="1.2" fill="none"/>
<rect x="580.5" y="1113.8" width="10.0" height="17.3" fill="#858585"/>
<rect x="582.5" y="1103.0" width="6.0" height="10.8" stroke="#858585" stroke-width="1.2" fill="none"/>
<rect x="582.5" y="1131.1" width="6.0" height="7.9" stroke="#858585" stroke-width="1.2" fill="none"/>
<rect x="655.0" y="1113.8" width="10.0" height="17.3" fill="#858585"/>
<rect x="657.0" y="1103.0" width="6.0" height="10.8" stroke="#858585" stroke-width="1.2" fill="none"/>
<rect x="657.0" y="1131.1" width="6.0" height="7.9" stroke="#858585" stroke-width="1.2" fill="none"/>
<rect x="728.0" y="523.0" width="10.0" height="19.2" fill="#a0a0a0"/>
<rect x="730.0" y="511.0" width="6.0" height="12.0" stroke="#a0a0a0" stroke-width="1.2" fill="none"/>
<rect x="730.0" y="542.2" width="6.0" height="8.8" stroke="#a0a0a0" stroke-width="1.2" fill="none"/>
<rect x="785.0" y="523.0" width="10.0" height="19.2" fill="#7a7a7a"/>
<rect x="787.0" y="511.0" width="6.0" height="12.0" stroke="#7a7a7a" stroke-width="1.2" fill="none"/>
<rect x="787.0" y="542.2" width="6.0" height="8.8" stroke="#7a7a7a" stroke-width="1.2" fill="none"/>
<rect x="820.0" y="995.8" width="10.0" height="17.3" fill="#858585"/>
<rect x="822.0" y="985.0" width="6.0" height="10.8" stroke="#858585" stroke-width="1.2" fill="none"/>
<rect x="822.0" y="1013.1" width="6.0" height="7.9" stroke="#858585" stroke-width="1.2" fill="none"/>
<rect x="869.0" y="542.0" width="10.0" height="19.2" fill="#7a7a7a"/>
<rect x="871.0" y="530.0" width="6.0" height="12.0" stroke="#7a7a7a" stroke-width="1.2" fill="none"/>
<rect x="871.0" y="561.2" width="6.0" height="8.8" stroke="#7a7a7a" stroke-width="1.2" fill="none"/>
<rect x="905.0" y="880.8" width="10.0" height="17.3" fill="#858585"/>
<rect x="907.0" y="870.0" width="6.0" height="10.8" stroke="#858585" stroke-width="1.2" fill="none"/>
<rect x="907.0" y="898.1" width="6.0" height="7.9" stroke="#858585" stroke-width="1.2" fill="none"/>
<rect x="940.0" y="628.8" width="10.0" height="17.3" fill="#858585"/>
<rect x="942.0" y="618.0" width="6.0" height="10.8" stroke="#858585" stroke-width="1.2" fill="none"/>
<rect x="942.0" y="646.1" width="6.0" height="7.9" stroke="#858585" stroke-width="1.2" fill="none"/>
<text x="1252.3" y="386.3" font-size="7" font-weight="bold" fill="#181818">+Z</text>
<g transform="translate(863.5,340.5) rotate(58)">
<rect x="-12.0" y="-5.0" width="24.0" height="10.0" fill="#d0d0d0"/>
<rect x="-6.0" y="-3.0" width="8.0" height="6.0" fill="#6a6a6a"/>
<rect x="-12.0" y="-5.0" width="24.0" height="10.0" stroke="#d8d8d8" stroke-width="0.8" fill="none"/>
</g>
</svg></body></html>
